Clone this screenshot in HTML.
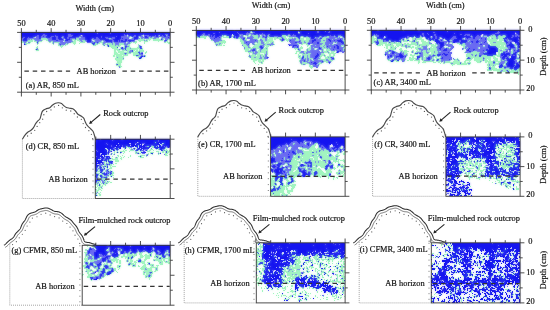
<!DOCTYPE html>
<html><head><meta charset="utf-8"><style>
html,body{margin:0;padding:0;background:#fff;}
svg{display:block;}
text{font-family:"Liberation Serif","Times New Roman",serif;font-size:8.4px;fill:#111;stroke:#111;stroke-width:0.18px;}
</style></head><body>
<svg width="550" height="310" viewBox="0 0 550 310">
<defs><filter id="sb" filterUnits="userSpaceOnUse" x="0" y="0" width="550" height="310"><feGaussianBlur stdDeviation="0.8"/></filter><g id="dye"><path stroke="#1414f0" stroke-width="1" fill="none" d="M196 30.5h38m1 0h53m1 0h56m26 0h6m2 0h24m1 0h14m2 0h100M197 31.5h53m2 0h46m1 0h18m2 0h6m1 0h3m1 0h15m26 0h76m1 0h50m1 0h21M21 32.5h76m1 0h30m2 0h40m26 0h23m1 0h17m1 0h9m1 0h2m5 0h43m2 0h17m2 0h9m2 0h15m26 0h62m2 0h62m3 0h15m1 0h4M21 33.5h76m1 0h12m1 0h59m26 0h7m2 0h8m2 0h23m1 0h7m7 0h9m1 0h35m2 0h8m1 0h36m26 0h51m2 0h3m1 0h26m1 0h40m4 0h16m2 0h3M21 34.5h22m2 0h23m3 0h53m1 0h2m1 0h15m1 0h21m3 0h2m26 0h6m3 0h3m2 0h22m1 0h6m4 0h3m8 0h2m2 0h1m6 0h3m2 0h18m2 0h3m1 0h51m26 0h3m1 0h1m1 0h45m2 0h4m1 0h5m2 0h24m2 0h3m5 0h11m3 0h8m3 0h20m3 0h2M21 35.5h16m2 0h3m5 0h8m1 0h12m5 0h7m3 0h41m5 0h5m2 0h5m8 0h6m1 0h2m2 0h2m1 0h3m2 0h2m27 0h4m9 0h1m1 0h2m1 0h7m5 0h4m3 0h5m27 0h1m2 0h13m9 0h1m4 0h34m1 0h3m1 0h3m3 0h4m26 0h2m6 0h41m1 0h2m1 0h10m2 0h28m2 0h1m3 0h1m1 0h5m2 0h1m7 0h3m6 0h2m3 0h1m4 0h6m2 0h1M21 36.5h14m4 0h2m2 0h1m2 0h5m3 0h1m3 0h4m2 0h4m4 0h7m4 0h18m1 0h14m1 0h4m11 0h1m3 0h2m7 0h2m4 0h1m4 0h2m6 0h2m32 0h2m10 0h1m1 0h1m2 0h4m10 0h2m3 0h1m1 0h3m24 0h1m2 0h1m3 0h4m4 0h3m15 0h4m4 0h2m2 0h11m3 0h2m12 0h2m5 0h2m26 0h1m7 0h5m2 0h21m2 0h5m1 0h5m2 0h1m2 0h5m3 0h2m2 0h16m3 0h14m3 0h3m20 0h1m9 0h6m2 0h1m2 0h1M21 37.5h2m2 0h3m1 0h4m6 0h2m5 0h4m2 0h4m2 0h3m3 0h3m2 0h7m9 0h11m2 0h3m1 0h3m3 0h4m3 0h6m13 0h4m7 0h3m20 0h1m46 0h2m2 0h1m9 0h2m3 0h1m1 0h2m27 0h2m31 0h2m11 0h4m29 0h1m32 0h6m3 0h19m1 0h1m9 0h3m7 0h4m3 0h2m2 0h2m3 0h10m4 0h8m2 0h5m2 0h2m30 0h6m2 0h7M24 38.5h3m12 0h2m11 0h4m2 0h4m3 0h2m2 0h1m5 0h1m9 0h7m2 0h2m3 0h7m9 0h6m1 0h1m11 0h4m76 0h1m28 0h2m37 0h1m16 0h1m11 0h3m6 0h2m55 0h6m2 0h17m24 0h2m1 0h2m1 0h3m2 0h2m4 0h1m1 0h6m6 0h5m5 0h1m5 0h2m6 0h1m3 0h1m17 0h4m1 0h10m1 0h1M23 39.5h4m25 0h4m3 0h4m3 0h4m15 0h6m9 0h9m4 0h7m5 0h2m7 0h1m26 0h1m81 0h1m38 0h2m30 0h2m12 0h2m10 0h1m42 0h18m2 0h1m25 0h5m1 0h3m8 0h4m4 0h8m23 0h1m18 0h1m4 0h9M23 40.5h4m29 0h2m7 0h3m19 0h4m14 0h7m2 0h4m1 0h1m1 0h2m2 0h2m1 0h6m31 0h2m88 0h1m26 0h1m7 0h1m21 0h4m13 0h2m3 0h1m2 0h5m35 0h1m5 0h1m2 0h3m2 0h8m8 0h2m5 0h1m15 0h1m4 0h4m2 0h1m5 0h2m4 0h6m2 0h6m10 0h1m26 0h2m6 0h7M87 41.5h4m15 0h6m2 0h4m1 0h1m1 0h5m3 0h2m168 0h1m12 0h2m16 0h1m7 0h5m34 0h1m5 0h1m7 0h3m2 0h5m13 0h1m20 0h5m8 0h2m3 0h6m2 0h6m4 0h2m3 0h3m6 0h1m19 0h2m7 0h4M37 42.5h1m56 0h1m2 0h1m13 0h1m134 0h1m48 0h2m15 0h1m4 0h2m22 0h3m32 0h3m10 0h1m10 0h1m35 0h8m9 0h2m5 0h6m6 0h1m3 0h2m6 0h1m21 0h2m2 0h1m4 0h4M92 43.5h3m213 0h2m7 0h2m23 0h2m33 0h2m58 0h1m1 0h5m16 0h2m44 0h1m3 0h2m5 0h3M24 44.5h1m35 0h1m32 0h1m154 0h1m128 0h1m62 0h4m36 0h2m27 0h4m4 0h3M108 45.5h1m180 0h1m3 0h4m39 0h2m102 0h4m44 0h2m17 0h7m4 0h1M108 46.5h1m16 0h2m13 0h1m119 0h2m31 0h1m3 0h1m29 0h1m6 0h1m2 0h2m101 0h3m45 0h8m11 0h1m2 0h4m4 0h2M117 47.5h1m4 0h1m2 0h1m14 0h1m119 0h3m34 0h1m21 0h1m14 0h1m2 0h2m101 0h2m46 0h9m13 0h5m3 0h2M121 48.5h2m2 0h1m14 0h2m119 0h2m56 0h2m16 0h2m100 0h2m5 0h1m22 0h1m19 0h9m12 0h1M36 49.5h1m88 0h1m127 0h2m43 0h1m34 0h1m106 0h1m3 0h3m21 0h1m4 0h2m11 0h2m1 0h9m11 0h2m7 0h1M132 50.5h1m119 0h3m85 0h1m48 0h2m52 0h4m20 0h2m4 0h1m9 0h1m2 0h12m16 0h1m2 0h2M132 51.5h1m204 0h2m53 0h2m75 0h2m16 0h11m8 0h1m10 0h2M138 52.5h2m197 0h1m54 0h3m53 0h1m38 0h9m7 0h2m10 0h2M125 53.5h1m13 0h1m1 0h2m174 0h1m74 0h2m6 0h1m14 0h3m1 0h2m22 0h2m38 0h13m5 0h4m1 0h4m3 0h3M317 54.5h2m66 0h1m13 0h3m35 0h4m1 0h1m1 0h4m36 0h12m5 0h9m2 0h4M136 55.5h2m178 0h3m71 0h2m7 0h4m30 0h2m2 0h3m5 0h2m28 0h1m3 0h2m6 0h6m8 0h2m1 0h3m2 0h1m2 0h1m2 0h1M141 56.5h2m1 0h1m158 0h1m11 0h3m70 0h1m1 0h2m4 0h8m1 0h1m11 0h3m59 0h2m22 0h4m4 0h5M140 57.5h2m125 0h1m34 0h2m11 0h2m14 0h1m56 0h1m7 0h1m3 0h3m14 0h3m8 0h2m12 0h1m25 0h1m33 0h3m2 0h1m3 0h5m3 0h1M139 58.5h2m161 0h1m11 0h2m16 0h2m83 0h1m9 0h3m11 0h2m24 0h3m13 0h1m18 0h3m1 0h3m1 0h6M428 59.5h2m7 0h2m10 0h1m53 0h1m3 0h8M304 60.5h1m87 0h2m3 0h2m38 0h1m69 0h7M304 61.5h1m17 0h1m68 0h2m115 0h7m4 0h1M311 62.5h1m2 0h2m13 0h1m163 0h2m12 0h8m4 0h1M313 63.5h4m143 0h1m45 0h9m1 0h2M117 64.5h1m197 0h1m185 0h1m4 0h8m2 0h3M500 65.5h3m4 0h8m1 0h4M499 66.5h4m4 0h7m1 0h5M489 67.5h1m9 0h3m2 0h2m4 0h3m1 0h5M489 68.5h2m19 0h3m1 0h4M514 69.5h3M507 70.5h1M508 71.5h1M508 72.5h1M271 137.5h74m101 0h15m1 0h12m2 0h26m1 0h12m1 0h4M271 138.5h74m101 0h9m1 0h18m2 0h21m1 0h4m2 0h15M95 139.5h5m1 0h12m1 0h7m2 0h47m101 0h20m1 0h53m101 0h9m1 0h13m1 0h5m1 0h29m1 0h13M96 140.5h16m1 0h45m1 0h11m101 0h33m2 0h39m102 0h5m1 0h1m2 0h2m2 0h7m1 0h1m1 0h9m1 0h1m1 0h1m2 0h20m1 0h9m1 0h3M96 141.5h62m1 0h11m101 0h22m4 0h6m9 0h33m101 0h8m1 0h3m1 0h7m1 0h12m2 0h11m3 0h4m1 0h5m5 0h2m1 0h2m1 0h4M95 142.5h42m2 0h16m1 0h14m101 0h20m7 0h2m2 0h1m10 0h3m1 0h19m1 0h8m101 0h6m1 0h4m3 0h5m4 0h3m1 0h1m2 0h5m2 0h2m2 0h6m1 0h5m3 0h4m2 0h1m2 0h4m1 0h4M95 143.5h11m1 0h11m1 0h10m2 0h4m2 0h5m3 0h14m1 0h2m2 0h6m101 0h15m1 0h3m9 0h1m7 0h2m4 0h1m4 0h27m101 0h1m3 0h6m2 0h1m3 0h1m2 0h1m3 0h3m1 0h1m2 0h7m3 0h12m1 0h2m2 0h3m10 0h4M95 144.5h12m1 0h22m1 0h4m1 0h4m1 0h1m2 0h16m3 0h7m101 0h14m3 0h1m18 0h2m11 0h11m2 0h4m1 0h7m102 0h4m1 0h4m2 0h1m4 0h1m5 0h1m1 0h1m1 0h2m2 0h2m1 0h1m1 0h2m2 0h3m1 0h6m1 0h1m2 0h2m4 0h1m6 0h7M95 145.5h16m1 0h4m1 0h2m1 0h2m1 0h7m1 0h7m1 0h3m1 0h8m2 0h4m2 0h2m2 0h7m101 0h8m1 0h2m26 0h1m10 0h2m2 0h6m4 0h8m2 0h2m101 0h4m2 0h6m5 0h1m8 0h1m2 0h5m1 0h4m1 0h2m1 0h7m1 0h1m20 0h2M95 146.5h16m1 0h10m1 0h3m2 0h6m1 0h3m1 0h6m4 0h2m3 0h2m1 0h1m1 0h2m1 0h2m1 0h1m1 0h3m101 0h7m3 0h1m20 0h1m16 0h2m3 0h5m6 0h5m4 0h1m102 0h6m2 0h3m3 0h1m10 0h1m3 0h5m1 0h3m1 0h10m7 0h1m13 0h3M95 147.5h19m2 0h5m4 0h1m11 0h1m1 0h3m1 0h7m4 0h11m3 0h1m102 0h6m45 0h1m2 0h4m5 0h5m5 0h1m102 0h2m1 0h7m4 0h1m9 0h1m1 0h1m1 0h11m1 0h1m2 0h5m3 0h1m11 0h3M95 148.5h10m2 0h6m2 0h3m1 0h2m4 0h1m8 0h1m3 0h2m1 0h8m7 0h2m2 0h5m106 0h5m50 0h3m3 0h3m2 0h1m109 0h1m1 0h8m3 0h1m2 0h3m1 0h3m2 0h1m1 0h4m1 0h5m1 0h1m1 0h9m18 0h1m1 0h4M95 149.5h11m2 0h2m1 0h3m2 0h2m19 0h2m1 0h2m1 0h1m16 0h2m109 0h2m54 0h3m3 0h1m2 0h2m2 0h1m3 0h1m101 0h6m1 0h3m1 0h2m2 0h1m1 0h2m2 0h6m2 0h3m3 0h2m1 0h1m1 0h9m20 0h5M95 150.5h1m1 0h10m2 0h1m3 0h2m21 0h2m2 0h1m5 0h1m14 0h2m120 0h1m35 0h1m9 0h2m3 0h2m4 0h1m105 0h1m1 0h10m3 0h1m1 0h2m2 0h1m2 0h3m1 0h4m3 0h6m2 0h3m1 0h2m16 0h1m2 0h1m3 0h2M95 151.5h2m1 0h9m1 0h1m2 0h1m54 0h1m116 0h1m8 0h2m25 0h1m9 0h2m9 0h1m105 0h1m2 0h4m1 0h3m7 0h1m1 0h2m1 0h10m1 0h12m1 0h3m19 0h1m2 0h2M95 152.5h12m1 0h1m8 0h1m2 0h1m20 0h5m20 0h1m116 0h1m5 0h1m2 0h3m17 0h2m132 0h1m1 0h3m1 0h1m2 0h2m1 0h2m1 0h1m1 0h3m1 0h1m1 0h2m1 0h8m4 0h12m4 0h1m14 0h5M95 153.5h5m2 0h5m1 0h1m29 0h1m12 0h2m7 0h1m132 0h3m6 0h1m143 0h1m2 0h2m1 0h1m1 0h3m1 0h5m6 0h12m1 0h10m2 0h1m1 0h1m9 0h1m7 0h5M95 154.5h5m1 0h6m181 0h1m6 0h1m34 0h1m115 0h1m1 0h4m2 0h10m1 0h3m1 0h1m2 0h2m1 0h2m1 0h12m4 0h1m3 0h2m14 0h5M95 155.5h5m1 0h1m2 0h1m224 0h2m117 0h4m3 0h12m2 0h2m2 0h6m1 0h1m1 0h5m1 0h3m2 0h2m11 0h1m9 0h1M95 156.5h1m1 0h6m1 0h1m1 0h3m31 0h1m147 0h2m8 0h1m21 0h1m127 0h11m2 0h6m6 0h2m1 0h5m1 0h14m10 0h5m5 0h2m1 0h1M95 157.5h5m1 0h3m2 0h2m1 0h1m162 0h1m15 0h2m8 0h1m21 0h2m124 0h12m3 0h1m1 0h5m4 0h9m1 0h15m17 0h1m2 0h3M95 158.5h5m2 0h2m2 0h5m160 0h4m7 0h1m163 0h4m2 0h3m2 0h1m8 0h2m1 0h1m2 0h1m7 0h1m1 0h1m3 0h10m8 0h2m7 0h1m3 0h3M95 159.5h3m3 0h2m2 0h2m1 0h1m162 0h4m172 0h3m1 0h2m1 0h2m10 0h2m18 0h3m1 0h1m4 0h1m18 0h1m2 0h3M95 160.5h8m1 0h3m1 0h1m162 0h4m6 0h2m3 0h1m3 0h1m33 0h1m4 0h1m116 0h4m2 0h5m3 0h2m3 0h1m11 0h1m2 0h1m4 0h7m1 0h3m5 0h2m3 0h1m5 0h1m4 0h1M95 161.5h7m4 0h1m1 0h5m158 0h5m9 0h6m18 0h1m19 0h1m116 0h3m1 0h14m10 0h1m2 0h1m7 0h14m5 0h2m1 0h1m2 0h1m6 0h3M95 162.5h2m1 0h5m6 0h3m159 0h2m32 0h7m17 0h2m117 0h1m2 0h7m28 0h3m1 0h2m3 0h4m1 0h1m4 0h1m4 0h2m7 0h1M95 163.5h5m2 0h1m8 0h1m166 0h4m24 0h1m3 0h2m17 0h1m117 0h3m1 0h9m1 0h2m24 0h1m3 0h2m1 0h5m1 0h1m2 0h1m7 0h8M95 164.5h2m6 0h1m3 0h1m1 0h1m167 0h4m7 0h1m12 0h2m8 0h1m16 0h1m9 0h2m107 0h12m29 0h4m1 0h1m3 0h2m1 0h1m2 0h1m2 0h6m2 0h6M95 165.5h4m174 0h2m2 0h3m10 0h1m9 0h5m3 0h1m1 0h2m14 0h3m2 0h2m115 0h4m1 0h1m1 0h3m12 0h1m19 0h4m4 0h1m9 0h2m3 0h2m3 0h2M95 166.5h3m2 0h1m4 0h1m1 0h1m164 0h4m2 0h2m21 0h1m6 0h1m1 0h2m13 0h3m2 0h3m114 0h4m1 0h2m1 0h3m4 0h1m13 0h1m13 0h3m1 0h3m1 0h1m14 0h2m2 0h3M95 167.5h2m3 0h2m5 0h1m165 0h2m2 0h2m3 0h2m2 0h1m11 0h1m27 0h1m3 0h3m113 0h1m1 0h3m1 0h4m1 0h2m4 0h1m13 0h1m8 0h2m1 0h8m4 0h1m8 0h2m1 0h6M95 168.5h2m3 0h1m3 0h1m172 0h6m15 0h2m25 0h2m120 0h12m18 0h1m9 0h6m1 0h4m1 0h4m6 0h8m1 0h1M95 169.5h2m3 0h3m168 0h2m2 0h8m7 0h1m8 0h2m3 0h1m6 0h1m14 0h1m119 0h3m1 0h9m27 0h1m2 0h10m1 0h3m2 0h1m3 0h11M95 170.5h2m3 0h3m4 0h1m163 0h2m1 0h5m1 0h3m16 0h2m2 0h3m140 0h6m3 0h4m5 0h1m4 0h1m16 0h2m2 0h9m1 0h1m2 0h3m3 0h1m1 0h3m3 0h3M96 171.5h1m4 0h1m6 0h1m2 0h1m160 0h1m1 0h5m1 0h2m1 0h2m14 0h6m10 0h2m129 0h1m1 0h1m2 0h11m5 0h3m15 0h7m3 0h11m3 0h2m4 0h1M95 172.5h1m4 0h2m8 0h1m164 0h7m2 0h1m17 0h4m2 0h2m4 0h3m129 0h3m1 0h2m1 0h3m1 0h1m1 0h3m24 0h6m1 0h7m2 0h1m1 0h5m1 0h3m1 0h4m1 0h1M95 173.5h1m6 0h3m1 0h1m1 0h1m1 0h2m164 0h7m20 0h4m1 0h2m4 0h3m22 0h1m106 0h1m1 0h1m1 0h3m2 0h4m1 0h1m12 0h1m11 0h1m1 0h2m1 0h10m2 0h1m3 0h4m2 0h6M96 174.5h2m6 0h3m3 0h1m165 0h3m6 0h1m2 0h1m14 0h7m4 0h2m13 0h2m115 0h9m1 0h1m1 0h1m13 0h1m12 0h1m1 0h2m2 0h3m1 0h5m1 0h4m4 0h11M96 175.5h2m2 0h2m174 0h2m7 0h2m11 0h1m3 0h3m3 0h2m4 0h1m14 0h1m116 0h14m21 0h2m2 0h4m7 0h2m5 0h7m2 0h4M95 176.5h2m3 0h2m9 0h1m163 0h7m3 0h1m17 0h2m141 0h1m1 0h2m1 0h7m12 0h1m11 0h1m2 0h1m1 0h2m7 0h1m1 0h2m9 0h7M96 177.5h1m4 0h1m2 0h3m168 0h4m1 0h3m1 0h3m4 0h1m154 0h1m4 0h4m3 0h1m31 0h1m5 0h1m1 0h3m7 0h2m1 0h2M275 178.5h3m2 0h3m8 0h2m155 0h2m1 0h3m3 0h1m38 0h1m14 0h2M97 179.5h1m177 0h2m3 0h2m9 0h2m155 0h1m1 0h5m46 0h1m4 0h1m1 0h1m2 0h3M95 180.5h5m4 0h1m170 0h2m3 0h2m10 0h1m153 0h5m3 0h2m5 0h1M95 181.5h2m182 0h3m9 0h2m156 0h4m1 0h3m2 0h1m1 0h3M95 182.5h1m184 0h2m6 0h4m158 0h3m1 0h3m2 0h1m3 0h2m2 0h2m32 0h3m3 0h4M103 183.5h1m171 0h1m5 0h2m5 0h2m158 0h1m2 0h1m3 0h3m11 0h1m31 0h1m6 0h2M99 184.5h1m175 0h1m4 0h3m5 0h1m157 0h3m4 0h2m3 0h3m6 0h3m43 0h1M99 185.5h1m182 0h1m163 0h1m5 0h4m7 0h1m2 0h1m2 0h1m43 0h1M274 186.5h1m4 0h1m174 0h1m7 0h2m42 0h1M274 187.5h1m3 0h2m170 0h2m2 0h2m3 0h6m1 0h3M273 188.5h2m2 0h2m170 0h1m2 0h3m1 0h3m1 0h2m1 0h1m1 0h3m45 0h1M272 189.5h4m1 0h2m167 0h2m4 0h2m1 0h5m1 0h1m1 0h1m2 0h1m2 0h3m41 0h1M271 190.5h5m170 0h4m2 0h1m1 0h3m2 0h1m1 0h1m1 0h5m1 0h1m1 0h1M271 191.5h2m173 0h3m1 0h1m1 0h1m2 0h1m1 0h1m1 0h2m1 0h5M452 192.5h1m1 0h2m1 0h3m4 0h2m1 0h1M273 193.5h1m176 0h1m7 0h3m4 0h5M450 194.5h5m2 0h3m5 0h1m2 0h2M96 195.5h1m353 0h3m1 0h1m1 0h3m1 0h2m2 0h3m4 0h1M259 243.5h1m3 0h26m1 0h43m1 0h11m100 0h2m3 0h1m1 0h40m1 0h27M258 244.5h1m4 0h62m1 0h9m1 0h3m1 0h5m101 0h1m5 0h68M93 245.5h14m2 0h21m1 0h39m93 0h1m1 0h8m1 0h39m1 0h31m87 0h2m1 0h1m8 0h1m6 0h1m1 0h45m1 0h21M94 246.5h36m1 0h39m93 0h16m1 0h65m99 0h1m3 0h1m4 0h67M95 247.5h13m2 0h34m1 0h7m2 0h16m93 0h24m1 0h57m103 0h2m3 0h5m2 0h9m1 0h1m1 0h39m1 0h8M90 248.5h1m5 0h12m2 0h5m1 0h1m4 0h31m3 0h15m93 0h14m1 0h1m1 0h1m1 0h44m1 0h13m1 0h4m104 0h2m2 0h5m2 0h12m1 0h4m1 0h20m2 0h5m1 0h1m1 0h2m2 0h8M89 249.5h3m5 0h9m4 0h4m1 0h3m1 0h1m2 0h8m1 0h6m1 0h14m3 0h15m93 0h12m1 0h62m1 0h6m100 0h1m3 0h1m3 0h7m1 0h2m2 0h3m1 0h1m3 0h4m3 0h4m1 0h7m1 0h4m1 0h7m1 0h8m2 0h4M89 250.5h1m6 0h10m4 0h7m5 0h8m1 0h6m2 0h4m2 0h6m1 0h1m1 0h3m2 0h7m3 0h1m92 0h29m2 0h1m1 0h20m1 0h20m2 0h7m101 0h2m1 0h1m3 0h6m1 0h1m1 0h1m1 0h1m1 0h4m5 0h2m3 0h2m1 0h1m1 0h8m1 0h3m4 0h13m1 0h5M88 251.5h2m6 0h11m3 0h2m1 0h4m4 0h3m2 0h3m3 0h5m2 0h3m5 0h5m3 0h2m3 0h5m4 0h1m94 0h7m1 0h4m1 0h9m1 0h3m6 0h17m1 0h1m1 0h4m1 0h6m1 0h6m4 0h5m1 0h1m103 0h1m6 0h3m2 0h4m2 0h6m9 0h1m4 0h11m2 0h1m1 0h10m3 0h6M88 252.5h2m4 0h14m6 0h3m4 0h3m2 0h2m3 0h5m12 0h3m5 0h2m3 0h4m4 0h1m87 0h1m5 0h2m1 0h5m1 0h1m1 0h1m2 0h5m2 0h4m1 0h2m1 0h3m1 0h12m1 0h3m1 0h5m3 0h3m5 0h3m4 0h2m1 0h1m1 0h4m94 0h2m8 0h2m1 0h1m2 0h4m1 0h4m3 0h1m1 0h4m12 0h3m1 0h5m1 0h1m1 0h1m6 0h4m1 0h1m6 0h2M88 253.5h1m5 0h13m6 0h2m1 0h2m3 0h2m7 0h2m24 0h2m2 0h4m94 0h1m3 0h2m1 0h6m1 0h1m1 0h1m1 0h5m3 0h3m2 0h2m1 0h9m1 0h8m1 0h7m1 0h2m1 0h3m1 0h19m95 0h1m11 0h4m1 0h4m3 0h4m1 0h1m1 0h2m8 0h1m2 0h3m2 0h2m1 0h2m3 0h2m1 0h1m2 0h3m3 0h2m1 0h2m2 0h4M94 254.5h5m3 0h5m5 0h6m32 0h1m8 0h2m1 0h2m5 0h1m92 0h7m1 0h12m1 0h12m1 0h5m2 0h7m2 0h1m1 0h2m2 0h7m4 0h4m1 0h10m96 0h1m6 0h1m2 0h1m1 0h4m3 0h9m1 0h4m4 0h2m5 0h2m2 0h3m1 0h4m1 0h1m1 0h7m1 0h2m1 0h1m2 0h1m1 0h3M94 255.5h5m4 0h1m1 0h1m6 0h6m32 0h1m11 0h2m5 0h1m92 0h9m1 0h2m2 0h13m1 0h2m4 0h4m4 0h3m5 0h3m4 0h3m2 0h6m3 0h5m3 0h2m1 0h1m86 0h3m9 0h1m3 0h2m1 0h2m1 0h5m3 0h1m2 0h2m3 0h4m4 0h2m11 0h5m1 0h5m1 0h3m2 0h2m1 0h1m2 0h4M94 256.5h5m7 0h4m3 0h5m14 0h1m23 0h1m5 0h3m94 0h1m2 0h12m3 0h10m1 0h3m4 0h1m14 0h1m9 0h2m6 0h4m1 0h4m3 0h5m91 0h1m2 0h1m11 0h8m1 0h1m3 0h3m2 0h3m1 0h2m2 0h1m1 0h1m3 0h1m2 0h1m2 0h2m1 0h7m1 0h5m1 0h3m5 0h3m2 0h1M94 257.5h5m6 0h3m6 0h1m13 0h1m2 0h2m24 0h1m5 0h2m97 0h7m1 0h6m1 0h1m2 0h9m3 0h3m14 0h1m9 0h3m3 0h1m9 0h3m3 0h3m94 0h1m12 0h1m1 0h4m1 0h1m1 0h2m2 0h5m1 0h2m5 0h1m1 0h1m9 0h4m1 0h1m1 0h1m6 0h1m1 0h4m5 0h3m2 0h1M94 258.5h3m5 0h4m1 0h1m20 0h1m2 0h1m27 0h2m101 0h1m1 0h11m2 0h1m2 0h11m1 0h1m16 0h1m24 0h1m6 0h1m102 0h3m2 0h3m4 0h1m1 0h2m2 0h4m1 0h1m2 0h1m5 0h1m2 0h1m4 0h1m4 0h6m1 0h1m8 0h4m1 0h1m2 0h1m1 0h3M102 259.5h4m156 0h1m2 0h3m1 0h7m2 0h3m3 0h5m1 0h3m2 0h1m32 0h1m102 0h1m14 0h4m1 0h1m2 0h3m1 0h1m2 0h11m11 0h2m5 0h4m9 0h1m1 0h3m1 0h2m1 0h1m1 0h2M102 260.5h4m2 0h1m30 0h2m125 0h4m1 0h6m1 0h7m1 0h1m1 0h7m10 0h4m126 0h1m6 0h8m4 0h3m1 0h1m1 0h1m1 0h8m4 0h1m4 0h1m5 0h2m1 0h13m2 0h2m1 0h2m1 0h3m3 0h3M103 261.5h1m4 0h3m27 0h3m124 0h4m1 0h13m3 0h2m2 0h1m1 0h3m23 0h1m116 0h1m6 0h11m2 0h2m1 0h1m1 0h1m1 0h1m1 0h7m3 0h2m3 0h3m3 0h5m2 0h3m1 0h5m1 0h2m1 0h6m1 0h2m1 0h3M86 262.5h1m13 0h1m159 0h3m3 0h1m3 0h5m2 0h3m1 0h1m2 0h6m1 0h3m10 0h1m6 0h1m124 0h1m8 0h4m1 0h1m1 0h3m1 0h1m2 0h5m1 0h3m6 0h2m1 0h1m1 0h3m3 0h10m2 0h1m5 0h1m1 0h1m3 0h1m1 0h2m3 0h1m1 0h2M86 263.5h2m2 0h3m6 0h2m48 0h1m109 0h4m5 0h19m1 0h2m2 0h2m9 0h1m16 0h1m1 0h1m15 0h1m95 0h1m1 0h1m7 0h3m9 0h1m4 0h3m2 0h1m2 0h2m2 0h1m6 0h1m3 0h2m1 0h6m3 0h1m1 0h1m2 0h1m3 0h1m2 0h5m5 0h2M90 264.5h3m4 0h4m28 0h1m134 0h3m1 0h21m3 0h1m2 0h1m7 0h1m8 0h1m7 0h1m5 0h1m106 0h2m9 0h3m16 0h8m2 0h1m6 0h1m4 0h9m1 0h1m2 0h1m7 0h4m1 0h4m2 0h3M87 265.5h1m4 0h1m4 0h3m5 0h2m26 0h1m133 0h17m1 0h5m11 0h1m9 0h2m7 0h1m110 0h2m11 0h2m1 0h3m4 0h2m7 0h3m1 0h5m3 0h1m1 0h1m7 0h11m1 0h2m6 0h1m1 0h3m5 0h2m1 0h2M86 266.5h3m6 0h1m2 0h1m5 0h4m11 0h1m144 0h1m2 0h1m1 0h1m1 0h8m1 0h6m2 0h1m12 0h1m28 0h1m4 0h1m4 0h1m90 0h2m3 0h2m4 0h7m1 0h2m2 0h2m5 0h5m1 0h4m10 0h3m2 0h9m2 0h1m7 0h2m1 0h2m6 0h1m2 0h1M86 267.5h3m9 0h1m6 0h3m157 0h11m1 0h2m2 0h1m156 0h1m3 0h5m1 0h5m12 0h3m2 0h1m12 0h1m2 0h9m2 0h1m2 0h2m1 0h1m1 0h3m1 0h2m1 0h5m1 0h2M88 268.5h1m9 0h2m3 0h1m2 0h1m5 0h1m152 0h18m4 0h1m33 0h2m1 0h1m12 0h1m94 0h3m3 0h3m1 0h3m1 0h1m2 0h4m2 0h1m2 0h2m4 0h4m4 0h2m5 0h1m2 0h5m1 0h3m1 0h1m4 0h4m1 0h1m4 0h1m2 0h10M103 269.5h2m7 0h1m152 0h3m2 0h14m19 0h1m26 0h1m101 0h3m4 0h8m1 0h2m1 0h1m6 0h3m1 0h1m3 0h2m4 0h1m11 0h4m1 0h2m6 0h2m3 0h1m4 0h1m2 0h3m2 0h3M97 270.5h1m5 0h2m6 0h2m151 0h1m1 0h2m2 0h2m4 0h6m30 0h1m28 0h1m97 0h3m2 0h5m4 0h3m1 0h1m2 0h1m2 0h8m15 0h6m2 0h1m3 0h1m1 0h1m3 0h4m1 0h4m3 0h4M101 271.5h4m4 0h4m146 0h1m4 0h5m1 0h3m2 0h1m2 0h5m24 0h1m31 0h1m98 0h3m2 0h3m5 0h1m2 0h1m2 0h9m1 0h4m5 0h2m1 0h2m1 0h3m4 0h3m1 0h2m5 0h2m3 0h5m3 0h1m2 0h1m1 0h2M95 272.5h1m6 0h3m2 0h4m39 0h2m112 0h9m1 0h4m1 0h3m42 0h1m113 0h8m3 0h1m2 0h3m1 0h1m1 0h1m2 0h2m1 0h7m5 0h1m1 0h3m1 0h1m1 0h1m3 0h3m2 0h4m3 0h3m4 0h1m4 0h1m5 0h2M102 273.5h2m3 0h4m154 0h2m2 0h1m2 0h1m1 0h4m3 0h2m19 0h1m22 0h1m6 0h2m98 0h1m2 0h1m2 0h8m16 0h1m2 0h2m3 0h1m14 0h1m2 0h5m11 0h1m8 0h1m1 0h1m1 0h3M100 274.5h2m5 0h2m156 0h3m1 0h2m1 0h4m1 0h3m1 0h2m41 0h1m107 0h1m2 0h1m1 0h1m1 0h7m5 0h2m9 0h6m2 0h3m3 0h5m7 0h5m7 0h1m3 0h2m1 0h5m2 0h6M100 275.5h2m47 0h1m113 0h4m2 0h12m20 0h1m4 0h1m4 0h2m1 0h1m4 0h1m20 0h1m92 0h5m1 0h6m1 0h1m16 0h5m2 0h1m1 0h1m4 0h1m2 0h1m1 0h2m5 0h3m2 0h2m1 0h1m1 0h2m4 0h1m1 0h7m1 0h4M100 276.5h1m48 0h1m113 0h16m1 0h1m4 0h1m19 0h2m5 0h1m1 0h2m115 0h1m3 0h4m2 0h7m16 0h3m8 0h2m3 0h1m5 0h1m2 0h2m3 0h6m1 0h2m2 0h11m1 0h3M90 277.5h3m3 0h2m2 0h1m162 0h5m1 0h2m1 0h2m1 0h4m1 0h2m14 0h3m2 0h1m1 0h2m1 0h2m2 0h2m6 0h1m112 0h1m3 0h4m1 0h8m1 0h1m1 0h1m1 0h1m6 0h1m3 0h2m1 0h2m6 0h4m8 0h1m1 0h2m3 0h2m3 0h1m1 0h1m3 0h3m2 0h10M91 278.5h2m3 0h2m166 0h1m1 0h6m1 0h8m14 0h5m1 0h6m2 0h4m1 0h3m25 0h1m88 0h8m1 0h8m1 0h2m2 0h1m4 0h1m5 0h8m3 0h2m1 0h2m2 0h1m1 0h2m2 0h3m1 0h6m1 0h4m1 0h1m2 0h11m1 0h1M91 279.5h1m2 0h3m163 0h1m3 0h13m2 0h4m12 0h11m2 0h2m4 0h2m5 0h1m110 0h16m2 0h1m4 0h2m1 0h1m5 0h8m2 0h3m1 0h1m3 0h4m1 0h4m1 0h14m3 0h1m1 0h1m1 0h7M262 280.5h11m2 0h2m2 0h3m1 0h1m9 0h1m1 0h2m1 0h1m1 0h5m3 0h2m2 0h1m1 0h3m1 0h1m7 0h1m17 0h1m86 0h2m1 0h1m1 0h4m4 0h4m1 0h4m2 0h7m1 0h7m4 0h1m1 0h8m1 0h4m2 0h19m2 0h8M262 281.5h4m1 0h4m2 0h1m1 0h2m2 0h3m7 0h1m2 0h1m3 0h3m2 0h1m1 0h2m2 0h11m5 0h1m5 0h1m101 0h2m3 0h2m1 0h2m1 0h1m1 0h6m1 0h14m2 0h1m2 0h1m2 0h14m1 0h2m2 0h4m1 0h1m2 0h4m1 0h9m1 0h5M264 282.5h10m1 0h2m3 0h3m14 0h3m1 0h1m1 0h3m1 0h13m3 0h4m1 0h1m102 0h6m2 0h6m1 0h7m1 0h4m2 0h8m2 0h7m1 0h2m1 0h6m1 0h3m1 0h6m4 0h1m1 0h3m1 0h2m2 0h2m1 0h5M265 283.5h4m1 0h2m3 0h1m1 0h1m2 0h2m13 0h5m2 0h1m1 0h1m1 0h1m1 0h2m1 0h10m1 0h4m107 0h4m1 0h4m2 0h3m1 0h4m2 0h5m1 0h5m1 0h6m1 0h2m1 0h1m2 0h1m2 0h16m3 0h6m5 0h1m2 0h1m1 0h2M267 284.5h2m1 0h1m2 0h4m1 0h3m14 0h2m1 0h9m1 0h1m2 0h5m2 0h1m1 0h4m1 0h1m1 0h1m9 0h1m93 0h1m1 0h5m2 0h1m5 0h6m1 0h6m2 0h1m4 0h3m2 0h10m1 0h2m3 0h6m1 0h5m1 0h6m1 0h2m6 0h1m1 0h1M267 285.5h4m2 0h3m2 0h3m14 0h2m2 0h5m1 0h2m1 0h2m1 0h5m1 0h2m1 0h8m1 0h2m100 0h4m1 0h3m7 0h6m3 0h5m4 0h3m1 0h6m4 0h2m3 0h1m3 0h4m1 0h5m1 0h1m1 0h5m9 0h1m3 0h1M268 286.5h4m2 0h8m13 0h2m4 0h3m1 0h2m3 0h4m3 0h5m1 0h3m1 0h6m101 0h1m9 0h1m2 0h4m1 0h1m2 0h2m2 0h1m2 0h1m1 0h4m2 0h3m4 0h2m9 0h3m3 0h2m2 0h4m2 0h1m8 0h2m2 0h1M268 287.5h1m2 0h1m6 0h1m16 0h4m14 0h8m5 0h5m4 0h1m7 0h1m90 0h2m1 0h2m2 0h1m2 0h1m3 0h4m1 0h3m3 0h1m3 0h3m4 0h4m4 0h1m4 0h1m1 0h2m1 0h2m1 0h2m3 0h5m3 0h1m9 0h1m2 0h1M267 288.5h1m4 0h1m22 0h3m18 0h3m3 0h3m1 0h5m1 0h4m4 0h1m2 0h1m88 0h1m2 0h1m1 0h2m1 0h2m2 0h2m1 0h2m2 0h3m1 0h1m3 0h2m2 0h2m2 0h1m1 0h3m3 0h2m1 0h1m3 0h2m2 0h1m3 0h1m1 0h3m2 0h3m1 0h2M295 289.5h1m1 0h1m26 0h4m1 0h2m1 0h4m99 0h1m7 0h3m1 0h1m1 0h5m1 0h1m3 0h2m3 0h1m2 0h1m3 0h2m2 0h2m2 0h9m2 0h2m5 0h7m4 0h1m5 0h1m2 0h1M297 290.5h1m25 0h8m1 0h3m1 0h2m97 0h1m3 0h2m1 0h5m4 0h3m4 0h1m1 0h1m6 0h1m2 0h1m2 0h4m2 0h1m2 0h4m2 0h1m1 0h5m2 0h2m1 0h2m1 0h1m3 0h4m5 0h2M295 291.5h1m28 0h2m2 0h3m1 0h2m2 0h2m99 0h6m1 0h5m1 0h1m1 0h2m1 0h1m2 0h1m1 0h1m2 0h1m5 0h2m3 0h6m5 0h1m4 0h1m1 0h7m8 0h1m1 0h1m2 0h1m4 0h2M324 292.5h1m8 0h1m1 0h3m93 0h1m4 0h5m1 0h1m1 0h1m2 0h2m2 0h1m3 0h1m2 0h7m2 0h1m9 0h3m2 0h1m3 0h2m2 0h2m2 0h2m3 0h2m1 0h1m2 0h1m6 0h1M282 293.5h1m17 0h1m30 0h1m2 0h1m1 0h1m102 0h2m5 0h1m3 0h1m4 0h6m4 0h2m5 0h1m5 0h3m3 0h2m1 0h2m1 0h2m3 0h1m4 0h3m3 0h1m4 0h1m7 0h1M305 294.5h1m25 0h1m10 0h1m98 0h1m11 0h1m2 0h5m3 0h1m9 0h1m3 0h3m4 0h1m2 0h5m2 0h1m4 0h3m3 0h1m4 0h2m3 0h4M439 295.5h2m9 0h1m2 0h2m4 0h1m17 0h1m1 0h1m5 0h2m7 0h4m2 0h1m6 0h1m1 0h1m6 0h2m1 0h1M292 296.5h1m6 0h4m145 0h1m1 0h1m3 0h1m1 0h1m12 0h1m4 0h1m1 0h1m2 0h1m4 0h3m2 0h1m4 0h1m1 0h1m1 0h1m1 0h2m5 0h1m1 0h1m1 0h2m3 0h2M431 297.5h1m2 0h1m11 0h1m1 0h1m1 0h3m1 0h1m2 0h1m2 0h1m6 0h2m1 0h2m2 0h1m8 0h1m3 0h1m7 0h4m1 0h3m2 0h1m2 0h2m1 0h1m4 0h3M285 298.5h1m16 0h1m2 0h1m7 0h1m117 0h4m2 0h2m9 0h5m1 0h1m3 0h1m1 0h1m2 0h1m17 0h2m4 0h3m2 0h1m2 0h5m1 0h2m1 0h2m10 0h3M306 299.5h1m126 0h1m4 0h1m5 0h1m9 0h2m1 0h1m1 0h1m13 0h1m6 0h3m1 0h1m2 0h9m1 0h3m4 0h1m1 0h2m5 0h1m1 0h1m3 0h1M284 300.5h1m1 0h2m11 0h1m133 0h1m4 0h1m3 0h1m1 0h1m4 0h1m4 0h3m2 0h1m3 0h1m3 0h4m2 0h2m1 0h2m6 0h3m2 0h1m2 0h2m8 0h1m3 0h1m1 0h2m3 0h3m3 0h1M299 301.5h1m132 0h2m7 0h4m3 0h1m4 0h2m1 0h1m1 0h2m10 0h2m7 0h1m7 0h1m4 0h1m1 0h1m6 0h2m5 0h2m4 0h1m4 0h1M433 302.5h1m12 0h1m1 0h2m2 0h3m1 0h2m4 0h1m4 0h1m4 0h1m6 0h1m20 0h3m1 0h2m7 0h2m1 0h2m1 0h1"/><path stroke="#6a6af2" stroke-width="1" fill="none" d="M234 30.5h1m53 0h1m88 0h2m24 0h1m14 0h2M196 31.5h1m53 0h1m47 0h1m18 0h2m6 0h1m3 0h1m117 0h1m50 0h1M97 32.5h1m30 0h2m89 0h1m17 0h1m9 0h1m5 0h2m62 0h2m9 0h2m103 0h2m62 0h3m15 0h1M97 33.5h1m12 0h1m92 0h2m8 0h2m23 0h1m7 0h7m9 0h1m35 0h2m8 0h1m113 0h2m3 0h1m26 0h1m40 0h4m17 0h1M43 34.5h2m23 0h3m53 0h1m2 0h1m15 0h1m21 0h3m34 0h3m3 0h2m29 0h4m3 0h3m2 0h3m2 0h2m1 0h6m3 0h2m18 0h2m3 0h1m80 0h1m1 0h1m45 0h2m4 0h1m5 0h2m24 0h2m3 0h5m11 0h1m1 0h1m8 0h3m20 0h3M37 35.5h2m3 0h5m8 0h1m12 0h5m7 0h1m1 0h1m41 0h3m1 0h1m5 0h2m5 0h1m2 0h5m6 0h1m2 0h1m3 0h1m4 0h1m28 0h1m4 0h2m1 0h6m1 0h1m2 0h1m8 0h1m2 0h1m4 0h1m7 0h1m1 0h2m4 0h1m3 0h1m6 0h2m2 0h2m1 0h1m1 0h1m18 0h2m2 0h1m1 0h4m34 0h1m3 0h1m3 0h3m32 0h1m1 0h4m41 0h1m2 0h1m10 0h2m28 0h2m1 0h3m1 0h1m5 0h2m1 0h1m2 0h4m3 0h1m1 0h1m2 0h1m2 0h1m1 0h1m1 0h1m2 0h1m6 0h2m1 0h5M35 36.5h4m2 0h2m1 0h2m5 0h3m1 0h3m4 0h2m4 0h4m7 0h4m18 0h1m14 0h1m4 0h6m1 0h2m1 0h1m1 0h3m2 0h1m1 0h3m1 0h1m2 0h4m1 0h4m2 0h6m2 0h4m27 0h1m11 0h1m1 0h1m1 0h2m4 0h3m9 0h1m1 0h1m1 0h1m3 0h4m7 0h3m5 0h2m2 0h1m1 0h2m1 0h1m1 0h1m4 0h4m3 0h1m7 0h7m4 0h1m2 0h1m2 0h2m11 0h1m1 0h1m2 0h3m2 0h5m1 0h1m6 0h1m33 0h3m6 0h1m21 0h2m12 0h1m1 0h2m5 0h1m1 0h1m2 0h2m16 0h3m14 0h1m1 0h1m3 0h5m2 0h1m3 0h2m8 0h1m14 0h2m1 0h2m1 0h2M23 37.5h2m3 0h1m4 0h1m2 0h3m2 0h5m4 0h2m4 0h2m3 0h1m1 0h1m3 0h2m7 0h3m2 0h4m11 0h2m3 0h1m3 0h3m4 0h3m6 0h8m4 0h1m4 0h1m2 0h4m3 0h1m1 0h2m2 0h5m3 0h6m1 0h1m29 0h1m10 0h5m2 0h2m1 0h1m12 0h1m1 0h1m2 0h1m1 0h5m2 0h7m4 0h1m3 0h3m12 0h1m3 0h2m14 0h1m11 0h2m5 0h3m1 0h3m6 0h9m1 0h1m3 0h1m39 0h1m21 0h1m1 0h2m3 0h1m6 0h1m5 0h1m4 0h1m1 0h1m2 0h2m2 0h1m1 0h1m10 0h4m8 0h2m5 0h2m2 0h12m9 0h2m13 0h2M21 38.5h3m3 0h12m8 0h5m4 0h2m4 0h3m2 0h2m1 0h5m4 0h6m7 0h2m2 0h3m7 0h3m2 0h4m6 0h1m1 0h6m3 0h2m4 0h2m1 0h2m1 0h5m4 0h3m5 0h2m2 0h5m40 0h4m1 0h6m15 0h2m3 0h2m4 0h6m12 0h2m16 0h1m8 0h1m1 0h2m2 0h1m11 0h1m3 0h4m1 0h1m6 0h9m2 0h6m1 0h1m38 0h2m17 0h2m2 0h2m7 0h1m12 0h1m2 0h1m3 0h2m2 0h1m2 0h1m1 0h1m6 0h6m5 0h1m2 0h2m1 0h5m2 0h6m1 0h3m1 0h1m5 0h1m3 0h2m9 0h1m10 0h1M21 39.5h2m4 0h3m1 0h1m2 0h7m7 0h4m4 0h3m4 0h1m1 0h1m4 0h2m3 0h1m3 0h6m6 0h1m1 0h7m9 0h4m7 0h5m2 0h7m1 0h3m24 0h1m2 0h3m43 0h10m21 0h1m1 0h1m5 0h7m3 0h2m3 0h2m13 0h2m2 0h1m4 0h7m3 0h1m10 0h4m2 0h5m5 0h2m2 0h2m1 0h7m1 0h2m1 0h1m32 0h1m3 0h2m19 0h1m12 0h1m11 0h2m5 0h1m3 0h1m1 0h3m2 0h1m4 0h4m8 0h2m1 0h14m1 0h5m1 0h1m18 0h4m9 0h2M21 40.5h2m4 0h1m7 0h7m6 0h8m2 0h6m4 0h4m8 0h2m3 0h2m4 0h1m3 0h7m1 0h2m7 0h2m4 0h1m1 0h1m2 0h2m2 0h1m6 0h1m9 0h1m1 0h1m17 0h1m48 0h9m21 0h3m4 0h5m1 0h2m2 0h3m2 0h2m14 0h1m1 0h1m5 0h1m1 0h4m4 0h2m8 0h3m4 0h5m2 0h2m1 0h3m2 0h3m1 0h2m5 0h1m41 0h2m4 0h1m8 0h2m2 0h1m9 0h1m15 0h1m3 0h2m4 0h2m1 0h1m6 0h1m2 0h1m6 0h2m6 0h2m1 0h7m1 0h9m19 0h2m1 0h3m7 0h1M23 41.5h4m10 0h2m10 0h2m2 0h10m2 0h8m8 0h2m3 0h1m4 0h2m2 0h6m3 0h2m6 0h2m4 0h1m1 0h1m5 0h3m2 0h4m29 0h2m48 0h5m25 0h14m3 0h2m26 0h10m1 0h1m3 0h1m4 0h3m2 0h7m5 0h4m1 0h7m5 0h1m30 0h3m1 0h1m5 0h5m5 0h2m16 0h2m26 0h8m2 0h3m6 0h2m6 0h1m1 0h2m2 0h3m3 0h6m1 0h1m17 0h1m2 0h7m4 0h2M24 42.5h2m2 0h2m23 0h1m6 0h11m16 0h7m1 0h2m1 0h1m4 0h8m1 0h1m1 0h12m2 0h2m85 0h1m28 0h2m1 0h8m2 0h1m3 0h3m8 0h1m17 0h5m2 0h5m2 0h2m2 0h4m1 0h4m2 0h1m5 0h8m2 0h1m1 0h4m34 0h1m14 0h1m3 0h1m21 0h2m11 0h1m14 0h3m1 0h2m2 0h1m2 0h5m6 0h6m1 0h3m2 0h3m1 0h2m1 0h2m6 0h3m9 0h1m2 0h2m1 0h1m7 0h1M24 43.5h1m12 0h1m15 0h1m5 0h7m1 0h1m29 0h1m5 0h2m7 0h1m2 0h4m5 0h2m1 0h3m89 0h2m23 0h6m2 0h2m7 0h3m7 0h2m18 0h6m2 0h3m5 0h1m2 0h7m2 0h4m2 0h8m4 0h5m29 0h1m4 0h1m40 0h1m11 0h3m4 0h1m1 0h1m5 0h2m2 0h1m13 0h1m2 0h5m1 0h8m1 0h8m19 0h3m5 0h2M25 44.5h1m33 0h1m1 0h4m29 0h1m8 0h1m3 0h1m4 0h1m2 0h4m5 0h4m88 0h2m1 0h1m26 0h2m5 0h2m8 0h2m2 0h7m14 0h10m10 0h2m3 0h9m3 0h4m1 0h2m2 0h11m31 0h1m13 0h1m11 0h1m14 0h1m19 0h3m4 0h8m9 0h1m3 0h15m2 0h7m17 0h3m4 0h1m2 0h1M60 45.5h1m43 0h1m2 0h1m7 0h1m2 0h1m6 0h2m12 0h1m76 0h1m25 0h1m4 0h2m11 0h4m6 0h1m19 0h3m4 0h2m12 0h4m1 0h4m4 0h1m1 0h10m2 0h3m3 0h1m57 0h1m2 0h2m12 0h1m6 0h1m11 0h2m4 0h1m1 0h7m13 0h17m2 0h3m18 0h1m7 0h1m2 0h1m1 0h1M127 46.5h2m10 0h1m1 0h1m106 0h1m10 0h1m2 0h2m28 0h1m1 0h3m1 0h1m12 0h9m3 0h1m2 0h1m1 0h6m1 0h2m2 0h2m3 0h1m60 0h2m1 0h2m12 0h5m10 0h3m3 0h1m4 0h6m11 0h18m2 0h3m18 0h1m1 0h2m4 0h1m2 0h1M121 47.5h1m4 0h1m12 0h1m1 0h1m102 0h1m3 0h2m9 0h1m3 0h1m28 0h5m1 0h1m12 0h2m1 0h5m1 0h2m2 0h1m1 0h4m1 0h3m1 0h2m2 0h5m47 0h1m14 0h1m16 0h4m9 0h4m2 0h2m7 0h3m11 0h2m1 0h10m2 0h8m19 0h3m5 0h1m1 0h1M37 48.5h1m85 0h2m5 0h1m113 0h1m8 0h3m4 0h1m5 0h1m31 0h1m12 0h3m4 0h1m2 0h1m5 0h1m1 0h8m2 0h4m52 0h1m22 0h3m2 0h4m2 0h1m7 0h2m2 0h5m1 0h2m1 0h3m9 0h2m1 0h1m1 0h2m1 0h8m2 0h9m19 0h2m1 0h5m1 0h2M37 49.5h1m81 0h1m2 0h2m127 0h2m2 0h1m4 0h2m37 0h1m7 0h1m3 0h3m3 0h6m7 0h3m1 0h9m1 0h1m74 0h9m1 0h1m7 0h3m1 0h3m3 0h5m10 0h1m3 0h2m1 0h4m2 0h11m2 0h1m16 0h4m4 0h3m1 0h1m1 0h1M126 50.5h1m3 0h2m118 0h2m3 0h1m4 0h1m38 0h1m7 0h1m2 0h9m3 0h1m8 0h4m1 0h4m1 0h2m1 0h1m46 0h2m28 0h2m3 0h1m10 0h6m4 0h4m15 0h1m2 0h4m1 0h9m1 0h2m14 0h2m4 0h2m1 0h2m2 0h1m1 0h2m2 0h1M129 51.5h3m7 0h1m108 0h3m1 0h2m1 0h2m3 0h1m5 0h1m34 0h3m3 0h13m2 0h1m4 0h1m11 0h6m42 0h5m2 0h1m6 0h1m10 0h1m8 0h1m4 0h1m7 0h1m3 0h1m2 0h9m16 0h3m2 0h2m4 0h8m18 0h3m1 0h1m1 0h2m2 0h4m2 0h1M129 52.5h2m10 0h2m110 0h1m1 0h3m8 0h1m33 0h4m2 0h18m4 0h1m7 0h1m1 0h1m3 0h2m41 0h3m3 0h1m3 0h2m3 0h2m1 0h1m8 0h1m4 0h6m3 0h3m5 0h1m3 0h10m1 0h3m13 0h6m9 0h4m1 0h2m18 0h6m2 0h2m2 0h1M124 53.5h1m1 0h1m13 0h1m112 0h4m9 0h1m36 0h2m1 0h2m3 0h6m1 0h3m64 0h3m2 0h2m2 0h6m1 0h3m17 0h2m4 0h1m10 0h5m2 0h7m27 0h4m22 0h1m4 0h1m5 0h1M125 54.5h1m13 0h4m112 0h1m9 0h2m43 0h7m2 0h2m65 0h9m1 0h3m3 0h2m2 0h1m13 0h3m10 0h1m7 0h1m1 0h1m4 0h3m20 0h2m3 0h1m2 0h5m16 0h1m9 0h2m4 0h1m1 0h1M138 55.5h1m2 0h2m1 0h1m104 0h1m10 0h1m4 0h2m36 0h1m3 0h1m2 0h6m3 0h1m4 0h1m60 0h1m1 0h3m2 0h7m4 0h4m12 0h4m6 0h2m1 0h1m2 0h1m4 0h5m2 0h4m21 0h1m3 0h1m4 0h1m18 0h1m2 0h1m3 0h2m1 0h2m1 0h2m1 0h1m2 0h1M140 56.5h1m2 0h1m105 0h2m9 0h1m2 0h1m1 0h2m32 0h1m2 0h1m4 0h1m2 0h5m3 0h2m67 0h1m1 0h1m2 0h1m1 0h2m8 0h1m15 0h3m5 0h6m4 0h1m2 0h10m24 0h1m24 0h3m4 0h2m7 0h1m2 0h1M117 57.5h1m21 0h1m110 0h1m3 0h2m4 0h2m2 0h3m1 0h1m38 0h1m2 0h5m2 0h2m9 0h1m1 0h1m1 0h2m53 0h1m1 0h3m2 0h2m1 0h3m3 0h3m16 0h1m3 0h2m2 0h2m9 0h1m1 0h9m17 0h1m13 0h1m16 0h2m3 0h2m1 0h1m7 0h1M123 58.5h1m135 0h3m2 0h4m33 0h1m1 0h1m1 0h1m1 0h2m4 0h1m2 0h4m11 0h1m55 0h3m4 0h3m1 0h7m13 0h1m3 0h1m3 0h1m3 0h2m8 0h1m2 0h9m1 0h1m16 0h1m13 0h1m16 0h1m3 0h1m3 0h1m6 0h4M301 59.5h5m1 0h2m1 0h1m2 0h5m8 0h2m3 0h3m54 0h1m3 0h8m1 0h4m11 0h3m3 0h1m3 0h2m2 0h1m2 0h1m7 0h8m1 0h2m2 0h1m2 0h1m25 0h1m17 0h2m1 0h1m1 0h1m8 0h1M300 60.5h4m1 0h1m1 0h2m1 0h2m2 0h9m3 0h3m61 0h2m10 0h3m19 0h6m2 0h2m2 0h1m1 0h1m2 0h9m8 0h1m24 0h1m17 0h1m2 0h3m7 0h3M300 61.5h2m1 0h1m1 0h3m2 0h12m1 0h1m4 0h3m71 0h2m37 0h2m1 0h1m35 0h1m12 0h2m6 0h4m2 0h1m7 0h2M261 62.5h1m38 0h2m5 0h4m1 0h2m2 0h3m2 0h2m5 0h1m1 0h1m113 0h1m15 0h1m39 0h5m10 0h4M301 63.5h1m7 0h4m4 0h1m11 0h1m121 0h2m15 0h2m23 0h2m4 0h5m11 0h1m2 0h2M116 64.5h1m186 0h2m5 0h5m1 0h1m1 0h1m170 0h1m9 0h2m1 0h1m11 0h1m4 0h1M313 65.5h6m170 0h1m3 0h1m5 0h1m6 0h1m8 0h1M119 66.5h1m193 0h5m185 0h4m7 0h1M119 67.5h1m196 0h2m172 0h1m15 0h4m3 0h1m5 0h1M504 68.5h2m3 0h1m3 0h1m4 0h1M489 69.5h2m20 0h1M501 70.5h2m3 0h1m8 0h1M500 71.5h2m5 0h1m9 0h1M461 137.5h1m12 0h2m26 0h1m12 0h1M455 138.5h1m41 0h1m4 0h2M100 139.5h1m12 0h1m7 0h2m168 0h1m227 0h1M95 140.5h1m16 0h1m45 0h1m145 0h2m140 0h1m68 0h1M95 141.5h1m62 0h1m134 0h4m6 0h1m1 0h7m180 0h3m11 0h1m2 0h1M138 142.5h1m152 0h7m2 0h2m1 0h2m2 0h3m1 0h2m3 0h1m19 0h1m135 0h1m1 0h1m32 0h1m1 0h1M106 143.5h1m28 0h2m5 0h3m141 0h1m3 0h3m2 0h4m1 0h4m2 0h1m2 0h1m1 0h2m1 0h1m133 0h2m10 0h1m11 0h1m10 0h1m14 0h1m2 0h1M107 144.5h1m22 0h1m31 0h1m122 0h3m1 0h4m1 0h11m1 0h1m2 0h5m4 0h2m12 0h1m4 0h1m132 0h1m4 0h1m5 0h1m7 0h1M111 145.5h1m7 0h1m2 0h1m28 0h2m4 0h1m4 0h1m116 0h1m2 0h4m2 0h20m1 0h3m9 0h2m6 0h1m11 0h2m145 0h1m17 0h1m9 0h2M111 146.5h1m10 0h1m4 0h1m17 0h2m14 0h1m2 0h1m1 0h1m111 0h3m1 0h5m1 0h2m1 0h11m1 0h8m10 0h3m5 0h1m3 0h2m5 0h1m2 0h1m102 0h1m6 0h2m30 0h1m29 0h1M114 147.5h1m8 0h2m5 0h2m10 0h1m22 0h1m1 0h1m1 0h1m107 0h1m2 0h8m4 0h6m4 0h8m9 0h3m1 0h2m4 0h1m1 0h3m5 0h1m3 0h1m102 0h1m2 0h1m22 0h1M113 148.5h2m18 0h1m3 0h1m13 0h1m3 0h1m3 0h1m116 0h9m1 0h2m3 0h7m9 0h2m12 0h5m3 0h3m3 0h2m1 0h2m3 0h2m101 0h1m1 0h1m35 0h1m27 0h1M114 149.5h1m3 0h1m12 0h2m1 0h1m1 0h1m2 0h1m4 0h4m11 0h1m2 0h2m109 0h12m1 0h2m3 0h8m22 0h3m2 0h1m3 0h3m1 0h2m2 0h2m1 0h3m108 0h1m3 0h1m26 0h1m1 0h1m15 0h1M96 150.5h1m11 0h1m8 0h1m17 0h1m5 0h3m1 0h1m18 0h1m106 0h3m1 0h4m1 0h3m1 0h1m1 0h10m1 0h5m18 0h1m2 0h1m4 0h1m2 0h1m1 0h1m2 0h2m1 0h1m1 0h1m1 0h2M97 151.5h1m11 0h2m32 0h2m126 0h8m2 0h2m1 0h1m1 0h6m2 0h2m1 0h6m13 0h1m15 0h1m1 0h2m5 0h1M107 152.5h1m1 0h1m11 0h1m14 0h1m134 0h3m1 0h3m4 0h1m1 0h5m1 0h2m3 0h1m1 0h6m13 0h1m23 0h1m112 0h1m17 0h1m10 0h1m29 0h1M107 153.5h1m3 0h1m25 0h1m4 0h3m13 0h1m112 0h2m2 0h5m1 0h12m3 0h1m1 0h1m4 0h1m149 0h1m3 0h1m7 0h1m15 0h1M108 154.5h1m2 0h1m2 0h1m32 0h1m16 0h1m107 0h2m2 0h12m1 0h6m7 0h1m16 0h1m9 0h1m122 0h1m17 0h1m6 0h1m15 0h1M100 155.5h1m45 0h2m124 0h2m2 0h17m19 0h2m5 0h1m11 0h1m147 0h1m7 0h1m29 0h1M96 156.5h1m8 0h1m3 0h1m161 0h4m1 0h12m2 0h3m6 0h1m21 0h1m7 0h2m5 0h2m122 0h1m11 0h1m26 0h1m18 0h1M104 157.5h1m3 0h1m7 0h1m154 0h1m1 0h11m1 0h3m2 0h3m6 0h1m158 0h1m12 0h1m25 0h1M100 158.5h2m2 0h2m169 0h7m1 0h1m1 0h7m29 0h1m14 0h1m128 0h1m5 0h1m12 0h1M103 159.5h2m2 0h1m167 0h9m1 0h2m2 0h3m17 0h1m26 0h1m109 0h1m3 0h1m2 0h1m16 0h1m33 0h1m1 0h1M103 160.5h1m171 0h6m2 0h3m1 0h3m11 0h1m7 0h2m12 0h1m1 0h1m2 0h1m139 0h1m40 0h2M276 161.5h4m1 0h4m20 0h1m2 0h1m1 0h1m4 0h1m2 0h1m6 0h1m2 0h1m1 0h1m118 0h1m21 0h1m7 0h2m2 0h1M103 162.5h1m8 0h1m160 0h3m2 0h12m9 0h1m4 0h1m10 0h1m2 0h1m6 0h1m2 0h1m145 0h1m10 0h1m30 0h1M100 163.5h1m2 0h1m2 0h1m2 0h2m1 0h1m158 0h2m9 0h3m2 0h2m16 0h1m1 0h3m18 0h1m1 0h2m132 0h2m22 0h1m1 0h1m2 0h1M99 164.5h4m3 0h1m1 0h1m163 0h5m4 0h3m5 0h1m10 0h1m2 0h1m3 0h2m1 0h1m16 0h1m4 0h1m159 0h1M99 165.5h3m5 0h1m163 0h2m2 0h2m3 0h1m7 0h2m1 0h1m13 0h1m1 0h1m1 0h1m6 0h1m12 0h2m7 0h2m107 0h1m10 0h1m14 0h1m7 0h1m4 0h3m17 0h1M99 166.5h1m3 0h2m166 0h1m4 0h2m4 0h1m2 0h7m7 0h2m1 0h2m3 0h1m1 0h1m6 0h1m11 0h2m11 0h2m103 0h1m7 0h1m8 0h1m25 0h1m3 0h1M97 167.5h1m1 0h1m3 0h1m168 0h1m2 0h2m2 0h1m1 0h1m2 0h2m1 0h1m2 0h2m7 0h1m10 0h2m13 0h1m1 0h1m119 0h1m28 0h1m8 0h1m11 0h1M98 168.5h2m1 0h1m169 0h1m1 0h4m6 0h1m2 0h2m2 0h1m9 0h5m3 0h2m17 0h1m2 0h3m153 0h1m30 0h1M97 169.5h1m5 0h2m2 0h2m164 0h2m10 0h5m8 0h1m2 0h1m1 0h1m4 0h3m14 0h1m18 0h1m118 0h2m22 0h1m15 0h1M97 170.5h1m8 0h1m166 0h1m5 0h1m3 0h8m10 0h2m3 0h1m4 0h1m27 0h1m4 0h1m125 0h1m5 0h1m25 0h1m13 0h1M95 171.5h1m4 0h1m1 0h1m3 0h2m2 0h1m160 0h1m1 0h1m5 0h1m2 0h1m2 0h1m1 0h2m16 0h2m1 0h3m136 0h1m63 0h1m2 0h1m1 0h2M104 172.5h1m1 0h4m1 0h1m160 0h1m1 0h1m7 0h2m1 0h4m12 0h1m4 0h1m3 0h1m6 0h1m21 0h1m112 0h1m5 0h1m3 0h1m18 0h1m10 0h1m10 0h1m14 0h1M96 173.5h1m8 0h1m1 0h1m167 0h1m7 0h4m1 0h1m10 0h1m2 0h1m4 0h1m2 0h2m5 0h1m11 0h2m7 0h1m108 0h1m1 0h1m4 0h1m4 0h1m5 0h1m8 0h1m30 0h1m4 0h1M98 174.5h1m4 0h1m3 0h1m167 0h1m3 0h1m1 0h4m1 0h1m2 0h1m8 0h2m2 0h1m7 0h1m5 0h1m164 0h1m7 0h2m17 0h1M95 175.5h1m8 0h5m166 0h1m4 0h2m2 0h1m6 0h1m1 0h1m3 0h1m1 0h1m1 0h1m3 0h1m9 0h1m14 0h1m141 0h1m10 0h1m8 0h1m17 0h2M97 176.5h1m4 0h1m3 0h1m167 0h1m9 0h1m1 0h1m3 0h2m10 0h1m6 0h1m149 0h1m11 0h1m12 0h1m15 0h1m15 0h1M97 177.5h1m4 0h2m175 0h1m10 0h1m166 0h1m20 0h2M96 178.5h2m3 0h1m4 0h1m178 0h2m159 0h1m43 0h1M95 179.5h2m1 0h1m2 0h1m3 0h2m170 0h1m4 0h1m163 0h2m1 0h1m64 0h1M101 180.5h2m179 0h1m8 0h1m1 0h1m157 0h1M102 181.5h2m3 0h1m167 0h1m17 0h1m154 0h1m11 0h1m43 0h1M96 182.5h1m1 0h1m3 0h3m412 0h1M95 183.5h1m1 0h1m8 0h1m167 0h1m12 0h1m165 0h2m40 0h1m14 0h1M95 184.5h1m180 0h1m178 0h1m6 0h1m38 0h1M447 185.5h2m2 0h1m12 0h2m1 0h1m37 0h1M273 186.5h1m176 0h1m2 0h1m6 0h1m3 0h1m2 0h1M101 187.5h1m347 0h1m3 0h1m2 0h1M275 188.5h2m2 0h2m167 0h1m6 0h1m6 0h1M95 189.5h1m175 0h1m192 0h1M277 190.5h1m172 0h1m2 0h1m8 0h1M449 191.5h1m1 0h1m15 0h1M97 192.5h1m355 0h1m16 0h1M96 193.5h1m350 0h2m8 0h1m12 0h1M446 194.5h1M282 195.5h1m3 0h1m162 0h1m5 0h1M289 243.5h1m43 0h1m113 0h1m44 0h1M325 244.5h1m9 0h1m3 0h1M107 245.5h2m21 0h1m142 0h1m39 0h1m184 0h1M130 246.5h1m148 0h1M90 247.5h1m17 0h2m34 0h1m7 0h2m133 0h1m149 0h1m4 0h1m15 0h1m10 0h1M89 248.5h1m1 0h3m15 0h1m5 0h1m1 0h1m1 0h2m31 0h1m1 0h1m122 0h1m1 0h1m1 0h1m44 0h1m13 0h1M92 249.5h3m1 0h1m9 0h1m2 0h1m4 0h1m3 0h1m1 0h1m9 0h1m6 0h1m14 0h1m1 0h1m103 0h1m16 0h1m163 0h1m24 0h1m3 0h1m23 0h1m4 0h1M87 250.5h2m1 0h6m13 0h1m7 0h4m9 0h1m6 0h2m4 0h2m6 0h1m1 0h1m3 0h2m7 0h1m1 0h1m146 0h1m129 0h1m13 0h1m1 0h1m1 0h1m6 0h1m11 0h1m16 0h1M87 251.5h1m2 0h6m11 0h3m2 0h1m4 0h1m2 0h1m3 0h2m3 0h1m1 0h1m5 0h1m4 0h3m1 0h1m5 0h1m1 0h1m2 0h1m1 0h1m5 0h2m1 0h1m94 0h1m7 0h1m41 0h1m6 0h1m13 0h1m2 0h1m5 0h1m101 0h1m8 0h1m3 0h1m14 0h1m38 0h1M87 252.5h1m2 0h4m14 0h1m1 0h2m1 0h1m3 0h1m2 0h1m3 0h2m2 0h1m1 0h1m5 0h1m3 0h1m14 0h1m2 0h3m7 0h1m106 0h1m12 0h1m6 0h1m22 0h2m7 0h2m5 0h2m2 0h1m1 0h1m123 0h1m8 0h1m24 0h1m1 0h1m2 0h1M87 253.5h1m1 0h5m13 0h1m2 0h3m2 0h1m4 0h1m2 0h2m2 0h1m6 0h2m22 0h2m4 0h1m4 0h1m101 0h1m1 0h1m7 0h1m5 0h1m37 0h1m135 0h1m37 0h1m1 0h2m3 0h1m1 0h1M86 254.5h3m2 0h3m6 0h2m9 0h1m6 0h1m37 0h3m2 0h1m4 0h3m133 0h1m8 0h1m1 0h1m19 0h1m98 0h1m53 0h1m4 0h1m4 0h1m1 0h1m7 0h1M86 255.5h1m1 0h2m2 0h2m5 0h4m1 0h1m1 0h6m6 0h1m45 0h2m2 0h1m105 0h1m14 0h1m27 0h1m12 0h1m12 0h1m119 0h1m2 0h1m34 0h1m9 0h1m5 0h1M89 256.5h3m7 0h7m4 0h1m1 0h1m44 0h1m7 0h1m3 0h1m105 0h1m15 0h1m17 0h1m17 0h1m109 0h1m24 0h1m12 0h1M88 257.5h4m7 0h1m2 0h3m3 0h2m5 0h1m44 0h1m115 0h1m12 0h1m1 0h1m143 0h1m14 0h1m1 0h1m16 0h1m10 0h1m12 0h1m10 0h1m4 0h1M88 258.5h5m4 0h1m3 0h1m4 0h1m1 0h2m153 0h1m27 0h1m51 0h1m125 0h1m44 0h1M88 259.5h1m2 0h1m2 0h3m3 0h2m4 0h3m30 0h2m127 0h1m8 0h1m18 0h1m20 0h1m171 0h1m18 0h1m4 0h1M97 260.5h5m5 0h1m1 0h2m16 0h1m10 0h1m15 0h1m109 0h1m5 0h1m14 0h1m24 0h1m194 0h1m2 0h1m4 0h1M94 261.5h9m1 0h2m1 0h1m19 0h1m38 0h1m97 0h1m26 0h1m144 0h1m2 0h1m23 0h1m7 0h1m42 0h1M85 262.5h1m1 0h1m2 0h10m1 0h1m5 0h5m48 0h1m108 0h1m5 0h1m4 0h1m2 0h1m167 0h1m18 0h2m41 0h1M85 263.5h1m9 0h4m12 0h1m17 0h2m17 0h1m117 0h1m20 0h1m150 0h1m8 0h1m17 0h1m1 0h2m7 0h1m40 0h1M86 264.5h2m1 0h1m6 0h1m4 0h1m26 0h1m20 0h1m108 0h2m29 0h1m169 0h1m17 0h1m37 0h2M88 265.5h4m1 0h1m6 0h1m3 0h1m2 0h1m2 0h1m23 0h1m17 0h1m112 0h2m205 0h1m7 0h1m2 0h1m29 0h1M89 266.5h1m3 0h2m1 0h2m1 0h1m8 0h1m148 0h1m7 0h1m4 0h1m8 0h1m40 0h1m22 0h1m140 0h1m13 0h1m1 0h1m10 0h1M85 267.5h1m3 0h1m4 0h2m3 0h1m8 0h1m179 0h1m48 0h1m116 0h1m14 0h1m1 0h1m32 0h1M89 268.5h1m14 0h2m1 0h5m33 0h1m10 0h1m131 0h1m14 0h1m3 0h1m139 0h1m22 0h1m35 0h1M97 269.5h2m3 0h1m8 0h1m1 0h1m31 0h2m9 0h1m112 0h1m19 0h3m5 0h3m205 0h2m2 0h1m9 0h1M90 270.5h2m6 0h1m3 0h1m10 0h1m151 0h1m6 0h2m15 0h1m39 0h1m12 0h1m100 0h1m55 0h1m1 0h1M86 271.5h1m8 0h4m1 0h1m7 0h1m4 0h1m162 0h1m11 0h1m3 0h1m28 0h1m20 0h1m98 0h1m24 0h1m43 0h1m3 0h1M93 272.5h2m6 0h1m3 0h1m5 0h1m32 0h1m4 0h1m106 0h1m26 0h1m17 0h3m147 0h1m21 0h1m37 0h1M91 273.5h4m5 0h2m4 0h1m43 0h1m105 0h1m4 0h1m5 0h2m1 0h1m8 0h1m21 0h1m16 0h1m134 0h1m9 0h1m41 0h1m1 0h2m7 0h1M99 274.5h1m2 0h2m2 0h1m2 0h1m39 0h1m121 0h1m8 0h1m11 0h1m2 0h2m22 0h1m13 0h1m1 0h1m102 0h1m30 0h1M99 275.5h1m2 0h2m44 0h1m1 0h1m117 0h1m16 0h1m14 0h1m27 0h1m140 0h1m22 0h1m26 0h1M95 276.5h5m1 0h3m42 0h1m1 0h1m149 0h1m5 0h1m6 0h1m5 0h1m116 0h1m17 0h1m35 0h1m2 0h1M93 277.5h3m2 0h2m214 0h1m119 0h1m17 0h1m13 0h1m21 0h1m7 0h1m3 0h1m8 0h1M90 278.5h1m2 0h3m2 0h3m164 0h1m47 0h1m22 0h1m4 0h1m97 0h1m43 0h1m21 0h1M93 279.5h1m168 0h2m14 0h1m32 0h3m2 0h1m195 0h1M261 280.5h1m12 0h1m22 0h1m36 0h1m105 0h2m1 0h1m9 0h1m30 0h1m4 0h2M274 281.5h1m3 0h1m23 0h1m15 0h1m114 0h1m7 0h1m8 0h1m20 0h1m19 0h1m6 0h2m4 0h1M274 282.5h1m11 0h1m9 0h1m5 0h1m134 0h1m7 0h1m13 0h1m9 0h1m10 0h1m6 0h1m13 0h1M261 283.5h1m2 0h1m7 0h2m29 0h1m6 0h1m32 0h2m87 0h1m4 0h1m9 0h1m4 0h1m6 0h1m5 0h1m6 0h1m2 0h1m1 0h1m20 0h2m11 0h1M269 284.5h1m7 0h1m165 0h1m1 0h1m13 0h1m9 0h1m42 0h1M271 285.5h1m4 0h1m20 0h1m9 0h1m159 0h1m7 0h1m4 0h1m10 0h1m5 0h1M300 286.5h1m13 0h1m120 0h2m5 0h2m25 0h1m3 0h1m12 0h1m9 0h1m10 0h1M302 287.5h2m21 0h1m5 0h1m4 0h1m115 0h1m42 0h1M443 288.5h1m6 0h1m5 0h1m11 0h1m3 0h1m11 0h1m2 0h1m3 0h1m8 0h1m18 0h1M323 289.5h1m4 0h1m2 0h1m11 0h1m97 0h2m3 0h1m16 0h1m1 0h1m11 0h1m18 0h1M268 290.5h1m47 0h1m26 0h1m111 0h1m1 0h1m1 0h1m4 0h1m6 0h1m5 0h2m10 0h1m5 0h1M331 291.5h1m2 0h1m7 0h1m100 0h1m15 0h1m1 0h1m22 0h1m14 0h1m8 0h1m7 0h1M325 292.5h1m4 0h2m109 0h1m15 0h1m7 0h1m44 0h2M333 293.5h1m104 0h1m8 0h1m3 0h1m60 0h1M452 294.5h1m1 0h1m14 0h1m5 0h1m39 0h1M292 295.5h1m29 0h2m127 0h1m24 0h1m22 0h1m11 0h1M298 296.5h1m158 0h1m19 0h1M338 297.5h1m124 0h1m48 0h1M468 298.5h1M288 299.5h1m11 0h1m151 0h1m14 0h1m18 0h1M431 301.5h1m37 0h1m8 0h1M459 302.5h1m8 0h1m49 0h1"/><path stroke="#a2f5c0" stroke-width="1" fill="none" d="M251 31.5h1M250 32.5h1m1 0h1m46 0h1M249 34.5h2M142 35.5h1m16 0h1m6 0h1m36 0h1m18 0h1m1 0h2m7 0h1m6 0h1m2 0h1m1 0h2m1 0h1m1 0h1m1 0h6m3 0h1m2 0h1m3 0h1m13 0h4m2 0h2m84 0h1m116 0h1m1 0h2m4 0h1m3 0h2M127 36.5h1m2 0h1m8 0h1m56 0h1m3 0h7m1 0h1m13 0h2m2 0h3m3 0h1m10 0h1m3 0h3m3 0h5m2 0h2m6 0h1m13 0h4m1 0h2m12 0h2m17 0h1m6 0h2m5 0h1m3 0h4m30 0h2m1 0h1m38 0h1m5 0h1m50 0h1m10 0h1m1 0h3m2 0h7m2 0h8M34 37.5h1m27 0h1m16 0h2m48 0h1m2 0h1m7 0h1m8 0h1m2 0h2m7 0h1m34 0h3m1 0h6m3 0h1m11 0h1m1 0h6m2 0h1m7 0h1m5 0h1m8 0h4m1 0h3m5 0h10m1 0h3m2 0h3m3 0h4m1 0h3m3 0h1m2 0h6m6 0h1m3 0h1m3 0h6m9 0h1m3 0h1m28 0h3m2 0h1m8 0h1m23 0h1m1 0h1m1 0h1m1 0h1m4 0h3m8 0h1m8 0h1m47 0h2m1 0h5m2 0h7M41 38.5h6m29 0h3m30 0h2m20 0h1m8 0h1m2 0h1m5 0h4m3 0h3m4 0h2m39 0h2m15 0h1m7 0h1m4 0h2m2 0h3m4 0h2m6 0h6m1 0h5m2 0h1m1 0h4m1 0h8m2 0h3m1 0h4m1 0h1m2 0h2m2 0h4m2 0h4m8 0h1m3 0h4m9 0h2m6 0h1m27 0h6m27 0h1m3 0h1m3 0h3m1 0h6m3 0h1m37 0h1m23 0h3m1 0h1m1 0h3m2 0h5M30 39.5h1m1 0h2m7 0h7m24 0h3m1 0h3m13 0h1m45 0h7m1 0h5m2 0h8m2 0h1m4 0h2m51 0h1m18 0h2m3 0h2m10 0h1m4 0h3m2 0h6m1 0h2m3 0h1m5 0h4m7 0h3m1 0h4m2 0h4m11 0h5m6 0h1m10 0h1m27 0h4m1 0h1m1 0h3m20 0h1m2 0h1m1 0h3m3 0h3m1 0h8m2 0h1m12 0h1m3 0h1m20 0h1m14 0h1m7 0h11m1 0h5M28 40.5h5m1 0h1m7 0h1m3 0h2m16 0h1m7 0h1m1 0h2m1 0h3m2 0h3m9 0h1m7 0h1m35 0h6m1 0h1m1 0h1m1 0h1m3 0h10m4 0h1m43 0h2m9 0h3m15 0h3m3 0h1m2 0h1m8 0h2m3 0h2m2 0h6m7 0h1m3 0h1m1 0h3m6 0h4m2 0h8m12 0h2m2 0h1m17 0h2m26 0h6m1 0h5m6 0h1m11 0h2m1 0h3m2 0h1m2 0h1m2 0h2m4 0h3m4 0h1m2 0h2m10 0h1m2 0h1m3 0h2m17 0h1m18 0h9m2 0h5m4 0h1M21 41.5h2m4 0h6m1 0h3m2 0h3m6 0h1m2 0h2m11 0h1m8 0h3m3 0h2m2 0h3m7 0h2m6 0h1m1 0h1m31 0h2m2 0h2m3 0h4m10 0h1m7 0h2m51 0h7m14 0h4m14 0h3m2 0h11m7 0h2m4 0h1m13 0h3m1 0h4m12 0h5m18 0h1m26 0h3m5 0h4m6 0h2m10 0h1m1 0h5m1 0h3m3 0h4m2 0h5m2 0h2m4 0h1m33 0h1m20 0h13M21 42.5h3m2 0h1m3 0h1m5 0h1m1 0h1m10 0h2m1 0h1m1 0h6m11 0h5m4 0h5m14 0h4m10 0h1m13 0h1m2 0h2m1 0h4m7 0h1m19 0h2m1 0h3m44 0h1m1 0h10m15 0h3m11 0h2m1 0h3m3 0h1m1 0h3m1 0h2m1 0h1m28 0h2m2 0h2m12 0h5m8 0h2m1 0h1m7 0h1m26 0h4m4 0h8m1 0h1m2 0h3m1 0h2m1 0h2m1 0h1m9 0h5m2 0h1m3 0h7m1 0h1m19 0h2m29 0h1m5 0h1m2 0h3m3 0h9M25 43.5h5m8 0h1m13 0h1m5 0h1m7 0h1m1 0h1m4 0h3m3 0h1m11 0h1m3 0h2m1 0h2m2 0h1m2 0h1m1 0h5m1 0h2m4 0h5m2 0h1m3 0h1m4 0h1m8 0h1m23 0h2m45 0h4m2 0h2m1 0h1m16 0h3m10 0h1m2 0h4m3 0h7m2 0h1m23 0h2m3 0h5m16 0h2m11 0h1m7 0h1m27 0h1m2 0h1m3 0h8m1 0h14m2 0h2m1 0h2m2 0h6m1 0h1m3 0h7m6 0h1m10 0h1m2 0h1m2 0h1m4 0h3m3 0h2m5 0h1m8 0h1m10 0h16m6 0h1M26 44.5h1m10 0h1m15 0h1m4 0h1m6 0h3m6 0h1m17 0h1m2 0h3m4 0h1m1 0h3m1 0h4m1 0h2m4 0h5m4 0h2m8 0h1m76 0h1m2 0h1m1 0h2m20 0h4m3 0h1m2 0h1m2 0h8m2 0h2m7 0h1m23 0h1m2 0h2m3 0h2m4 0h1m9 0h3m4 0h1m2 0h2m44 0h5m2 0h5m1 0h2m3 0h6m1 0h14m1 0h16m1 0h2m15 0h1m6 0h2m1 0h3m24 0h1m1 0h15m8 0h2M58 45.5h2m1 0h3m1 0h1m27 0h3m7 0h1m5 0h6m1 0h2m1 0h2m3 0h1m2 0h3m8 0h1m1 0h1m76 0h5m1 0h2m18 0h4m2 0h1m4 0h6m4 0h6m1 0h2m34 0h2m1 0h1m4 0h1m4 0h4m1 0h1m15 0h3m33 0h4m1 0h1m2 0h9m2 0h6m1 0h2m2 0h4m4 0h4m1 0h6m1 0h2m2 0h5m1 0h1m7 0h1m15 0h5m24 0h10m1 0h3m1 0h1m9 0h2M37 46.5h1m22 0h3m44 0h1m1 0h11m4 0h1m4 0h1m8 0h1m104 0h5m1 0h1m3 0h6m5 0h1m1 0h3m32 0h1m5 0h1m2 0h1m9 0h3m1 0h2m15 0h1m1 0h1m42 0h2m2 0h4m1 0h1m1 0h2m2 0h4m2 0h1m2 0h1m1 0h2m3 0h3m1 0h1m5 0h1m3 0h6m26 0h2m18 0h2m11 0h8m1 0h1m9 0h1M36 47.5h2m23 0h1m49 0h6m3 0h1m2 0h2m2 0h4m6 0h2m106 0h3m2 0h1m1 0h7m6 0h3m32 0h3m6 0h2m2 0h1m8 0h2m1 0h1m4 0h1m13 0h1m39 0h1m1 0h2m2 0h1m1 0h5m8 0h1m1 0h7m1 0h8m7 0h2m1 0h3m8 0h1m1 0h3m1 0h1m12 0h2m2 0h1m10 0h1m18 0h10m9 0h1M36 48.5h1m75 0h6m2 0h1m5 0h4m1 0h9m2 0h1m102 0h8m3 0h4m3 0h3m1 0h1m26 0h4m1 0h4m4 0h4m3 0h1m2 0h1m4 0h5m1 0h1m14 0h2m41 0h2m2 0h5m5 0h2m4 0h1m4 0h1m3 0h3m3 0h2m4 0h2m1 0h7m12 0h1m14 0h1m1 0h1m11 0h1m19 0h1m1 0h8m8 0h1m2 0h1M35 49.5h1m2 0h1m75 0h5m1 0h2m2 0h1m1 0h12m1 0h4m101 0h5m1 0h1m5 0h1m2 0h1m2 0h6m27 0h1m1 0h1m2 0h1m5 0h1m1 0h3m3 0h1m1 0h1m6 0h1m2 0h4m13 0h1m44 0h8m3 0h3m14 0h3m9 0h1m1 0h7m26 0h1m34 0h4m1 0h2m6 0h2m3 0h1M36 50.5h3m75 0h2m1 0h3m2 0h4m1 0h3m3 0h2m1 0h2m1 0h5m101 0h5m6 0h1m1 0h2m1 0h7m30 0h1m1 0h1m5 0h1m1 0h2m11 0h1m1 0h1m2 0h5m4 0h1m7 0h1m42 0h3m4 0h1m6 0h3m1 0h3m5 0h2m3 0h1m1 0h2m2 0h3m1 0h10m61 0h2m2 0h4m6 0h1M114 51.5h2m2 0h6m3 0h2m4 0h1m1 0h4m1 0h4m2 0h1m98 0h3m3 0h1m2 0h1m2 0h3m1 0h5m1 0h1m28 0h5m3 0h3m14 0h1m1 0h4m1 0h1m2 0h4m1 0h1m48 0h2m8 0h1m4 0h1m1 0h7m2 0h1m1 0h1m2 0h5m1 0h4m1 0h7m1 0h3m1 0h2m24 0h1m7 0h4m8 0h2m11 0h5m8 0h2M114 52.5h3m1 0h11m2 0h7m2 0h1m4 0h2m101 0h5m1 0h1m3 0h8m1 0h1m28 0h1m2 0h1m4 0h2m18 0h4m1 0h1m1 0h3m54 0h1m1 0h1m6 0h1m4 0h1m1 0h3m4 0h1m1 0h1m1 0h2m6 0h3m3 0h1m1 0h3m1 0h3m26 0h1m6 0h9m4 0h1m13 0h2m1 0h2m8 0h2m5 0h1M114 53.5h4m2 0h4m3 0h4m2 0h6m6 0h1m103 0h1m2 0h1m4 0h3m4 0h2m1 0h1m27 0h2m2 0h4m2 0h1m2 0h3m10 0h3m4 0h8m52 0h1m15 0h4m6 0h1m3 0h1m4 0h4m1 0h1m2 0h7m29 0h12m19 0h3m10 0h2m4 0h1M114 54.5h11m1 0h2m5 0h6m110 0h1m2 0h3m1 0h7m1 0h1m2 0h1m30 0h1m3 0h8m11 0h4m4 0h2m2 0h2m49 0h1m10 0h1m8 0h2m1 0h1m2 0h2m2 0h4m1 0h1m3 0h10m1 0h3m29 0h5m2 0h3m1 0h2m17 0h1m1 0h2m17 0h1m1 0h1M113 55.5h2m1 0h6m1 0h5m5 0h3m3 0h2m2 0h1m1 0h1m104 0h6m1 0h3m1 0h4m33 0h3m1 0h1m1 0h3m1 0h2m10 0h4m1 0h1m3 0h2m2 0h2m72 0h1m2 0h5m2 0h2m4 0h6m2 0h1m4 0h1m29 0h6m1 0h2m2 0h2m3 0h5m6 0h7m18 0h1M113 56.5h2m1 0h8m12 0h4m5 0h1m102 0h1m2 0h9m1 0h2m1 0h1m2 0h1m30 0h1m1 0h1m3 0h3m1 0h2m10 0h2m2 0h2m1 0h7m59 0h1m12 0h1m5 0h2m2 0h1m6 0h1m1 0h3m6 0h4m1 0h2m25 0h9m1 0h3m2 0h14m2 0h3m9 0h1M116 57.5h1m1 0h6m14 0h1m110 0h1m1 0h3m2 0h4m2 0h2m34 0h4m2 0h3m1 0h2m9 0h2m4 0h3m1 0h1m62 0h1m16 0h2m1 0h2m6 0h2m1 0h3m6 0h2m1 0h2m3 0h1m26 0h1m2 0h13m1 0h7m2 0h3m13 0h1m7 0h2M115 58.5h8m18 0h1m109 0h8m3 0h2m35 0h2m3 0h1m1 0h1m2 0h4m7 0h1m4 0h6m3 0h1m55 0h1m2 0h1m3 0h1m7 0h1m3 0h8m2 0h1m1 0h1m1 0h3m6 0h2m2 0h4m17 0h1m8 0h1m4 0h2m1 0h9m2 0h6m2 0h5m2 0h1M115 59.5h9m127 0h15m34 0h1m5 0h1m2 0h1m1 0h1m6 0h8m2 0h3m3 0h1m52 0h1m1 0h1m1 0h1m8 0h1m4 0h1m3 0h5m1 0h1m3 0h1m1 0h1m1 0h3m5 0h2m1 0h1m1 0h1m2 0h2m12 0h1m1 0h2m1 0h1m7 0h6m2 0h9m1 0h3m1 0h3m3 0h4m2 0h1m4 0h1m10 0h4M116 60.5h6m131 0h4m1 0h3m1 0h2m35 0h1m6 0h1m2 0h1m2 0h2m9 0h3m3 0h4m55 0h2m4 0h3m4 0h1m5 0h2m1 0h3m1 0h6m2 0h2m6 0h2m2 0h1m4 0h2m9 0h1m3 0h4m1 0h1m5 0h6m3 0h9m1 0h4m1 0h2m2 0h5m2 0h1m1 0h2m15 0h1M117 61.5h5m131 0h2m3 0h6m35 0h1m2 0h1m5 0h2m14 0h4m3 0h1m58 0h1m2 0h1m2 0h3m5 0h1m13 0h2m3 0h11m2 0h5m2 0h1m1 0h5m3 0h7m4 0h2m3 0h1m6 0h4m1 0h1m3 0h8m2 0h6m4 0h2m11 0h1M117 62.5h5m132 0h1m4 0h2m1 0h1m39 0h5m12 0h2m2 0h1m2 0h2m90 0h2m2 0h4m7 0h3m2 0h2m1 0h1m1 0h1m1 0h15m1 0h1m2 0h2m1 0h4m6 0h4m4 0h2m1 0h5m2 0h1m2 0h2m5 0h2M116 63.5h5m134 0h1m5 0h2m37 0h1m1 0h7m9 0h4m96 0h1m21 0h1m2 0h2m5 0h1m2 0h7m1 0h7m2 0h1m17 0h5m2 0h4m5 0h2M118 64.5h3m137 0h1m42 0h2m2 0h1m3 0h1m7 0h1m1 0h1m131 0h4m2 0h10m1 0h2m17 0h2m1 0h9m4 0h1m1 0h1m9 0h1M116 65.5h5m188 0h2m1 0h1m139 0h1m34 0h2m1 0h3m1 0h2m7 0h3M118 66.5h1m1 0h2m187 0h4m5 0h1m169 0h3m1 0h3m3 0h1M120 67.5h1m189 0h3m174 0h2m2 0h4m7 0h2M311 68.5h1m176 0h1m2 0h6m2 0h5m2 0h3m10 0h1M487 69.5h2m2 0h20m1 0h2m3 0h3M487 70.5h5m1 0h8m2 0h3m2 0h2m1 0h4m1 0h4M497 71.5h3m2 0h5m2 0h8m1 0h1M500 72.5h2m5 0h1m1 0h7m1 0h2M518 73.5h1M518 74.5h1M519 138.5h1M467 140.5h1m1 0h1m11 0h1m1 0h1M304 141.5h1m161 0h1m38 0h1M155 142.5h1m150 0h1m151 0h2m5 0h2m1 0h1m12 0h2M163 143.5h1m129 0h2m9 0h2m9 0h3m141 0h1m1 0h1m1 0h2m1 0h1m39 0h2m4 0h2m1 0h1M161 144.5h1m131 0h1m11 0h1m8 0h2m141 0h1m1 0h2m3 0h3m9 0h1m2 0h1m16 0h1m2 0h1m3 0h3m1 0h1m2 0h3M138 145.5h1m147 0h1m25 0h4m2 0h1m131 0h1m7 0h2m10 0h2m8 0h1m15 0h1m1 0h1m2 0h5m1 0h9M126 146.5h1m20 0h2m2 0h3m2 0h1m133 0h1m20 0h4m3 0h1m139 0h3m1 0h2m5 0h2m4 0h1m5 0h1m14 0h3m3 0h1m3 0h6m1 0h2m1 0h1M126 147.5h1m1 0h2m6 0h1m15 0h2m12 0h1m111 0h2m8 0h1m2 0h1m8 0h2m8 0h5m3 0h1m11 0h1m9 0h1m118 0h2m1 0h3m2 0h3m16 0h1m8 0h1m7 0h2m1 0h4m3 0h1M118 148.5h1m5 0h1m4 0h1m1 0h1m3 0h1m22 0h1m6 0h1m119 0h1m16 0h5m2 0h7m1 0h4m19 0h1m1 0h1m114 0h1m3 0h2m3 0h1m3 0h1m7 0h1m17 0h1m1 0h6m2 0h1m2 0h3m1 0h1M106 149.5h1m8 0h1m8 0h1m5 0h1m2 0h1m16 0h3m3 0h1m1 0h1m5 0h1m1 0h1m121 0h1m1 0h1m8 0h4m2 0h16m3 0h2m133 0h2m1 0h1m3 0h1m13 0h1m17 0h1m5 0h3m3 0h3m1 0h1M110 150.5h2m4 0h1m6 0h1m1 0h2m3 0h4m4 0h1m8 0h1m1 0h2m2 0h1m9 0h1m1 0h3m1 0h1m104 0h1m10 0h1m10 0h1m5 0h2m5 0h3m1 0h6m2 0h2m1 0h4m4 0h1m5 0h1m123 0h1m3 0h1m1 0h1m9 0h1m18 0h1m1 0h3m4 0h1m1 0h3m1 0h2m1 0h1M114 151.5h1m2 0h1m2 0h5m4 0h1m5 0h2m3 0h2m5 0h3m6 0h3m3 0h2m1 0h1m1 0h3m126 0h1m6 0h13m1 0h2m1 0h9m2 0h1m1 0h1m2 0h2m1 0h1m2 0h1m1 0h1m102 0h1m10 0h2m1 0h3m1 0h1m2 0h1m29 0h4m1 0h1m3 0h5m2 0h1m1 0h1M114 152.5h1m1 0h1m1 0h1m5 0h1m10 0h1m1 0h2m11 0h4m4 0h1m1 0h1m1 0h2m1 0h1m1 0h2m105 0h1m3 0h1m2 0h1m14 0h1m6 0h9m2 0h2m1 0h13m7 0h3m1 0h1m2 0h1m106 0h1m8 0h1m20 0h1m14 0h1m2 0h1m3 0h1m2 0h3m1 0h2m1 0h2M112 153.5h1m1 0h1m5 0h1m2 0h1m11 0h2m2 0h2m7 0h1m1 0h1m8 0h1m5 0h3m105 0h1m6 0h1m16 0h1m1 0h3m2 0h27m6 0h2m4 0h2m121 0h1m28 0h1m1 0h1m1 0h2m1 0h2m8 0h2M107 154.5h1m2 0h1m2 0h1m32 0h1m1 0h1m3 0h1m5 0h1m6 0h2m2 0h1m101 0h1m2 0h2m20 0h6m1 0h16m1 0h7m1 0h1m2 0h1m4 0h2m5 0h2m119 0h1m9 0h1m21 0h2m2 0h2m3 0h2m1 0h3m1 0h2M117 155.5h2m3 0h1m7 0h1m9 0h5m20 0h3m103 0h1m2 0h1m18 0h7m1 0h11m2 0h3m1 0h1m1 0h9m3 0h1m2 0h5m106 0h1m48 0h1m2 0h8m1 0h9M112 156.5h1m5 0h1m1 0h1m3 0h1m5 0h1m7 0h2m1 0h1m4 0h1m128 0h1m17 0h1m1 0h3m2 0h20m2 0h7m2 0h3m1 0h1m2 0h1m120 0h1m36 0h1m1 0h1m1 0h2m1 0h3m5 0h1M105 157.5h1m9 0h1m1 0h1m3 0h1m1 0h1m4 0h1m11 0h4m140 0h1m8 0h5m2 0h2m1 0h7m3 0h5m1 0h1m2 0h16m124 0h1m7 0h1m10 0h1m17 0h5m1 0h6m2 0h1m2 0h1M111 158.5h2m2 0h3m2 0h2m162 0h1m7 0h21m1 0h4m2 0h1m1 0h14m1 0h1m125 0h1m6 0h1m4 0h1m2 0h2m1 0h1m1 0h1m1 0h1m10 0h2m4 0h1m3 0h1m3 0h2m2 0h1M99 159.5h1m9 0h1m2 0h6m3 0h1m162 0h1m2 0h2m3 0h3m1 0h3m1 0h9m1 0h3m1 0h4m3 0h15m1 0h3m3 0h1m116 0h1m1 0h1m2 0h1m3 0h1m1 0h1m3 0h2m3 0h2m11 0h1m7 0h2m2 0h1m2 0h6M107 160.5h1m1 0h3m3 0h4m172 0h6m3 0h1m1 0h7m2 0h10m1 0h1m3 0h2m2 0h1m2 0h4m1 0h1m1 0h5m114 0h1m2 0h1m1 0h1m4 0h1m1 0h1m2 0h1m3 0h1m2 0h1m15 0h2m5 0h2m1 0h2m2 0h1m1 0h2m3 0h1M104 161.5h2m9 0h4m161 0h1m10 0h14m1 0h2m3 0h4m1 0h2m1 0h6m1 0h2m5 0h6m4 0h2m119 0h3m1 0h3m2 0h1m2 0h1m1 0h1m3 0h1m1 0h1m17 0h1m3 0h1m1 0h2m1 0h6M104 162.5h1m1 0h1m1 0h1m167 0h2m12 0h9m1 0h1m1 0h2m8 0h3m1 0h2m1 0h6m1 0h1m4 0h2m2 0h1m2 0h1m5 0h1m113 0h6m1 0h1m2 0h4m3 0h3m5 0h2m9 0h1m4 0h1m1 0h2m1 0h1m3 0h2m2 0h2m3 0h2M104 163.5h1m2 0h2m6 0h2m156 0h1m1 0h1m1 0h1m7 0h2m2 0h9m1 0h2m3 0h1m7 0h16m4 0h1m5 0h2m120 0h1m2 0h1m2 0h2m1 0h4m2 0h3m1 0h3m1 0h3m15 0h2m1 0h7M104 164.5h2m4 0h2m1 0h1m157 0h1m12 0h1m2 0h1m2 0h8m1 0h1m4 0h3m2 0h1m2 0h15m2 0h3m1 0h1m6 0h1m1 0h1m116 0h1m1 0h2m1 0h4m1 0h2m1 0h2m1 0h3m1 0h3m14 0h1m5 0h1m1 0h2m6 0h2M102 165.5h1m1 0h3m2 0h3m169 0h2m3 0h2m4 0h5m2 0h1m6 0h1m5 0h4m1 0h9m7 0h1m3 0h1m2 0h5m109 0h1m5 0h1m1 0h2m2 0h2m1 0h1m1 0h2m1 0h2m2 0h3m4 0h1m10 0h1m2 0h7m1 0h1m2 0h3m4 0h1M98 166.5h1m2 0h2m3 0h1m3 0h1m1 0h4m164 0h2m10 0h7m5 0h3m5 0h1m2 0h1m1 0h1m2 0h5m12 0h2m1 0h1m2 0h2m113 0h1m1 0h1m4 0h1m6 0h4m2 0h4m2 0h2m11 0h1m1 0h1m2 0h9m4 0h2M104 167.5h1m1 0h1m3 0h2m168 0h1m7 0h2m2 0h6m2 0h6m1 0h3m2 0h5m4 0h4m4 0h1m3 0h2m2 0h1m3 0h4m106 0h1m10 0h1m3 0h2m7 0h1m2 0h2m3 0h2m3 0h1m13 0h4m1 0h3m2 0h1M97 168.5h1m4 0h2m3 0h1m1 0h3m160 0h1m11 0h2m5 0h5m1 0h1m7 0h1m1 0h1m2 0h7m1 0h2m4 0h1m4 0h1m3 0h3m7 0h2m101 0h1m13 0h5m1 0h8m2 0h1m1 0h2m13 0h1m4 0h1m4 0h2m1 0h1M98 169.5h2m6 0h1m176 0h2m6 0h5m1 0h1m4 0h1m2 0h3m4 0h9m6 0h5m2 0h1m4 0h1m3 0h1m116 0h3m2 0h1m2 0h2m7 0h3m3 0h3m2 0h1m10 0h1m8 0h1M99 170.5h1m3 0h1m1 0h1m2 0h1m1 0h1m180 0h3m2 0h3m8 0h4m1 0h10m3 0h6m7 0h1m1 0h1m2 0h1m110 0h1m4 0h1m1 0h3m4 0h1m3 0h1m2 0h1m2 0h1m1 0h4m1 0h1m3 0h1m11 0h1M97 171.5h3m5 0h1m3 0h1m2 0h1m173 0h1m2 0h4m2 0h4m8 0h1m3 0h2m1 0h1m2 0h6m3 0h6m6 0h7m105 0h1m12 0h1m6 0h3m3 0h1m3 0h3m10 0h1m12 0h1m5 0h1m5 0h1M96 172.5h1m5 0h2m8 0h2m159 0h1m15 0h12m6 0h1m3 0h3m4 0h6m2 0h6m4 0h3m1 0h4m121 0h2m1 0h3m2 0h4m8 0h1m23 0h1M97 173.5h3m1 0h1m7 0h1m2 0h2m160 0h1m12 0h1m1 0h10m1 0h1m11 0h2m4 0h11m7 0h2m2 0h3m1 0h1m116 0h1m2 0h1m1 0h1m1 0h2m9 0h4m1 0h1m15 0h2m2 0h1m6 0h1m7 0h1M95 174.5h1m4 0h3m5 0h2m1 0h2m167 0h1m6 0h1m2 0h8m2 0h1m10 0h3m3 0h12m8 0h4m2 0h1m122 0h1m1 0h1m2 0h1m1 0h2m1 0h1m2 0h2m1 0h2m10 0h1m11 0h1M98 175.5h2m2 0h1m7 0h4m157 0h4m3 0h2m2 0h2m3 0h4m1 0h1m1 0h3m3 0h1m6 0h1m2 0h1m2 0h1m2 0h4m1 0h8m13 0h2m116 0h2m4 0h3m1 0h2m8 0h1m3 0h1m4 0h1m8 0h2m16 0h1m1 0h1M103 176.5h3m1 0h2m1 0h1m160 0h3m8 0h2m5 0h1m2 0h10m6 0h1m1 0h1m3 0h2m2 0h3m1 0h2m4 0h3m12 0h1m122 0h2m1 0h1m6 0h1m6 0h1m2 0h1m2 0h1m1 0h2m2 0h1m9 0h1m1 0h1m9 0h1M95 177.5h1m2 0h1m1 0h1m6 0h1m5 0h1m158 0h3m8 0h1m3 0h3m2 0h3m25 0h1m7 0h1m4 0h2m1 0h2m111 0h1m5 0h1m12 0h5m1 0h1m1 0h1m3 0h1m1 0h1m2 0h1m3 0h1m1 0h1m1 0h1m8 0h1m4 0h1m2 0h1m2 0h1m1 0h2M95 178.5h1m4 0h1m1 0h4m165 0h4m3 0h1m4 0h2m2 0h1m2 0h1m2 0h1m34 0h1m4 0h1m3 0h1m112 0h1m18 0h1m6 0h4m5 0h1m3 0h1m1 0h1m1 0h3m1 0h6m3 0h5m2 0h1M99 179.5h2m1 0h3m11 0h1m154 0h2m1 0h1m4 0h1m4 0h4m2 0h1m2 0h1m39 0h1m135 0h1m9 0h1m16 0h2m9 0h1m1 0h2m4 0h1M100 180.5h1m2 0h1m1 0h2m164 0h4m2 0h3m6 0h3m5 0h1m194 0h1m7 0h3m1 0h1m2 0h2m5 0h3m1 0h1m1 0h1M97 181.5h4m3 0h2m2 0h2m161 0h4m1 0h3m3 0h1m4 0h4m3 0h2m199 0h1m3 0h1m3 0h1m1 0h1m3 0h1m2 0h8M97 182.5h1m2 0h1m4 0h4m1 0h2m159 0h5m6 0h1m3 0h2m4 0h2m155 0h1m42 0h1m5 0h3m3 0h1m11 0h1m1 0h2M96 183.5h1m1 0h2m1 0h2m1 0h2m1 0h1m163 0h3m2 0h1m3 0h1m2 0h1m2 0h1m3 0h2m160 0h1m9 0h2m32 0h1m3 0h1m2 0h5m6 0h1M96 184.5h2m2 0h1m2 0h3m165 0h4m8 0h1m2 0h2m1 0h1m2 0h4m167 0h1m36 0h1m2 0h1m1 0h2m2 0h2m3 0h1m4 0h1M97 185.5h2m1 0h1m1 0h1m2 0h1m165 0h6m2 0h3m1 0h2m1 0h10m205 0h1m4 0h3m10 0h1M95 186.5h1m1 0h1m1 0h4m168 0h1m3 0h1m2 0h1m1 0h9m2 0h4m152 0h1m22 0h1m34 0h1m1 0h1m1 0h2m2 0h1m2 0h1M95 187.5h2m1 0h3m172 0h1m1 0h3m2 0h5m1 0h1m5 0h3m211 0h2m2 0h1m5 0h1M98 188.5h2m1 0h2m168 0h2m8 0h4m1 0h2m3 0h3m214 0h1m3 0h1m3 0h3M96 189.5h1m1 0h3m175 0h1m2 0h6m1 0h2m3 0h2m167 0h1m1 0h1m4 0h2m45 0h1m1 0h3M96 190.5h3m2 0h1m174 0h1m1 0h6m3 0h6m164 0h1M96 191.5h2m175 0h11m3 0h6M95 192.5h2m3 0h1m170 0h13m3 0h3m161 0h1M95 193.5h1m2 0h2m171 0h2m1 0h6m2 0h3m3 0h2M96 194.5h1m2 0h2m170 0h9m1 0h7m2 0h1m170 0h1M95 195.5h1m1 0h1m1 0h2m170 0h1m2 0h6m1 0h1m1 0h3m1 0h1m171 0h1m8 0h1M257 243.5h2m181 0h1m1 0h1m5 0h1M260 244.5h1m171 0h1m8 0h1m8 0h1M87 245.5h2m3 0h1m167 0h1m1 0h1m178 0h1m4 0h4M87 246.5h1m4 0h2m165 0h4m187 0h2M89 247.5h1m3 0h2m161 0h1m3 0h3m173 0h1M95 248.5h1m12 0h1m9 0h1m138 0h2m1 0h1m175 0h1m8 0h1m6 0h1m5 0h1M85 249.5h2m1 0h1m19 0h1m12 0h1m31 0h1m103 0h1m2 0h1m185 0h1m3 0h1m12 0h1m7 0h1m7 0h1m25 0h1M85 250.5h2m19 0h3m12 0h1m45 0h1m88 0h6m75 0h1m112 0h1m1 0h1M119 251.5h1m10 0h1m7 0h1m6 0h1m7 0h1m4 0h1m8 0h1m88 0h7m30 0h1m1 0h1m31 0h1m7 0h2m112 0h1m24 0h1m3 0h1m18 0h2M84 252.5h3m22 0h1m2 0h1m16 0h1m7 0h1m1 0h1m1 0h2m4 0h1m3 0h2m12 0h2m89 0h1m1 0h1m3 0h1m45 0h1m129 0h1m6 0h1m56 0h1m11 0h1M85 253.5h2m38 0h2m1 0h2m2 0h2m2 0h1m2 0h3m6 0h4m3 0h1m10 0h3m87 0h2m2 0h2m29 0h1m140 0h2m13 0h1m8 0h1M85 254.5h1m3 0h1m9 0h1m7 0h1m2 0h1m8 0h2m2 0h2m2 0h6m1 0h3m2 0h3m3 0h2m2 0h1m1 0h1m3 0h1m8 0h2m90 0h4m1 0h1m20 0h1m33 0h2m8 0h1m104 0h1m5 0h1m6 0h3m40 0h1m21 0h1m2 0h1M85 255.5h1m1 0h1m3 0h1m27 0h1m3 0h2m2 0h10m3 0h3m1 0h6m1 0h1m3 0h7m4 0h2m88 0h4m1 0h1m30 0h2m1 0h1m4 0h1m1 0h1m4 0h1m7 0h2m5 0h2m7 0h2m5 0h1m1 0h1m94 0h1m6 0h1m9 0h1m7 0h1m13 0h1m5 0h1m7 0h1m6 0h1M85 256.5h4m3 0h2m24 0h1m2 0h11m1 0h2m5 0h4m1 0h7m2 0h2m2 0h1m2 0h1m6 0h1m88 0h1m3 0h1m12 0h1m17 0h3m1 0h2m1 0h1m4 0h1m9 0h4m1 0h1m2 0h1m2 0h2m5 0h1m4 0h2m92 0h1m11 0h2m5 0h1m31 0h1m1 0h1m2 0h2m24 0h1M85 257.5h1m1 0h1m4 0h2m7 0h1m8 0h1m2 0h1m2 0h3m2 0h2m2 0h3m1 0h2m2 0h1m6 0h3m2 0h5m4 0h3m1 0h2m1 0h2m2 0h1m2 0h2m87 0h1m32 0h1m4 0h3m1 0h2m2 0h6m4 0h4m1 0h1m3 0h1m3 0h1m1 0h2m1 0h2m1 0h1m3 0h1m5 0h1m86 0h1m1 0h1m3 0h1m8 0h1m29 0h1m1 0h1m3 0h1m14 0h1M84 258.5h4m5 0h1m4 0h3m9 0h1m2 0h4m8 0h1m1 0h1m1 0h2m1 0h1m5 0h3m4 0h5m6 0h3m2 0h9m88 0h2m33 0h1m1 0h2m1 0h2m3 0h3m1 0h2m1 0h1m3 0h5m2 0h1m3 0h1m2 0h3m1 0h2m1 0h2m1 0h1m3 0h1m1 0h1m110 0h1m24 0h1m28 0h1m1 0h1M84 259.5h4m1 0h2m1 0h2m3 0h1m1 0h1m9 0h10m8 0h2m1 0h2m6 0h1m5 0h3m6 0h9m1 0h2m3 0h2m86 0h6m1 0h1m25 0h1m7 0h3m2 0h2m1 0h6m1 0h1m2 0h2m1 0h2m1 0h7m1 0h5m6 0h1m1 0h3m112 0h1m2 0h1m21 0h1M85 260.5h3m2 0h7m9 0h1m4 0h7m1 0h2m5 0h1m1 0h1m1 0h3m3 0h2m3 0h1m2 0h2m7 0h1m1 0h7m1 0h2m3 0h2m86 0h2m2 0h4m31 0h5m9 0h1m1 0h2m3 0h1m1 0h2m2 0h2m3 0h3m2 0h1m8 0h1m119 0h1m8 0h1m12 0h1M84 261.5h4m2 0h4m12 0h1m4 0h1m1 0h2m1 0h2m1 0h2m5 0h1m1 0h1m1 0h3m1 0h2m5 0h4m13 0h5m1 0h2m1 0h2m87 0h8m5 0h1m14 0h1m10 0h6m7 0h3m1 0h1m3 0h2m8 0h1m1 0h2m2 0h1m5 0h1m1 0h2m1 0h2m112 0h1m1 0h1m17 0h1m4 0h1m36 0h1M84 262.5h1m3 0h1m14 0h1m2 0h1m5 0h1m3 0h2m1 0h2m8 0h3m2 0h3m1 0h7m2 0h3m9 0h1m1 0h2m2 0h5m86 0h2m1 0h1m3 0h2m25 0h1m3 0h3m1 0h3m2 0h1m1 0h2m1 0h1m3 0h1m5 0h1m1 0h2m6 0h1m9 0h1m4 0h1m90 0h1m20 0h1m26 0h1M88 263.5h2m3 0h2m6 0h1m2 0h1m1 0h2m2 0h1m1 0h1m6 0h2m7 0h1m2 0h3m1 0h1m6 0h3m14 0h4m5 0h2m87 0h2m4 0h2m30 0h5m6 0h1m5 0h1m1 0h2m1 0h1m3 0h1m1 0h1m4 0h2m2 0h1m3 0h1m6 0h2m87 0h1m7 0h1m17 0h2m12 0h1m2 0h1m1 0h1m3 0h1m12 0h2M85 264.5h1m2 0h1m4 0h1m1 0h1m7 0h5m2 0h2m18 0h6m8 0h2m1 0h2m1 0h4m6 0h3m93 0h2m2 0h1m1 0h2m3 0h1m25 0h2m1 0h3m5 0h1m2 0h1m9 0h1m1 0h1m1 0h2m1 0h2m12 0h1m2 0h1m1 0h2m87 0h1m5 0h1m15 0h1M83 265.5h4m7 0h3m4 0h1m1 0h1m4 0h2m1 0h1m5 0h4m7 0h2m2 0h1m2 0h1m2 0h1m4 0h3m4 0h2m1 0h1m2 0h3m97 0h2m5 0h2m25 0h3m2 0h6m1 0h1m7 0h1m8 0h1m3 0h2m1 0h2m8 0h2m3 0h2m93 0h2m18 0h1m54 0h1M83 266.5h3m4 0h1m1 0h1m7 0h1m2 0h1m5 0h2m6 0h2m1 0h1m11 0h4m2 0h2m2 0h4m5 0h3m3 0h1m98 0h1m6 0h1m2 0h1m20 0h1m1 0h4m2 0h6m5 0h1m2 0h4m6 0h1m6 0h1m2 0h1m3 0h2m4 0h1m1 0h2m1 0h1m104 0h1m27 0h1m17 0h1M84 267.5h1m8 0h1m2 0h2m5 0h2m4 0h4m4 0h3m21 0h6m3 0h8m106 0h1m15 0h1m2 0h3m1 0h1m1 0h2m1 0h8m4 0h1m1 0h2m1 0h1m1 0h3m5 0h2m3 0h2m2 0h2m6 0h1m1 0h1m1 0h5m96 0h1m11 0h1m24 0h3M84 268.5h4m6 0h4m2 0h3m10 0h3m3 0h1m20 0h5m1 0h6m3 0h1m1 0h1m98 0h2m2 0h1m1 0h3m19 0h1m1 0h1m2 0h12m1 0h1m1 0h1m1 0h1m4 0h1m3 0h2m8 0h1m10 0h1m4 0h2m92 0h1m5 0h1m6 0h1m8 0h1m29 0h1m15 0h1M86 269.5h6m4 0h1m2 0h3m3 0h6m3 0h2m2 0h1m22 0h4m2 0h5m3 0h1m1 0h1m98 0h3m3 0h3m19 0h2m1 0h2m3 0h2m2 0h1m10 0h2m6 0h1m1 0h1m3 0h5m8 0h1m2 0h1m1 0h4m107 0h1m12 0h1m49 0h1M86 270.5h4m2 0h1m3 0h1m2 0h3m3 0h1m2 0h3m3 0h2m28 0h8m3 0h3m98 0h1m2 0h1m2 0h2m4 0h1m13 0h1m1 0h2m2 0h1m1 0h5m1 0h4m6 0h2m7 0h1m2 0h2m1 0h1m8 0h1m6 0h1m1 0h2m2 0h2M82 271.5h1m2 0h1m1 0h4m1 0h3m4 0h1m5 0h1m1 0h1m8 0h1m26 0h10m1 0h2m104 0h1m2 0h1m19 0h5m1 0h3m1 0h1m2 0h4m3 0h1m2 0h1m1 0h2m5 0h1m1 0h1m4 0h2m4 0h2m2 0h2m1 0h3m2 0h2m1 0h2m110 0h1m22 0h1m13 0h1m6 0h1M87 272.5h2m3 0h1m5 0h3m5 0h1m5 0h1m4 0h1m25 0h1m1 0h4m3 0h1m106 0h3m16 0h1m5 0h1m1 0h15m3 0h1m2 0h2m8 0h1m3 0h3m1 0h1m2 0h1m3 0h2m5 0h2m1 0h3m86 0h1m5 0h1m8 0h1m8 0h1m3 0h1m11 0h1m26 0h2m13 0h1M87 273.5h2m1 0h1m7 0h2m4 0h2m5 0h1m31 0h2m1 0h4m1 0h2m107 0h1m3 0h1m8 0h1m9 0h2m2 0h14m2 0h1m13 0h1m3 0h1m2 0h1m1 0h1m13 0h2m1 0h1m93 0h1m10 0h2m17 0h1m3 0h1m12 0h1m11 0h1m4 0h1m12 0h1M82 274.5h2m4 0h7m2 0h2m5 0h2m37 0h2m1 0h3m1 0h2m104 0h1m3 0h2m1 0h2m18 0h2m2 0h5m1 0h2m2 0h4m10 0h1m5 0h2m1 0h2m5 0h1m8 0h2m5 0h1m92 0h1m38 0h1m7 0h1m9 0h1m18 0h1M82 275.5h1m5 0h4m2 0h5m5 0h2m1 0h1m37 0h3m3 0h1m104 0h2m23 0h4m2 0h6m1 0h3m1 0h2m5 0h1m7 0h1m1 0h1m2 0h1m3 0h1m4 0h1m8 0h2m1 0h1m1 0h3m127 0h1m9 0h1m16 0h1m4 0h1M87 276.5h8m9 0h1m40 0h1m1 0h1m2 0h2m108 0h1m20 0h1m1 0h2m5 0h8m1 0h3m7 0h2m2 0h1m2 0h1m1 0h1m3 0h1m5 0h1m2 0h1m5 0h1m1 0h1m1 0h4m118 0h1m3 0h1m4 0h1m1 0h1m2 0h1m6 0h1m2 0h1m12 0h1m2 0h1M87 277.5h3m11 0h3m41 0h2m1 0h3m107 0h1m3 0h1m5 0h1m15 0h3m1 0h3m1 0h4m3 0h1m5 0h1m2 0h2m3 0h1m3 0h1m1 0h1m2 0h2m6 0h2m5 0h1m4 0h3m87 0h1m25 0h1m32 0h1M101 278.5h1m47 0h1m107 0h2m1 0h1m1 0h1m18 0h2m4 0h8m22 0h3m17 0h1m5 0h2m107 0h1m2 0h1m47 0h1m2 0h1M90 279.5h1m1 0h1m6 0h1m49 0h1m106 0h2m1 0h1m1 0h1m21 0h2m2 0h1m1 0h1m1 0h2m13 0h1m10 0h1m4 0h1m1 0h1m2 0h1m2 0h1m3 0h1m1 0h2m2 0h4m105 0h1m9 0h1M91 280.5h1m164 0h2m1 0h2m21 0h1m1 0h2m1 0h3m2 0h1m1 0h1m12 0h1m9 0h1m2 0h1m6 0h1m2 0h1m1 0h2m2 0h2m4 0h2m131 0h1M259 281.5h1m1 0h1m15 0h1m4 0h5m3 0h1m2 0h1m32 0h1m1 0h1m1 0h11m1 0h3m127 0h1M257 282.5h2m4 0h1m21 0h1m1 0h1m1 0h1m2 0h2m1 0h1m24 0h1m8 0h1m2 0h1m5 0h3m1 0h2m114 0h1m32 0h1m8 0h1m2 0h1M256 283.5h2m1 0h2m18 0h1m2 0h1m4 0h2m3 0h2m7 0h1m24 0h1m14 0h2m137 0h1m38 0h1M258 284.5h1m2 0h1m4 0h1m14 0h1m27 0h1m26 0h1m3 0h1m3 0h1M258 285.5h1m23 0h1m8 0h2m26 0h1m12 0h1m10 0h1m116 0h1m13 0h1m6 0h1m2 0h1M265 286.5h1m7 0h1m11 0h1m1 0h1m3 0h2m6 0h1m9 0h1m25 0h1m4 0h1m1 0h2m109 0h1m29 0h1m19 0h1m14 0h1M261 287.5h1m4 0h1m5 0h1m2 0h1m3 0h1m2 0h1m1 0h2m15 0h1m7 0h1m27 0h2m1 0h1m1 0h1m113 0h1m27 0h1m2 0h1m25 0h1M261 288.5h1m2 0h1m1 0h1m1 0h1m8 0h1m4 0h4m5 0h1m6 0h1m3 0h2m3 0h1m1 0h1m2 0h2m1 0h1m3 0h1m16 0h1m1 0h2m2 0h1m1 0h1m112 0h2m57 0h1M271 289.5h2m4 0h2m6 0h1m4 0h1m25 0h1m24 0h1m2 0h1m113 0h1m46 0h3m1 0h1m6 0h1M262 290.5h1m20 0h2m6 0h2m2 0h1m2 0h1m5 0h1m26 0h1m6 0h1m3 0h1m1 0h1m105 0h1m10 0h1m10 0h1m7 0h1m37 0h1M262 291.5h1m27 0h5m7 0h1m2 0h1m11 0h1m3 0h1m16 0h1m4 0h1m110 0h1m16 0h1m38 0h1M279 292.5h1m7 0h2m3 0h1m2 0h1m4 0h1m1 0h1m2 0h2m10 0h1m11 0h1m9 0h1m2 0h2m106 0h1m15 0h1m4 0h1m31 0h1M273 293.5h1m3 0h1m17 0h1m3 0h1m1 0h1m4 0h1m1 0h1m1 0h1m32 0h1m91 0h1m18 0h1m34 0h1m25 0h1M282 294.5h1m10 0h3m8 0h1m22 0h1m4 0h2m2 0h1m2 0h1m94 0h1m5 0h1m9 0h2m47 0h1m13 0h1M276 295.5h1m1 0h1m2 0h1m1 0h3m4 0h2m3 0h1m2 0h2m5 0h4m6 0h1m4 0h1m11 0h1m2 0h2m3 0h2m130 0h1m5 0h1m33 0h1m5 0h1M281 296.5h1m4 0h1m2 0h3m16 0h1m6 0h1m7 0h1m8 0h3m1 0h1m1 0h1m5 0h1m86 0h2m3 0h1m18 0h1m4 0h1m12 0h1m1 0h1m7 0h1m15 0h1m18 0h1M278 297.5h1m9 0h1m5 0h2m9 0h2m10 0h1m8 0h2m8 0h1m3 0h2m97 0h1m18 0h1m7 0h1m9 0h1m9 0h1M289 298.5h1m9 0h1m6 0h1m3 0h1m12 0h1m10 0h2m4 0h1m116 0h1m3 0h1m2 0h1m6 0h1m22 0h1m5 0h1m7 0h1M284 299.5h4m10 0h2m4 0h2m14 0h1m5 0h2m9 0h2m110 0h1m11 0h1m6 0h1m45 0h1M298 300.5h1m1 0h2m4 0h1m27 0h1m97 0h1m28 0h1m25 0h1m2 0h1m16 0h1M461 301.5h1m31 0h1m6 0h1m2 0h1m2 0h1M431 302.5h1m9 0h1m2 0h1m28 0h1m4 0h1m2 0h1m1 0h1m7 0h2m1 0h1m13 0h1m1 0h1m1 0h1"/></g></defs>
<use href="#dye"/>
<use href="#dye" filter="url(#sb)" opacity="0.45"/>
<rect x="21.4" y="32.4" width="148.8" height="59.8" fill="none" stroke="#3a3a3a" stroke-width="0.9"/>
<line x1="170.2" y1="32.4" x2="170.2" y2="28.1" stroke="#3a3a3a" stroke-width="0.9"/>
<line x1="170.2" y1="92.2" x2="170.2" y2="96.5" stroke="#3a3a3a" stroke-width="0.9"/>
<line x1="155.32" y1="32.4" x2="155.32" y2="29.8" stroke="#3a3a3a" stroke-width="0.9"/>
<line x1="155.32" y1="92.2" x2="155.32" y2="94.8" stroke="#3a3a3a" stroke-width="0.9"/>
<line x1="140.44" y1="32.4" x2="140.44" y2="28.1" stroke="#3a3a3a" stroke-width="0.9"/>
<line x1="140.44" y1="92.2" x2="140.44" y2="96.5" stroke="#3a3a3a" stroke-width="0.9"/>
<line x1="125.56" y1="32.4" x2="125.56" y2="29.8" stroke="#3a3a3a" stroke-width="0.9"/>
<line x1="125.56" y1="92.2" x2="125.56" y2="94.8" stroke="#3a3a3a" stroke-width="0.9"/>
<line x1="110.68" y1="32.4" x2="110.68" y2="28.1" stroke="#3a3a3a" stroke-width="0.9"/>
<line x1="110.68" y1="92.2" x2="110.68" y2="96.5" stroke="#3a3a3a" stroke-width="0.9"/>
<line x1="95.8" y1="32.4" x2="95.8" y2="29.8" stroke="#3a3a3a" stroke-width="0.9"/>
<line x1="95.8" y1="92.2" x2="95.8" y2="94.8" stroke="#3a3a3a" stroke-width="0.9"/>
<line x1="80.92" y1="32.4" x2="80.92" y2="28.1" stroke="#3a3a3a" stroke-width="0.9"/>
<line x1="80.92" y1="92.2" x2="80.92" y2="96.5" stroke="#3a3a3a" stroke-width="0.9"/>
<line x1="66.04" y1="32.4" x2="66.04" y2="29.8" stroke="#3a3a3a" stroke-width="0.9"/>
<line x1="66.04" y1="92.2" x2="66.04" y2="94.8" stroke="#3a3a3a" stroke-width="0.9"/>
<line x1="51.16" y1="32.4" x2="51.16" y2="28.1" stroke="#3a3a3a" stroke-width="0.9"/>
<line x1="51.16" y1="92.2" x2="51.16" y2="96.5" stroke="#3a3a3a" stroke-width="0.9"/>
<line x1="36.28" y1="32.4" x2="36.28" y2="29.8" stroke="#3a3a3a" stroke-width="0.9"/>
<line x1="36.28" y1="92.2" x2="36.28" y2="94.8" stroke="#3a3a3a" stroke-width="0.9"/>
<line x1="21.4" y1="32.4" x2="21.4" y2="28.1" stroke="#3a3a3a" stroke-width="0.9"/>
<line x1="21.4" y1="92.2" x2="21.4" y2="96.5" stroke="#3a3a3a" stroke-width="0.9"/>
<line x1="21.4" y1="32.4" x2="17.1" y2="32.4" stroke="#3a3a3a" stroke-width="0.9"/>
<line x1="170.2" y1="32.4" x2="174.5" y2="32.4" stroke="#3a3a3a" stroke-width="0.9"/>
<line x1="21.4" y1="47.35" x2="18.8" y2="47.35" stroke="#3a3a3a" stroke-width="0.9"/>
<line x1="170.2" y1="47.35" x2="172.8" y2="47.35" stroke="#3a3a3a" stroke-width="0.9"/>
<line x1="21.4" y1="62.3" x2="17.1" y2="62.3" stroke="#3a3a3a" stroke-width="0.9"/>
<line x1="170.2" y1="62.3" x2="174.5" y2="62.3" stroke="#3a3a3a" stroke-width="0.9"/>
<line x1="21.4" y1="77.25" x2="18.8" y2="77.25" stroke="#3a3a3a" stroke-width="0.9"/>
<line x1="170.2" y1="77.25" x2="172.8" y2="77.25" stroke="#3a3a3a" stroke-width="0.9"/>
<line x1="21.4" y1="92.2" x2="17.1" y2="92.2" stroke="#3a3a3a" stroke-width="0.9"/>
<line x1="170.2" y1="92.2" x2="174.5" y2="92.2" stroke="#3a3a3a" stroke-width="0.9"/>
<text x="170.2" y="25.8" text-anchor="middle">0</text>
<text x="140.44" y="25.8" text-anchor="middle">10</text>
<text x="110.68" y="25.8" text-anchor="middle">20</text>
<text x="80.92" y="25.8" text-anchor="middle">30</text>
<text x="51.16" y="25.8" text-anchor="middle">40</text>
<text x="21.4" y="25.8" text-anchor="middle">50</text>
<text x="94.7" y="10.8" text-anchor="middle">Width (cm)</text>
<line x1="24.4" y1="71" x2="70.1" y2="71" stroke="#333" stroke-width="1.25" stroke-dasharray="4.5 3.8"/>
<line x1="122.4" y1="71" x2="169.7" y2="71" stroke="#333" stroke-width="1.25" stroke-dasharray="4.5 3.8"/>
<text x="76.6" y="73.8">AB horizon</text>
<text x="25.8" y="88">(a) AR, 850 mL</text>
<rect x="196.3" y="30.4" width="148.8" height="59.6" fill="none" stroke="#3a3a3a" stroke-width="0.9"/>
<line x1="345.1" y1="30.4" x2="345.1" y2="26.1" stroke="#3a3a3a" stroke-width="0.9"/>
<line x1="345.1" y1="90" x2="345.1" y2="94.3" stroke="#3a3a3a" stroke-width="0.9"/>
<line x1="330.22" y1="30.4" x2="330.22" y2="27.8" stroke="#3a3a3a" stroke-width="0.9"/>
<line x1="330.22" y1="90" x2="330.22" y2="92.6" stroke="#3a3a3a" stroke-width="0.9"/>
<line x1="315.34" y1="30.4" x2="315.34" y2="26.1" stroke="#3a3a3a" stroke-width="0.9"/>
<line x1="315.34" y1="90" x2="315.34" y2="94.3" stroke="#3a3a3a" stroke-width="0.9"/>
<line x1="300.46" y1="30.4" x2="300.46" y2="27.8" stroke="#3a3a3a" stroke-width="0.9"/>
<line x1="300.46" y1="90" x2="300.46" y2="92.6" stroke="#3a3a3a" stroke-width="0.9"/>
<line x1="285.58" y1="30.4" x2="285.58" y2="26.1" stroke="#3a3a3a" stroke-width="0.9"/>
<line x1="285.58" y1="90" x2="285.58" y2="94.3" stroke="#3a3a3a" stroke-width="0.9"/>
<line x1="270.7" y1="30.4" x2="270.7" y2="27.8" stroke="#3a3a3a" stroke-width="0.9"/>
<line x1="270.7" y1="90" x2="270.7" y2="92.6" stroke="#3a3a3a" stroke-width="0.9"/>
<line x1="255.82" y1="30.4" x2="255.82" y2="26.1" stroke="#3a3a3a" stroke-width="0.9"/>
<line x1="255.82" y1="90" x2="255.82" y2="94.3" stroke="#3a3a3a" stroke-width="0.9"/>
<line x1="240.94" y1="30.4" x2="240.94" y2="27.8" stroke="#3a3a3a" stroke-width="0.9"/>
<line x1="240.94" y1="90" x2="240.94" y2="92.6" stroke="#3a3a3a" stroke-width="0.9"/>
<line x1="226.06" y1="30.4" x2="226.06" y2="26.1" stroke="#3a3a3a" stroke-width="0.9"/>
<line x1="226.06" y1="90" x2="226.06" y2="94.3" stroke="#3a3a3a" stroke-width="0.9"/>
<line x1="211.18" y1="30.4" x2="211.18" y2="27.8" stroke="#3a3a3a" stroke-width="0.9"/>
<line x1="211.18" y1="90" x2="211.18" y2="92.6" stroke="#3a3a3a" stroke-width="0.9"/>
<line x1="196.3" y1="30.4" x2="196.3" y2="26.1" stroke="#3a3a3a" stroke-width="0.9"/>
<line x1="196.3" y1="90" x2="196.3" y2="94.3" stroke="#3a3a3a" stroke-width="0.9"/>
<line x1="196.3" y1="30.4" x2="192" y2="30.4" stroke="#3a3a3a" stroke-width="0.9"/>
<line x1="345.1" y1="30.4" x2="349.4" y2="30.4" stroke="#3a3a3a" stroke-width="0.9"/>
<line x1="196.3" y1="45.3" x2="193.7" y2="45.3" stroke="#3a3a3a" stroke-width="0.9"/>
<line x1="345.1" y1="45.3" x2="347.7" y2="45.3" stroke="#3a3a3a" stroke-width="0.9"/>
<line x1="196.3" y1="60.2" x2="192" y2="60.2" stroke="#3a3a3a" stroke-width="0.9"/>
<line x1="345.1" y1="60.2" x2="349.4" y2="60.2" stroke="#3a3a3a" stroke-width="0.9"/>
<line x1="196.3" y1="75.1" x2="193.7" y2="75.1" stroke="#3a3a3a" stroke-width="0.9"/>
<line x1="345.1" y1="75.1" x2="347.7" y2="75.1" stroke="#3a3a3a" stroke-width="0.9"/>
<line x1="196.3" y1="90" x2="192" y2="90" stroke="#3a3a3a" stroke-width="0.9"/>
<line x1="345.1" y1="90" x2="349.4" y2="90" stroke="#3a3a3a" stroke-width="0.9"/>
<text x="345.1" y="23.8" text-anchor="middle">0</text>
<text x="315.34" y="23.8" text-anchor="middle">10</text>
<text x="285.58" y="23.8" text-anchor="middle">20</text>
<text x="255.82" y="23.8" text-anchor="middle">30</text>
<text x="226.06" y="23.8" text-anchor="middle">40</text>
<text x="196.3" y="23.8" text-anchor="middle">50</text>
<text x="271" y="8.3" text-anchor="middle">Width (cm)</text>
<line x1="199.3" y1="70.3" x2="245" y2="70.3" stroke="#333" stroke-width="1.25" stroke-dasharray="4.5 3.8"/>
<line x1="297.3" y1="70.3" x2="344.6" y2="70.3" stroke="#333" stroke-width="1.25" stroke-dasharray="4.5 3.8"/>
<text x="251.5" y="73.1">AB horizon</text>
<text x="198.1" y="86">(b) AR, 1700 mL</text>
<rect x="371.2" y="30.3" width="148.9" height="59.7" fill="none" stroke="#3a3a3a" stroke-width="0.9"/>
<line x1="520.1" y1="30.3" x2="520.1" y2="26" stroke="#3a3a3a" stroke-width="0.9"/>
<line x1="520.1" y1="90" x2="520.1" y2="94.3" stroke="#3a3a3a" stroke-width="0.9"/>
<line x1="505.22" y1="30.3" x2="505.22" y2="27.7" stroke="#3a3a3a" stroke-width="0.9"/>
<line x1="505.22" y1="90" x2="505.22" y2="92.6" stroke="#3a3a3a" stroke-width="0.9"/>
<line x1="490.34" y1="30.3" x2="490.34" y2="26" stroke="#3a3a3a" stroke-width="0.9"/>
<line x1="490.34" y1="90" x2="490.34" y2="94.3" stroke="#3a3a3a" stroke-width="0.9"/>
<line x1="475.46" y1="30.3" x2="475.46" y2="27.7" stroke="#3a3a3a" stroke-width="0.9"/>
<line x1="475.46" y1="90" x2="475.46" y2="92.6" stroke="#3a3a3a" stroke-width="0.9"/>
<line x1="460.58" y1="30.3" x2="460.58" y2="26" stroke="#3a3a3a" stroke-width="0.9"/>
<line x1="460.58" y1="90" x2="460.58" y2="94.3" stroke="#3a3a3a" stroke-width="0.9"/>
<line x1="445.7" y1="30.3" x2="445.7" y2="27.7" stroke="#3a3a3a" stroke-width="0.9"/>
<line x1="445.7" y1="90" x2="445.7" y2="92.6" stroke="#3a3a3a" stroke-width="0.9"/>
<line x1="430.82" y1="30.3" x2="430.82" y2="26" stroke="#3a3a3a" stroke-width="0.9"/>
<line x1="430.82" y1="90" x2="430.82" y2="94.3" stroke="#3a3a3a" stroke-width="0.9"/>
<line x1="415.94" y1="30.3" x2="415.94" y2="27.7" stroke="#3a3a3a" stroke-width="0.9"/>
<line x1="415.94" y1="90" x2="415.94" y2="92.6" stroke="#3a3a3a" stroke-width="0.9"/>
<line x1="401.06" y1="30.3" x2="401.06" y2="26" stroke="#3a3a3a" stroke-width="0.9"/>
<line x1="401.06" y1="90" x2="401.06" y2="94.3" stroke="#3a3a3a" stroke-width="0.9"/>
<line x1="386.18" y1="30.3" x2="386.18" y2="27.7" stroke="#3a3a3a" stroke-width="0.9"/>
<line x1="386.18" y1="90" x2="386.18" y2="92.6" stroke="#3a3a3a" stroke-width="0.9"/>
<line x1="371.3" y1="30.3" x2="371.3" y2="26" stroke="#3a3a3a" stroke-width="0.9"/>
<line x1="371.3" y1="90" x2="371.3" y2="94.3" stroke="#3a3a3a" stroke-width="0.9"/>
<line x1="371.2" y1="30.3" x2="366.9" y2="30.3" stroke="#3a3a3a" stroke-width="0.9"/>
<line x1="520.1" y1="30.3" x2="524.4" y2="30.3" stroke="#3a3a3a" stroke-width="0.9"/>
<line x1="371.2" y1="45.23" x2="368.6" y2="45.23" stroke="#3a3a3a" stroke-width="0.9"/>
<line x1="520.1" y1="45.23" x2="522.7" y2="45.23" stroke="#3a3a3a" stroke-width="0.9"/>
<line x1="371.2" y1="60.15" x2="366.9" y2="60.15" stroke="#3a3a3a" stroke-width="0.9"/>
<line x1="520.1" y1="60.15" x2="524.4" y2="60.15" stroke="#3a3a3a" stroke-width="0.9"/>
<line x1="371.2" y1="75.08" x2="368.6" y2="75.08" stroke="#3a3a3a" stroke-width="0.9"/>
<line x1="520.1" y1="75.08" x2="522.7" y2="75.08" stroke="#3a3a3a" stroke-width="0.9"/>
<line x1="371.2" y1="90" x2="366.9" y2="90" stroke="#3a3a3a" stroke-width="0.9"/>
<line x1="520.1" y1="90" x2="524.4" y2="90" stroke="#3a3a3a" stroke-width="0.9"/>
<text x="520.1" y="23.7" text-anchor="middle">0</text>
<text x="490.34" y="23.7" text-anchor="middle">10</text>
<text x="460.58" y="23.7" text-anchor="middle">20</text>
<text x="430.82" y="23.7" text-anchor="middle">30</text>
<text x="401.06" y="23.7" text-anchor="middle">40</text>
<text x="371.3" y="23.7" text-anchor="middle">50</text>
<text x="445.3" y="8.3" text-anchor="middle">Width (cm)</text>
<line x1="374.2" y1="72.9" x2="419.9" y2="72.9" stroke="#333" stroke-width="1.25" stroke-dasharray="4.5 3.8"/>
<line x1="472.2" y1="72.9" x2="519.6" y2="72.9" stroke="#333" stroke-width="1.25" stroke-dasharray="4.5 3.8"/>
<text x="426.4" y="75.7">AB horizon</text>
<text x="373.6" y="84.9">(c) AR, 3400 mL</text>
<text x="530.4" y="31.5" text-anchor="middle">0</text>
<text x="530.4" y="62.75" text-anchor="middle">10</text>
<text x="530.4" y="90.7" text-anchor="middle">20</text>
<text transform="translate(546.3,56.55) rotate(-90)" text-anchor="middle">Depth (cm)</text>
<rect x="95.3" y="139.2" width="74.9" height="59.3" fill="none" stroke="#3a3a3a" stroke-width="0.9"/>
<line x1="170.2" y1="139.2" x2="170.2" y2="134.9" stroke="#3a3a3a" stroke-width="0.9"/>
<line x1="155.32" y1="139.2" x2="155.32" y2="136.6" stroke="#3a3a3a" stroke-width="0.9"/>
<line x1="140.44" y1="139.2" x2="140.44" y2="134.9" stroke="#3a3a3a" stroke-width="0.9"/>
<line x1="125.56" y1="139.2" x2="125.56" y2="136.6" stroke="#3a3a3a" stroke-width="0.9"/>
<line x1="110.68" y1="139.2" x2="110.68" y2="134.9" stroke="#3a3a3a" stroke-width="0.9"/>
<line x1="95.8" y1="139.2" x2="95.8" y2="136.6" stroke="#3a3a3a" stroke-width="0.9"/>
<line x1="170.2" y1="139.2" x2="174.5" y2="139.2" stroke="#3a3a3a" stroke-width="0.9"/>
<line x1="170.2" y1="154.02" x2="172.8" y2="154.02" stroke="#3a3a3a" stroke-width="0.9"/>
<line x1="170.2" y1="168.85" x2="174.5" y2="168.85" stroke="#3a3a3a" stroke-width="0.9"/>
<line x1="170.2" y1="183.68" x2="172.8" y2="183.68" stroke="#3a3a3a" stroke-width="0.9"/>
<line x1="170.2" y1="198.5" x2="174.5" y2="198.5" stroke="#3a3a3a" stroke-width="0.9"/>
<path d="M22.3 139.3C22.78 138.55 24.3 135.97 25.2 134.8C26.1 133.63 26.73 133.05 27.7 132.3C28.67 131.55 30.03 131.07 31 130.3C31.97 129.53 32.75 128.77 33.5 127.7C34.25 126.63 34.85 124.97 35.5 123.9C36.15 122.83 36.65 122.17 37.4 121.3C38.15 120.43 39.35 119.88 40 118.7C40.65 117.52 40.87 115.48 41.3 114.2C41.73 112.92 41.85 111.87 42.6 111C43.35 110.13 44.62 109.55 45.8 109C46.98 108.45 48.62 108.33 49.7 107.7C50.78 107.07 51.33 105.95 52.3 105.2C53.27 104.45 54.43 103.6 55.5 103.2C56.57 102.8 57.7 102.73 58.7 102.8C59.7 102.87 60.68 103.15 61.5 103.6C62.32 104.05 62.8 104.87 63.6 105.5C64.4 106.13 65.32 106.95 66.3 107.4C67.28 107.85 68.42 107.97 69.5 108.2C70.58 108.43 71.82 108.33 72.8 108.8C73.78 109.27 74.55 110.1 75.4 111C76.25 111.9 76.93 113.35 77.9 114.2C78.87 115.05 80.23 115.45 81.2 116.1C82.17 116.75 83.07 117.23 83.7 118.1C84.33 118.97 84.45 120.12 85 121.3C85.55 122.48 86.25 124.13 87 125.2C87.75 126.27 88.53 126.73 89.5 127.7C90.47 128.67 92.03 129.92 92.8 131C93.57 132.08 93.7 133.02 94.1 134.2C94.5 135.38 95 137.27 95.2 138.1C95.4 138.93 95.28 139.02 95.3 139.2" fill="none" stroke="#4a4a4a" stroke-width="1.15"/>
<g fill="#5a5a5a"><circle cx="27.57" cy="136" r="0.65"/><circle cx="31.21" cy="133.25" r="0.65"/><circle cx="34.74" cy="130.33" r="0.65"/><circle cx="37.12" cy="126.42" r="0.65"/><circle cx="39.73" cy="122.67" r="0.65"/><circle cx="42.64" cy="119.18" r="0.65"/><circle cx="43.85" cy="114.75" r="0.65"/><circle cx="46.64" cy="111.48" r="0.65"/><circle cx="50.97" cy="109.97" r="0.65"/><circle cx="54.36" cy="106.9" r="0.65"/><circle cx="58.57" cy="105.4" r="0.65"/><circle cx="62.33" cy="107.81" r="0.65"/><circle cx="66.25" cy="110.15" r="0.65"/><circle cx="70.77" cy="110.98" r="0.65"/><circle cx="74.23" cy="113.75" r="0.65"/><circle cx="77.39" cy="117.02" r="0.65"/><circle cx="81.34" cy="119.36" r="0.65"/><circle cx="83.17" cy="123.55" r="0.65"/><circle cx="85.5" cy="127.49" r="0.65"/><circle cx="88.84" cy="130.65" r="0.65"/><circle cx="91.42" cy="134.34" r="0.65"/><circle cx="92.68" cy="138.76" r="0.65"/></g>
<path d="M22.4 139.5V198.5H95.3" fill="none" stroke="#808080" stroke-width="0.8" stroke-dasharray="0.9 1.1"/>
<rect x="92.5" y="139.2" width="1" height="1" fill="#777"/>
<rect x="92.5" y="145.1" width="1" height="1" fill="#777"/>
<rect x="92.5" y="151" width="1" height="1" fill="#777"/>
<rect x="92.5" y="156.9" width="1" height="1" fill="#777"/>
<rect x="92.5" y="162.8" width="1" height="1" fill="#777"/>
<rect x="92.5" y="168.7" width="1" height="1" fill="#777"/>
<rect x="92.5" y="174.6" width="1" height="1" fill="#777"/>
<rect x="92.5" y="180.5" width="1" height="1" fill="#777"/>
<rect x="92.5" y="186.4" width="1" height="1" fill="#777"/>
<rect x="92.5" y="192.3" width="1" height="1" fill="#777"/>
<text x="25.7" y="148.9">(d) CR, 850 mL</text>
<text x="87.8" y="181.7" text-anchor="end">AB horizon</text>
<line x1="96.8" y1="179" x2="169.7" y2="179" stroke="#333" stroke-width="1.25" stroke-dasharray="4.5 3.8"/>
<line x1="100.3" y1="114.5" x2="90.7" y2="122.6" stroke="#222" stroke-width="1.1"/>
<path d="M89.1 124l1.2 -3.4l2.2 2.6z" fill="#222"/>
<text x="103.2" y="115.7">Rock outcrop</text>
<rect x="270.6" y="136.9" width="74.5" height="59.4" fill="none" stroke="#3a3a3a" stroke-width="0.9"/>
<line x1="345.1" y1="136.9" x2="345.1" y2="132.6" stroke="#3a3a3a" stroke-width="0.9"/>
<line x1="330.22" y1="136.9" x2="330.22" y2="134.3" stroke="#3a3a3a" stroke-width="0.9"/>
<line x1="315.34" y1="136.9" x2="315.34" y2="132.6" stroke="#3a3a3a" stroke-width="0.9"/>
<line x1="300.46" y1="136.9" x2="300.46" y2="134.3" stroke="#3a3a3a" stroke-width="0.9"/>
<line x1="285.58" y1="136.9" x2="285.58" y2="132.6" stroke="#3a3a3a" stroke-width="0.9"/>
<line x1="270.7" y1="136.9" x2="270.7" y2="134.3" stroke="#3a3a3a" stroke-width="0.9"/>
<line x1="345.1" y1="136.9" x2="349.4" y2="136.9" stroke="#3a3a3a" stroke-width="0.9"/>
<line x1="345.1" y1="151.75" x2="347.7" y2="151.75" stroke="#3a3a3a" stroke-width="0.9"/>
<line x1="345.1" y1="166.6" x2="349.4" y2="166.6" stroke="#3a3a3a" stroke-width="0.9"/>
<line x1="345.1" y1="181.45" x2="347.7" y2="181.45" stroke="#3a3a3a" stroke-width="0.9"/>
<line x1="345.1" y1="196.3" x2="349.4" y2="196.3" stroke="#3a3a3a" stroke-width="0.9"/>
<path d="M197.7 137C198.18 136.25 199.7 133.67 200.6 132.5C201.5 131.33 202.13 130.75 203.1 130C204.07 129.25 205.43 128.77 206.4 128C207.37 127.23 208.15 126.47 208.9 125.4C209.65 124.33 210.25 122.67 210.9 121.6C211.55 120.53 212.05 119.87 212.8 119C213.55 118.13 214.75 117.58 215.4 116.4C216.05 115.22 216.27 113.18 216.7 111.9C217.13 110.62 217.25 109.57 218 108.7C218.75 107.83 220.02 107.25 221.2 106.7C222.38 106.15 224.02 106.03 225.1 105.4C226.18 104.77 226.73 103.65 227.7 102.9C228.67 102.15 229.83 101.3 230.9 100.9C231.97 100.5 233.1 100.43 234.1 100.5C235.1 100.57 236.08 100.85 236.9 101.3C237.72 101.75 238.2 102.57 239 103.2C239.8 103.83 240.72 104.65 241.7 105.1C242.68 105.55 243.82 105.67 244.9 105.9C245.98 106.13 247.22 106.03 248.2 106.5C249.18 106.97 249.95 107.8 250.8 108.7C251.65 109.6 252.33 111.05 253.3 111.9C254.27 112.75 255.63 113.15 256.6 113.8C257.57 114.45 258.47 114.93 259.1 115.8C259.73 116.67 259.85 117.82 260.4 119C260.95 120.18 261.65 121.83 262.4 122.9C263.15 123.97 263.93 124.43 264.9 125.4C265.87 126.37 267.43 127.62 268.2 128.7C268.97 129.78 269.1 130.72 269.5 131.9C269.9 133.08 270.4 134.97 270.6 135.8C270.8 136.63 270.68 136.72 270.7 136.9" fill="none" stroke="#4a4a4a" stroke-width="1.15"/>
<g fill="#5a5a5a"><circle cx="202.97" cy="133.7" r="0.65"/><circle cx="206.61" cy="130.95" r="0.65"/><circle cx="210.14" cy="128.03" r="0.65"/><circle cx="212.52" cy="124.12" r="0.65"/><circle cx="215.13" cy="120.37" r="0.65"/><circle cx="218.04" cy="116.88" r="0.65"/><circle cx="219.25" cy="112.45" r="0.65"/><circle cx="222.04" cy="109.18" r="0.65"/><circle cx="226.37" cy="107.67" r="0.65"/><circle cx="229.76" cy="104.6" r="0.65"/><circle cx="233.97" cy="103.1" r="0.65"/><circle cx="237.73" cy="105.51" r="0.65"/><circle cx="241.65" cy="107.85" r="0.65"/><circle cx="246.17" cy="108.68" r="0.65"/><circle cx="249.63" cy="111.45" r="0.65"/><circle cx="252.79" cy="114.72" r="0.65"/><circle cx="256.74" cy="117.06" r="0.65"/><circle cx="258.57" cy="121.25" r="0.65"/><circle cx="260.9" cy="125.19" r="0.65"/><circle cx="264.24" cy="128.35" r="0.65"/><circle cx="266.82" cy="132.04" r="0.65"/><circle cx="268.08" cy="136.46" r="0.65"/></g>
<path d="M197.8 137.2V196.3H270.6" fill="none" stroke="#808080" stroke-width="0.8" stroke-dasharray="0.9 1.1"/>
<rect x="267.8" y="136.9" width="1" height="1" fill="#777"/>
<rect x="267.8" y="142.8" width="1" height="1" fill="#777"/>
<rect x="267.8" y="148.7" width="1" height="1" fill="#777"/>
<rect x="267.8" y="154.6" width="1" height="1" fill="#777"/>
<rect x="267.8" y="160.5" width="1" height="1" fill="#777"/>
<rect x="267.8" y="166.4" width="1" height="1" fill="#777"/>
<rect x="267.8" y="172.3" width="1" height="1" fill="#777"/>
<rect x="267.8" y="178.2" width="1" height="1" fill="#777"/>
<rect x="267.8" y="184.1" width="1" height="1" fill="#777"/>
<rect x="267.8" y="190" width="1" height="1" fill="#777"/>
<text x="198.3" y="146.9">(e) CR, 1700 mL</text>
<text x="262.4" y="179.4" text-anchor="end">AB horizon</text>
<line x1="272.1" y1="176.3" x2="344.6" y2="176.3" stroke="#333" stroke-width="1.25" stroke-dasharray="4.5 3.8"/>
<line x1="275.7" y1="112.2" x2="266.1" y2="120.3" stroke="#222" stroke-width="1.1"/>
<path d="M264.5 121.7l1.2 -3.4l2.2 2.6z" fill="#222"/>
<text x="278.6" y="113.4">Rock outcrop</text>
<rect x="445.9" y="136.9" width="74.2" height="59.4" fill="none" stroke="#3a3a3a" stroke-width="0.9"/>
<line x1="520.1" y1="136.9" x2="520.1" y2="132.6" stroke="#3a3a3a" stroke-width="0.9"/>
<line x1="505.22" y1="136.9" x2="505.22" y2="134.3" stroke="#3a3a3a" stroke-width="0.9"/>
<line x1="490.34" y1="136.9" x2="490.34" y2="132.6" stroke="#3a3a3a" stroke-width="0.9"/>
<line x1="475.46" y1="136.9" x2="475.46" y2="134.3" stroke="#3a3a3a" stroke-width="0.9"/>
<line x1="460.58" y1="136.9" x2="460.58" y2="132.6" stroke="#3a3a3a" stroke-width="0.9"/>
<line x1="445.7" y1="136.9" x2="445.7" y2="134.3" stroke="#3a3a3a" stroke-width="0.9"/>
<line x1="520.1" y1="136.9" x2="524.4" y2="136.9" stroke="#3a3a3a" stroke-width="0.9"/>
<line x1="520.1" y1="151.75" x2="522.7" y2="151.75" stroke="#3a3a3a" stroke-width="0.9"/>
<line x1="520.1" y1="166.6" x2="524.4" y2="166.6" stroke="#3a3a3a" stroke-width="0.9"/>
<line x1="520.1" y1="181.45" x2="522.7" y2="181.45" stroke="#3a3a3a" stroke-width="0.9"/>
<line x1="520.1" y1="196.3" x2="524.4" y2="196.3" stroke="#3a3a3a" stroke-width="0.9"/>
<path d="M372.5 137C372.98 136.25 374.5 133.67 375.4 132.5C376.3 131.33 376.93 130.75 377.9 130C378.87 129.25 380.23 128.77 381.2 128C382.17 127.23 382.95 126.47 383.7 125.4C384.45 124.33 385.05 122.67 385.7 121.6C386.35 120.53 386.85 119.87 387.6 119C388.35 118.13 389.55 117.58 390.2 116.4C390.85 115.22 391.07 113.18 391.5 111.9C391.93 110.62 392.05 109.57 392.8 108.7C393.55 107.83 394.82 107.25 396 106.7C397.18 106.15 398.82 106.03 399.9 105.4C400.98 104.77 401.53 103.65 402.5 102.9C403.47 102.15 404.63 101.3 405.7 100.9C406.77 100.5 407.9 100.43 408.9 100.5C409.9 100.57 410.88 100.85 411.7 101.3C412.52 101.75 413 102.57 413.8 103.2C414.6 103.83 415.52 104.65 416.5 105.1C417.48 105.55 418.62 105.67 419.7 105.9C420.78 106.13 422.02 106.03 423 106.5C423.98 106.97 424.75 107.8 425.6 108.7C426.45 109.6 427.13 111.05 428.1 111.9C429.07 112.75 430.43 113.15 431.4 113.8C432.37 114.45 433.27 114.93 433.9 115.8C434.53 116.67 434.65 117.82 435.2 119C435.75 120.18 436.45 121.83 437.2 122.9C437.95 123.97 438.73 124.43 439.7 125.4C440.67 126.37 442.23 127.62 443 128.7C443.77 129.78 443.9 130.72 444.3 131.9C444.7 133.08 445.2 134.97 445.4 135.8C445.6 136.63 445.48 136.72 445.5 136.9" fill="none" stroke="#4a4a4a" stroke-width="1.15"/>
<g fill="#5a5a5a"><circle cx="377.77" cy="133.7" r="0.65"/><circle cx="381.41" cy="130.95" r="0.65"/><circle cx="384.94" cy="128.03" r="0.65"/><circle cx="387.32" cy="124.12" r="0.65"/><circle cx="389.93" cy="120.37" r="0.65"/><circle cx="392.84" cy="116.88" r="0.65"/><circle cx="394.05" cy="112.45" r="0.65"/><circle cx="396.84" cy="109.18" r="0.65"/><circle cx="401.17" cy="107.67" r="0.65"/><circle cx="404.56" cy="104.6" r="0.65"/><circle cx="408.77" cy="103.1" r="0.65"/><circle cx="412.53" cy="105.51" r="0.65"/><circle cx="416.45" cy="107.85" r="0.65"/><circle cx="420.97" cy="108.68" r="0.65"/><circle cx="424.43" cy="111.45" r="0.65"/><circle cx="427.59" cy="114.72" r="0.65"/><circle cx="431.54" cy="117.06" r="0.65"/><circle cx="433.37" cy="121.25" r="0.65"/><circle cx="435.7" cy="125.19" r="0.65"/><circle cx="439.04" cy="128.35" r="0.65"/><circle cx="441.62" cy="132.04" r="0.65"/><circle cx="442.88" cy="136.46" r="0.65"/></g>
<path d="M372.6 137.2V196.3H445.9" fill="none" stroke="#808080" stroke-width="0.8" stroke-dasharray="0.9 1.1"/>
<rect x="443.1" y="136.9" width="1" height="1" fill="#777"/>
<rect x="443.1" y="142.8" width="1" height="1" fill="#777"/>
<rect x="443.1" y="148.7" width="1" height="1" fill="#777"/>
<rect x="443.1" y="154.6" width="1" height="1" fill="#777"/>
<rect x="443.1" y="160.5" width="1" height="1" fill="#777"/>
<rect x="443.1" y="166.4" width="1" height="1" fill="#777"/>
<rect x="443.1" y="172.3" width="1" height="1" fill="#777"/>
<rect x="443.1" y="178.2" width="1" height="1" fill="#777"/>
<rect x="443.1" y="184.1" width="1" height="1" fill="#777"/>
<rect x="443.1" y="190" width="1" height="1" fill="#777"/>
<text x="374.2" y="146.5">(f) CR, 3400 mL</text>
<text x="437.8" y="179.4" text-anchor="end">AB horizon</text>
<line x1="447.4" y1="176" x2="519.6" y2="176" stroke="#333" stroke-width="1.25" stroke-dasharray="4.5 3.8"/>
<line x1="450.5" y1="112.2" x2="440.9" y2="120.3" stroke="#222" stroke-width="1.1"/>
<path d="M439.3 121.7l1.2 -3.4l2.2 2.6z" fill="#222"/>
<text x="453.4" y="113.4">Rock outcrop</text>
<text x="530.4" y="138.1" text-anchor="middle">0</text>
<text x="530.4" y="169.2" text-anchor="middle">10</text>
<text x="530.4" y="197" text-anchor="middle">20</text>
<text transform="translate(546.3,164.6) rotate(-90)" text-anchor="middle">Depth (cm)</text>
<rect x="82.2" y="245.3" width="88" height="59.9" fill="none" stroke="#3a3a3a" stroke-width="0.9"/>
<line x1="170.2" y1="245.3" x2="170.2" y2="241" stroke="#3a3a3a" stroke-width="0.9"/>
<line x1="155.32" y1="245.3" x2="155.32" y2="242.7" stroke="#3a3a3a" stroke-width="0.9"/>
<line x1="140.44" y1="245.3" x2="140.44" y2="241" stroke="#3a3a3a" stroke-width="0.9"/>
<line x1="125.56" y1="245.3" x2="125.56" y2="242.7" stroke="#3a3a3a" stroke-width="0.9"/>
<line x1="110.68" y1="245.3" x2="110.68" y2="241" stroke="#3a3a3a" stroke-width="0.9"/>
<line x1="95.8" y1="245.3" x2="95.8" y2="242.7" stroke="#3a3a3a" stroke-width="0.9"/>
<line x1="170.2" y1="245.3" x2="174.5" y2="245.3" stroke="#3a3a3a" stroke-width="0.9"/>
<line x1="170.2" y1="260.27" x2="172.8" y2="260.27" stroke="#3a3a3a" stroke-width="0.9"/>
<line x1="170.2" y1="275.25" x2="174.5" y2="275.25" stroke="#3a3a3a" stroke-width="0.9"/>
<line x1="170.2" y1="290.23" x2="172.8" y2="290.23" stroke="#3a3a3a" stroke-width="0.9"/>
<line x1="170.2" y1="305.2" x2="174.5" y2="305.2" stroke="#3a3a3a" stroke-width="0.9"/>
<path d="M3.92 245.23L4.16 245.08L4.46 244.89L4.79 244.67L5.15 244.4L5.53 244.08L5.92 243.73L6.33 243.33L6.74 242.91L7.15 242.48L7.57 242.06L7.98 241.66L8.38 241.28L8.78 240.93L9.21 240.58L9.65 240.24L10.1 239.92L10.55 239.61L11 239.31L11.44 239.01L11.85 238.71L12.23 238.41L12.59 238.1L12.92 237.79L13.22 237.47L13.49 237.15L13.74 236.82L13.97 236.49L14.18 236.14L14.39 235.8L14.59 235.45L14.79 235.09L15 234.74L15.21 234.38L15.44 234.02L15.68 233.67L15.94 233.32L16.21 232.99L16.49 232.66L16.78 232.36L17.08 232.06L17.38 231.78L17.67 231.51L17.97 231.24L18.25 230.98L18.53 230.72L18.8 230.46L19.05 230.19L19.3 229.92L19.53 229.65L19.74 229.36L19.94 229.07L20.13 228.76L20.31 228.44L20.47 228.12L20.63 227.78L20.77 227.44L20.92 227.09L21.06 226.73L21.2 226.38L21.34 226.03L21.47 225.69L21.61 225.36L21.75 225.05L21.89 224.74L22.03 224.43L22.19 224.12L22.36 223.81L22.55 223.5L22.76 223.17L22.99 222.85L23.24 222.51L23.51 222.17L23.8 221.81L24.1 221.44L24.4 221.04L24.7 220.63L24.99 220.2L25.26 219.75L25.5 219.3L25.73 218.84L25.94 218.37L26.15 217.9L26.35 217.45L26.56 217.02L26.77 216.61L26.99 216.23L27.23 215.86L27.48 215.51L27.74 215.19L28.02 214.89L28.31 214.61L28.6 214.36L28.9 214.13L29.21 213.92L29.52 213.73L29.84 213.55L30.16 213.4L30.49 213.26L30.81 213.15L31.12 213.05L31.42 212.97L31.71 212.9L31.99 212.84L32.26 212.78L32.52 212.72L32.77 212.66L33.02 212.59L33.26 212.51L33.5 212.43L33.73 212.36L33.96 212.29L34.18 212.22L34.39 212.16L34.6 212.09L34.81 212.01L35.03 211.93L35.24 211.83L35.47 211.72L35.71 211.58L35.96 211.42L36.24 211.24L36.54 211.02L36.87 210.78L37.22 210.53L37.6 210.27L38 210.02L38.43 209.78L38.87 209.56L39.33 209.37L39.79 209.2L40.25 209.06L40.69 208.96L41.11 208.87L41.51 208.78L41.9 208.7L42.29 208.61L42.68 208.52L43.06 208.43L43.44 208.34L43.82 208.25L44.2 208.17L44.59 208.09L45 208.03L45.44 207.98L45.89 207.96L46.38 207.98L46.88 208.03L47.39 208.1L47.9 208.21L48.41 208.35L48.91 208.52L49.39 208.71L49.85 208.91L50.27 209.12L50.67 209.32L51.04 209.52L51.4 209.71L51.74 209.9L52.06 210.08L52.38 210.26L52.67 210.43L52.96 210.6L53.24 210.75L53.52 210.88L53.8 211.01L54.07 211.12L54.35 211.23L54.63 211.32L54.92 211.39L55.19 211.44L55.47 211.49L55.75 211.51L56.04 211.54L56.34 211.56L56.65 211.58L56.98 211.6L57.33 211.63L57.7 211.68L58.08 211.75L58.47 211.84L58.87 211.95L59.28 212.08L59.69 212.24L60.1 212.42L60.52 212.63L60.92 212.86L61.32 213.12L61.71 213.4L62.09 213.69L62.46 214L62.81 214.31L63.16 214.63L63.5 214.95L63.85 215.27L64.19 215.59L64.55 215.9L64.92 216.2L65.31 216.49L65.71 216.77L66.13 217.05L66.55 217.31L66.98 217.56L67.4 217.8L67.82 218.04L68.22 218.26L68.61 218.48L69.01 218.71L69.4 218.94L69.8 219.2L70.19 219.47L70.57 219.76L70.94 220.08L71.3 220.42L71.65 220.78L71.98 221.15L72.29 221.54L72.59 221.94L72.89 222.34L73.19 222.73L73.51 223.13L73.84 223.52L74.19 223.92L74.57 224.33L74.95 224.75L75.35 225.18L75.74 225.63L76.12 226.09L76.49 226.58L76.84 227.09L77.17 227.64L77.47 228.21L77.74 228.8L77.99 229.39L78.23 229.97L78.46 230.53L78.71 231.07L78.96 231.58L79.24 232.06L79.53 232.51L79.85 232.94L80.17 233.36L80.51 233.79L80.86 234.21L81.21 234.65L81.55 235.09L81.87 235.54L82.17 235.99L82.44 236.45L82.68 236.91L82.9 237.36L83.1 237.8L83.28 238.23L83.44 238.65L83.58 239.05L83.71 239.44L83.82 239.8L83.94 240.13L84.05 240.44L84.18 240.72L84.31 240.98L84.46 241.21L84.62 241.42L84.8 241.61L85 241.78L85.22 241.92L85.43 242.04L85.65 242.13L85.88 242.21L86.12 242.26L86.38 242.31L86.67 242.35L86.99 242.37L87.35 242.4L87.75 242.44L88.2 242.48L88.68 242.55L89.24 242.64L89.87 242.77L90.55 242.95L91.27 243.17L92 243.41L92.72 243.66L93.41 243.88L94.06 244.05L94.66 244.18L95.2 244.25L95.67 244.3L96.03 244.32" fill="none" stroke="#2e2e2e" stroke-width="1.05"/>
<path d="M5.24 247.35L5.52 247.18L5.86 246.97L6.26 246.69L6.71 246.35L7.17 245.97L7.63 245.55L8.08 245.11L8.52 244.67L8.93 244.24L9.33 243.83L9.7 243.46L10.05 243.14L10.39 242.84L10.75 242.54L11.14 242.25L11.54 241.96L11.98 241.67L12.43 241.36L12.89 241.04L13.36 240.7L13.83 240.33L14.27 239.95L14.69 239.55L15.08 239.14L15.44 238.72L15.76 238.29L16.05 237.87L16.3 237.46L16.54 237.07L16.75 236.7L16.95 236.35L17.15 236.01L17.33 235.7L17.52 235.41L17.71 235.12L17.91 234.86L18.12 234.59L18.34 234.34L18.58 234.09L18.83 233.85L19.09 233.6L19.37 233.34L19.66 233.08L19.96 232.81L20.26 232.52L20.58 232.22L20.89 231.89L21.19 231.55L21.49 231.19L21.77 230.82L22.04 230.43L22.29 230.03L22.51 229.62L22.72 229.21L22.9 228.81L23.08 228.41L23.23 228.03L23.38 227.66L23.52 227.3L23.65 226.96L23.78 226.64L23.91 226.34L24.03 226.06L24.15 225.8L24.27 225.55L24.39 225.3L24.53 225.06L24.67 224.82L24.83 224.57L25.02 224.31L25.23 224.03L25.47 223.71L25.76 223.36L26.08 222.96L26.41 222.52L26.76 222.04L27.1 221.53L27.42 221L27.72 220.46L27.98 219.92L28.22 219.41L28.42 218.94L28.61 218.51L28.79 218.14L28.96 217.82L29.13 217.53L29.29 217.27L29.46 217.03L29.64 216.82L29.81 216.63L29.99 216.46L30.18 216.3L30.37 216.15L30.57 216.02L30.78 215.89L30.98 215.78L31.19 215.68L31.39 215.59L31.6 215.52L31.82 215.46L32.05 215.39L32.29 215.34L32.55 215.28L32.83 215.22L33.11 215.15L33.42 215.07L33.72 214.99L34 214.9L34.26 214.82L34.48 214.75L34.7 214.68L34.93 214.61L35.17 214.53L35.44 214.44L35.72 214.34L36.01 214.22L36.33 214.08L36.65 213.92L36.98 213.73L37.32 213.52L37.66 213.3L37.99 213.06L38.32 212.82L38.63 212.59L38.95 212.38L39.27 212.18L39.59 211.99L39.92 211.83L40.25 211.69L40.58 211.57L40.92 211.47L41.27 211.39L41.64 211.31L42.04 211.23L42.45 211.13L42.85 211.04L43.25 210.95L43.63 210.86L44 210.77L44.35 210.69L44.69 210.62L45.01 210.56L45.31 210.51L45.6 210.48L45.89 210.46L46.22 210.47L46.56 210.51L46.93 210.56L47.31 210.64L47.7 210.75L48.07 210.87L48.44 211.02L48.81 211.18L49.17 211.36L49.52 211.54L49.87 211.72L50.2 211.9L50.52 212.08L50.82 212.25L51.14 212.43L51.45 212.62L51.77 212.8L52.11 212.97L52.45 213.14L52.8 213.3L53.17 213.45L53.55 213.59L53.95 213.72L54.35 213.82L54.75 213.91L55.14 213.96L55.51 214L55.85 214.03L56.17 214.05L56.48 214.07L56.76 214.09L57.04 214.11L57.3 214.15L57.57 214.19L57.85 214.26L58.14 214.34L58.44 214.44L58.74 214.55L59.04 214.68L59.33 214.83L59.63 215L59.92 215.19L60.22 215.4L60.53 215.64L60.84 215.9L61.15 216.18L61.47 216.47L61.8 216.78L62.16 217.11L62.54 217.46L62.94 217.82L63.38 218.17L63.84 218.52L64.31 218.85L64.78 219.15L65.25 219.44L65.71 219.71L66.16 219.97L66.59 220.21L66.99 220.44L67.38 220.65L67.74 220.86L68.08 221.06L68.4 221.27L68.7 221.48L69 221.71L69.28 221.94L69.55 222.2L69.81 222.47L70.06 222.76L70.33 223.09L70.61 223.46L70.91 223.86L71.23 224.28L71.58 224.72L71.94 225.15L72.33 225.59L72.71 226.01L73.1 226.43L73.47 226.84L73.83 227.24L74.16 227.64L74.46 228.03L74.74 228.43L74.99 228.86L75.23 229.32L75.46 229.83L75.69 230.37L75.93 230.95L76.18 231.55L76.46 232.16L76.77 232.77L77.1 233.36L77.46 233.91L77.83 234.43L78.2 234.9L78.56 235.35L78.91 235.77L79.24 236.18L79.54 236.57L79.81 236.94L80.05 237.31L80.26 237.68L80.46 238.05L80.64 238.42L80.8 238.79L80.96 239.15L81.09 239.51L81.22 239.87L81.33 240.23L81.46 240.61L81.59 241L81.75 241.4L81.93 241.82L82.15 242.24L82.41 242.65L82.73 243.06L83.09 243.44L83.49 243.77L83.91 244.05L84.33 244.28L84.76 244.47L85.18 244.61L85.59 244.71L85.99 244.78L86.38 244.83L86.76 244.86L87.13 244.89L87.5 244.92L87.89 244.96L88.29 245.02L88.75 245.09L89.28 245.2L89.88 245.35L90.52 245.55L91.22 245.79L91.96 246.04L92.72 246.28L93.48 246.49L94.21 246.64L94.87 246.73L95.41 246.78L95.83 246.81" fill="none" stroke="#555" stroke-width="0.85"/>
<g fill="#5a5a5a"><circle cx="12.56" cy="244.56" r="0.6"/><circle cx="16.38" cy="241.67" r="0.6"/><circle cx="19.22" cy="237.83" r="0.6"/><circle cx="22.36" cy="234.24" r="0.6"/><circle cx="25.16" cy="230.37" r="0.6"/><circle cx="27.13" cy="226" r="0.6"/><circle cx="29.9" cy="222.1" r="0.6"/><circle cx="32.38" cy="218.11" r="0.6"/><circle cx="36.98" cy="216.74" r="0.6"/><circle cx="41.08" cy="214.27" r="0.6"/><circle cx="45.74" cy="213.17" r="0.6"/><circle cx="50.13" cy="214.97" r="0.6"/><circle cx="54.6" cy="216.61" r="0.6"/><circle cx="59.08" cy="217.95" r="0.6"/><circle cx="62.74" cy="221.04" r="0.6"/><circle cx="66.87" cy="223.49" r="0.6"/><circle cx="70.04" cy="227.07" r="0.6"/><circle cx="72.96" cy="230.85" r="0.6"/><circle cx="75.05" cy="235.16" r="0.6"/><circle cx="77.91" cy="239" r="0.6"/><circle cx="79.73" cy="243.44" r="0.6"/></g>
<path d="M9.8 244.5V305.2H82.2" fill="none" stroke="#808080" stroke-width="0.8" stroke-dasharray="0.9 1.1"/>
<rect x="79.4" y="245.3" width="1" height="1" fill="#777"/>
<rect x="79.4" y="250.9" width="1" height="1" fill="#777"/>
<rect x="79.4" y="256.5" width="1" height="1" fill="#777"/>
<rect x="79.4" y="262.1" width="1" height="1" fill="#777"/>
<rect x="79.4" y="267.7" width="1" height="1" fill="#777"/>
<rect x="79.4" y="273.3" width="1" height="1" fill="#777"/>
<rect x="79.4" y="278.9" width="1" height="1" fill="#777"/>
<rect x="79.4" y="284.5" width="1" height="1" fill="#777"/>
<rect x="79.4" y="290.1" width="1" height="1" fill="#777"/>
<rect x="79.4" y="295.7" width="1" height="1" fill="#777"/>
<rect x="79.4" y="301.3" width="1" height="1" fill="#777"/>
<text x="11.5" y="253.3">(g) CFMR, 850 mL</text>
<text x="74.6" y="288.8" text-anchor="end">AB horizon</text>
<line x1="83.7" y1="286.3" x2="169.7" y2="286.3" stroke="#333" stroke-width="1.25" stroke-dasharray="4.5 3.8"/>
<line x1="95" y1="226.6" x2="85.5" y2="234.5" stroke="#222" stroke-width="1.1"/>
<path d="M83.9 235.8l1.1 -3.4l2.3 2.5z" fill="#222"/>
<text x="78.4" y="223">Film-mulched rock outcrop</text>
<rect x="256.3" y="242.8" width="88.8" height="60.1" fill="none" stroke="#3a3a3a" stroke-width="0.9"/>
<line x1="345.1" y1="242.8" x2="345.1" y2="238.5" stroke="#3a3a3a" stroke-width="0.9"/>
<line x1="330.22" y1="242.8" x2="330.22" y2="240.2" stroke="#3a3a3a" stroke-width="0.9"/>
<line x1="315.34" y1="242.8" x2="315.34" y2="238.5" stroke="#3a3a3a" stroke-width="0.9"/>
<line x1="300.46" y1="242.8" x2="300.46" y2="240.2" stroke="#3a3a3a" stroke-width="0.9"/>
<line x1="285.58" y1="242.8" x2="285.58" y2="238.5" stroke="#3a3a3a" stroke-width="0.9"/>
<line x1="270.7" y1="242.8" x2="270.7" y2="240.2" stroke="#3a3a3a" stroke-width="0.9"/>
<line x1="255.82" y1="242.8" x2="255.82" y2="238.5" stroke="#3a3a3a" stroke-width="0.9"/>
<line x1="345.1" y1="242.8" x2="349.4" y2="242.8" stroke="#3a3a3a" stroke-width="0.9"/>
<line x1="345.1" y1="257.82" x2="347.7" y2="257.82" stroke="#3a3a3a" stroke-width="0.9"/>
<line x1="345.1" y1="272.85" x2="349.4" y2="272.85" stroke="#3a3a3a" stroke-width="0.9"/>
<line x1="345.1" y1="287.88" x2="347.7" y2="287.88" stroke="#3a3a3a" stroke-width="0.9"/>
<line x1="345.1" y1="302.9" x2="349.4" y2="302.9" stroke="#3a3a3a" stroke-width="0.9"/>
<path d="M178.32 242.93L178.56 242.78L178.86 242.59L179.19 242.37L179.55 242.1L179.93 241.78L180.32 241.43L180.73 241.03L181.14 240.61L181.55 240.18L181.97 239.76L182.38 239.36L182.78 238.98L183.18 238.63L183.61 238.28L184.05 237.94L184.5 237.62L184.95 237.31L185.4 237.01L185.84 236.71L186.25 236.41L186.63 236.11L186.99 235.8L187.32 235.49L187.62 235.17L187.89 234.85L188.14 234.52L188.37 234.19L188.58 233.84L188.79 233.5L188.99 233.15L189.19 232.79L189.4 232.44L189.61 232.08L189.84 231.72L190.08 231.37L190.34 231.02L190.61 230.69L190.89 230.36L191.18 230.06L191.48 229.76L191.78 229.48L192.07 229.21L192.37 228.94L192.65 228.68L192.93 228.42L193.2 228.16L193.45 227.89L193.7 227.62L193.93 227.35L194.14 227.06L194.34 226.77L194.53 226.46L194.71 226.14L194.87 225.82L195.03 225.48L195.17 225.14L195.32 224.79L195.46 224.43L195.6 224.08L195.74 223.73L195.87 223.39L196.01 223.06L196.15 222.75L196.29 222.44L196.43 222.13L196.59 221.82L196.76 221.51L196.95 221.2L197.16 220.87L197.39 220.55L197.64 220.21L197.91 219.87L198.2 219.51L198.5 219.14L198.8 218.74L199.1 218.33L199.39 217.9L199.66 217.45L199.9 217L200.13 216.54L200.34 216.07L200.55 215.6L200.75 215.15L200.96 214.72L201.17 214.31L201.39 213.93L201.63 213.56L201.88 213.21L202.14 212.89L202.42 212.59L202.71 212.31L203 212.06L203.3 211.83L203.61 211.62L203.92 211.43L204.24 211.25L204.56 211.1L204.89 210.96L205.21 210.85L205.52 210.75L205.82 210.67L206.11 210.6L206.39 210.54L206.66 210.48L206.92 210.42L207.17 210.36L207.42 210.29L207.66 210.21L207.9 210.13L208.13 210.06L208.36 209.99L208.58 209.92L208.79 209.86L209 209.79L209.21 209.71L209.43 209.63L209.64 209.53L209.87 209.42L210.11 209.28L210.36 209.12L210.64 208.94L210.94 208.72L211.27 208.48L211.62 208.23L212 207.97L212.4 207.72L212.83 207.48L213.27 207.26L213.73 207.07L214.19 206.9L214.65 206.76L215.09 206.66L215.51 206.57L215.91 206.48L216.3 206.4L216.69 206.31L217.08 206.22L217.46 206.13L217.84 206.04L218.22 205.95L218.6 205.87L218.99 205.79L219.4 205.73L219.84 205.68L220.29 205.66L220.78 205.68L221.28 205.73L221.79 205.8L222.3 205.91L222.81 206.05L223.31 206.22L223.79 206.41L224.25 206.61L224.67 206.82L225.07 207.02L225.44 207.22L225.8 207.41L226.14 207.6L226.46 207.78L226.78 207.96L227.07 208.13L227.36 208.3L227.64 208.45L227.92 208.58L228.2 208.71L228.47 208.82L228.75 208.93L229.03 209.02L229.32 209.09L229.59 209.14L229.87 209.19L230.15 209.21L230.44 209.24L230.74 209.26L231.05 209.28L231.38 209.3L231.73 209.33L232.1 209.38L232.48 209.45L232.87 209.54L233.27 209.65L233.68 209.78L234.09 209.94L234.5 210.12L234.92 210.33L235.32 210.56L235.72 210.82L236.11 211.1L236.49 211.39L236.86 211.7L237.21 212.01L237.56 212.33L237.9 212.65L238.25 212.97L238.59 213.29L238.95 213.6L239.32 213.9L239.71 214.19L240.11 214.47L240.53 214.75L240.95 215.01L241.38 215.26L241.8 215.5L242.22 215.74L242.62 215.96L243.01 216.18L243.41 216.41L243.8 216.64L244.2 216.9L244.59 217.17L244.97 217.46L245.34 217.78L245.7 218.12L246.05 218.48L246.38 218.85L246.69 219.24L246.99 219.64L247.29 220.04L247.59 220.43L247.91 220.83L248.24 221.22L248.59 221.62L248.97 222.03L249.35 222.45L249.75 222.88L250.14 223.33L250.52 223.79L250.89 224.28L251.24 224.79L251.57 225.34L251.87 225.91L252.14 226.5L252.39 227.09L252.63 227.67L252.86 228.23L253.11 228.77L253.36 229.28L253.64 229.76L253.93 230.21L254.25 230.64L254.57 231.06L254.91 231.49L255.26 231.91L255.61 232.35L255.95 232.79L256.27 233.24L256.57 233.69L256.84 234.15L257.08 234.61L257.3 235.06L257.5 235.5L257.68 235.93L257.84 236.35L257.98 236.75L258.11 237.14L258.22 237.5L258.34 237.83L258.45 238.14L258.58 238.42L258.71 238.68L258.86 238.91L259.02 239.12L259.2 239.31L259.4 239.48L259.62 239.62L259.83 239.74L260.05 239.83L260.28 239.91L260.52 239.96L260.78 240.01L261.07 240.05L261.39 240.07L261.75 240.1L262.15 240.14L262.6 240.18L263.08 240.25L263.64 240.34L264.27 240.47L264.95 240.65L265.67 240.87L266.4 241.11L267.12 241.36L267.81 241.58L268.46 241.75L269.06 241.88L269.6 241.95L270.07 242L270.43 242.02" fill="none" stroke="#2e2e2e" stroke-width="1.05"/>
<path d="M179.64 245.05L179.92 244.88L180.26 244.67L180.66 244.39L181.11 244.05L181.57 243.67L182.03 243.25L182.48 242.81L182.92 242.37L183.33 241.94L183.73 241.53L184.1 241.16L184.45 240.84L184.79 240.54L185.15 240.24L185.54 239.95L185.94 239.66L186.38 239.37L186.83 239.06L187.29 238.74L187.76 238.4L188.23 238.03L188.67 237.65L189.09 237.25L189.48 236.84L189.84 236.42L190.16 235.99L190.45 235.57L190.7 235.16L190.94 234.77L191.15 234.4L191.35 234.05L191.55 233.71L191.73 233.4L191.92 233.11L192.11 232.82L192.31 232.56L192.52 232.29L192.74 232.04L192.98 231.79L193.23 231.55L193.49 231.3L193.77 231.04L194.06 230.78L194.36 230.51L194.66 230.22L194.98 229.92L195.29 229.59L195.59 229.25L195.89 228.89L196.17 228.52L196.44 228.13L196.69 227.73L196.91 227.32L197.12 226.91L197.3 226.51L197.48 226.11L197.63 225.73L197.78 225.36L197.92 225L198.05 224.66L198.18 224.34L198.31 224.04L198.43 223.76L198.55 223.5L198.67 223.25L198.79 223L198.93 222.76L199.07 222.52L199.23 222.27L199.42 222.01L199.63 221.73L199.87 221.41L200.16 221.06L200.48 220.66L200.81 220.22L201.16 219.74L201.5 219.23L201.82 218.7L202.12 218.16L202.38 217.62L202.62 217.11L202.82 216.64L203.01 216.21L203.19 215.84L203.36 215.52L203.53 215.23L203.69 214.97L203.86 214.73L204.04 214.52L204.21 214.33L204.39 214.16L204.58 214L204.77 213.85L204.97 213.72L205.18 213.59L205.38 213.48L205.59 213.38L205.79 213.29L206 213.22L206.22 213.16L206.45 213.09L206.69 213.04L206.95 212.98L207.23 212.92L207.51 212.85L207.82 212.77L208.12 212.69L208.4 212.6L208.66 212.52L208.88 212.45L209.1 212.38L209.33 212.31L209.57 212.23L209.84 212.14L210.12 212.04L210.41 211.92L210.73 211.78L211.05 211.62L211.38 211.43L211.72 211.22L212.06 211L212.39 210.76L212.72 210.52L213.03 210.29L213.35 210.08L213.67 209.88L213.99 209.69L214.32 209.53L214.65 209.39L214.98 209.27L215.32 209.17L215.67 209.09L216.04 209.01L216.44 208.93L216.85 208.83L217.25 208.74L217.65 208.65L218.03 208.56L218.4 208.47L218.75 208.39L219.09 208.32L219.41 208.26L219.71 208.21L220 208.18L220.29 208.16L220.62 208.17L220.96 208.21L221.33 208.26L221.71 208.34L222.1 208.45L222.47 208.57L222.84 208.72L223.21 208.88L223.57 209.06L223.92 209.24L224.27 209.42L224.6 209.6L224.92 209.78L225.22 209.95L225.54 210.13L225.85 210.32L226.17 210.5L226.51 210.67L226.85 210.84L227.2 211L227.57 211.15L227.95 211.29L228.35 211.42L228.75 211.52L229.15 211.61L229.54 211.66L229.91 211.7L230.25 211.73L230.57 211.75L230.88 211.77L231.16 211.79L231.44 211.81L231.7 211.85L231.97 211.89L232.25 211.96L232.54 212.04L232.84 212.14L233.14 212.25L233.44 212.38L233.73 212.53L234.03 212.7L234.32 212.89L234.62 213.1L234.93 213.34L235.24 213.6L235.55 213.88L235.87 214.17L236.2 214.48L236.56 214.81L236.94 215.16L237.34 215.52L237.78 215.87L238.24 216.22L238.71 216.55L239.18 216.85L239.65 217.14L240.11 217.41L240.56 217.67L240.99 217.91L241.39 218.14L241.78 218.35L242.14 218.56L242.48 218.76L242.8 218.97L243.1 219.18L243.4 219.41L243.68 219.64L243.95 219.9L244.21 220.17L244.46 220.46L244.73 220.79L245.01 221.16L245.31 221.56L245.63 221.98L245.98 222.42L246.34 222.85L246.73 223.29L247.11 223.71L247.5 224.13L247.87 224.54L248.23 224.94L248.56 225.34L248.86 225.73L249.14 226.13L249.39 226.56L249.63 227.02L249.86 227.53L250.09 228.07L250.33 228.65L250.58 229.25L250.86 229.86L251.17 230.47L251.5 231.06L251.86 231.61L252.23 232.13L252.6 232.6L252.96 233.05L253.31 233.47L253.64 233.88L253.94 234.27L254.21 234.64L254.45 235.01L254.66 235.38L254.86 235.75L255.04 236.12L255.2 236.49L255.36 236.85L255.49 237.21L255.62 237.57L255.73 237.93L255.86 238.31L255.99 238.7L256.15 239.1L256.33 239.52L256.55 239.94L256.81 240.35L257.13 240.76L257.49 241.14L257.89 241.47L258.31 241.75L258.73 241.98L259.16 242.17L259.58 242.31L259.99 242.41L260.39 242.48L260.78 242.53L261.16 242.56L261.53 242.59L261.9 242.62L262.29 242.66L262.69 242.72L263.15 242.79L263.68 242.9L264.28 243.05L264.92 243.25L265.62 243.49L266.36 243.74L267.12 243.98L267.88 244.19L268.61 244.34L269.27 244.43L269.81 244.48L270.23 244.51" fill="none" stroke="#555" stroke-width="0.85"/>
<g fill="#5a5a5a"><circle cx="186.96" cy="242.26" r="0.6"/><circle cx="190.78" cy="239.37" r="0.6"/><circle cx="193.62" cy="235.53" r="0.6"/><circle cx="196.76" cy="231.94" r="0.6"/><circle cx="199.56" cy="228.07" r="0.6"/><circle cx="201.53" cy="223.7" r="0.6"/><circle cx="204.3" cy="219.8" r="0.6"/><circle cx="206.78" cy="215.81" r="0.6"/><circle cx="211.38" cy="214.44" r="0.6"/><circle cx="215.48" cy="211.97" r="0.6"/><circle cx="220.14" cy="210.87" r="0.6"/><circle cx="224.53" cy="212.67" r="0.6"/><circle cx="229" cy="214.31" r="0.6"/><circle cx="233.48" cy="215.65" r="0.6"/><circle cx="237.14" cy="218.74" r="0.6"/><circle cx="241.27" cy="221.19" r="0.6"/><circle cx="244.44" cy="224.77" r="0.6"/><circle cx="247.36" cy="228.55" r="0.6"/><circle cx="249.45" cy="232.86" r="0.6"/><circle cx="252.31" cy="236.7" r="0.6"/><circle cx="254.13" cy="241.14" r="0.6"/></g>
<path d="M184.2 242.2V302.9H256.3" fill="none" stroke="#808080" stroke-width="0.8" stroke-dasharray="0.9 1.1"/>
<rect x="253.5" y="242.8" width="1" height="1" fill="#777"/>
<rect x="253.5" y="248.4" width="1" height="1" fill="#777"/>
<rect x="253.5" y="254" width="1" height="1" fill="#777"/>
<rect x="253.5" y="259.6" width="1" height="1" fill="#777"/>
<rect x="253.5" y="265.2" width="1" height="1" fill="#777"/>
<rect x="253.5" y="270.8" width="1" height="1" fill="#777"/>
<rect x="253.5" y="276.4" width="1" height="1" fill="#777"/>
<rect x="253.5" y="282" width="1" height="1" fill="#777"/>
<rect x="253.5" y="287.6" width="1" height="1" fill="#777"/>
<rect x="253.5" y="293.2" width="1" height="1" fill="#777"/>
<rect x="253.5" y="298.8" width="1" height="1" fill="#777"/>
<text x="184.8" y="252.6">(h) CFMR, 1700 mL</text>
<text x="249.6" y="286.3" text-anchor="end">AB horizon</text>
<line x1="257.8" y1="283.3" x2="344.6" y2="283.3" stroke="#333" stroke-width="1.25" stroke-dasharray="4.5 3.8"/>
<line x1="269.4" y1="224.3" x2="259.9" y2="232.2" stroke="#222" stroke-width="1.1"/>
<path d="M258.3 233.5l1.1 -3.4l2.3 2.5z" fill="#222"/>
<text x="252.8" y="220.7">Film-mulched rock outcrop</text>
<rect x="431.3" y="242.8" width="88.8" height="60.1" fill="none" stroke="#3a3a3a" stroke-width="0.9"/>
<line x1="520.1" y1="242.8" x2="520.1" y2="238.5" stroke="#3a3a3a" stroke-width="0.9"/>
<line x1="505.22" y1="242.8" x2="505.22" y2="240.2" stroke="#3a3a3a" stroke-width="0.9"/>
<line x1="490.34" y1="242.8" x2="490.34" y2="238.5" stroke="#3a3a3a" stroke-width="0.9"/>
<line x1="475.46" y1="242.8" x2="475.46" y2="240.2" stroke="#3a3a3a" stroke-width="0.9"/>
<line x1="460.58" y1="242.8" x2="460.58" y2="238.5" stroke="#3a3a3a" stroke-width="0.9"/>
<line x1="445.7" y1="242.8" x2="445.7" y2="240.2" stroke="#3a3a3a" stroke-width="0.9"/>
<line x1="430.82" y1="242.8" x2="430.82" y2="238.5" stroke="#3a3a3a" stroke-width="0.9"/>
<line x1="520.1" y1="242.8" x2="524.4" y2="242.8" stroke="#3a3a3a" stroke-width="0.9"/>
<line x1="520.1" y1="257.82" x2="522.7" y2="257.82" stroke="#3a3a3a" stroke-width="0.9"/>
<line x1="520.1" y1="272.85" x2="524.4" y2="272.85" stroke="#3a3a3a" stroke-width="0.9"/>
<line x1="520.1" y1="287.88" x2="522.7" y2="287.88" stroke="#3a3a3a" stroke-width="0.9"/>
<line x1="520.1" y1="302.9" x2="524.4" y2="302.9" stroke="#3a3a3a" stroke-width="0.9"/>
<path d="M353.32 242.93L353.56 242.78L353.86 242.59L354.19 242.37L354.55 242.1L354.93 241.78L355.32 241.43L355.73 241.03L356.14 240.61L356.55 240.18L356.97 239.76L357.38 239.36L357.78 238.98L358.18 238.63L358.61 238.28L359.05 237.94L359.5 237.62L359.95 237.31L360.4 237.01L360.84 236.71L361.25 236.41L361.63 236.11L361.99 235.8L362.32 235.49L362.62 235.17L362.89 234.85L363.14 234.52L363.37 234.19L363.58 233.84L363.79 233.5L363.99 233.15L364.19 232.79L364.4 232.44L364.61 232.08L364.84 231.72L365.08 231.37L365.34 231.02L365.61 230.69L365.89 230.36L366.18 230.06L366.48 229.76L366.78 229.48L367.07 229.21L367.37 228.94L367.65 228.68L367.93 228.42L368.2 228.16L368.45 227.89L368.7 227.62L368.93 227.35L369.14 227.06L369.34 226.77L369.53 226.46L369.71 226.14L369.87 225.82L370.03 225.48L370.17 225.14L370.32 224.79L370.46 224.43L370.6 224.08L370.74 223.73L370.87 223.39L371.01 223.06L371.15 222.75L371.29 222.44L371.43 222.13L371.59 221.82L371.76 221.51L371.95 221.2L372.16 220.87L372.39 220.55L372.64 220.21L372.91 219.87L373.2 219.51L373.5 219.14L373.8 218.74L374.1 218.33L374.39 217.9L374.66 217.45L374.9 217L375.13 216.54L375.34 216.07L375.55 215.6L375.75 215.15L375.96 214.72L376.17 214.31L376.39 213.93L376.63 213.56L376.88 213.21L377.14 212.89L377.42 212.59L377.71 212.31L378 212.06L378.3 211.83L378.61 211.62L378.92 211.43L379.24 211.25L379.56 211.1L379.89 210.96L380.21 210.85L380.52 210.75L380.82 210.67L381.11 210.6L381.39 210.54L381.66 210.48L381.92 210.42L382.17 210.36L382.42 210.29L382.66 210.21L382.9 210.13L383.13 210.06L383.36 209.99L383.58 209.92L383.79 209.86L384 209.79L384.21 209.71L384.43 209.63L384.64 209.53L384.87 209.42L385.11 209.28L385.36 209.12L385.64 208.94L385.94 208.72L386.27 208.48L386.62 208.23L387 207.97L387.4 207.72L387.83 207.48L388.27 207.26L388.73 207.07L389.19 206.9L389.65 206.76L390.09 206.66L390.51 206.57L390.91 206.48L391.3 206.4L391.69 206.31L392.08 206.22L392.46 206.13L392.84 206.04L393.22 205.95L393.6 205.87L393.99 205.79L394.4 205.73L394.84 205.68L395.29 205.66L395.78 205.68L396.28 205.73L396.79 205.8L397.3 205.91L397.81 206.05L398.31 206.22L398.79 206.41L399.25 206.61L399.67 206.82L400.07 207.02L400.44 207.22L400.8 207.41L401.14 207.6L401.46 207.78L401.78 207.96L402.07 208.13L402.36 208.3L402.64 208.45L402.92 208.58L403.2 208.71L403.47 208.82L403.75 208.93L404.03 209.02L404.32 209.09L404.59 209.14L404.87 209.19L405.15 209.21L405.44 209.24L405.74 209.26L406.05 209.28L406.38 209.3L406.73 209.33L407.1 209.38L407.48 209.45L407.87 209.54L408.27 209.65L408.68 209.78L409.09 209.94L409.5 210.12L409.92 210.33L410.32 210.56L410.72 210.82L411.11 211.1L411.49 211.39L411.86 211.7L412.21 212.01L412.56 212.33L412.9 212.65L413.25 212.97L413.59 213.29L413.95 213.6L414.32 213.9L414.71 214.19L415.11 214.47L415.53 214.75L415.95 215.01L416.38 215.26L416.8 215.5L417.22 215.74L417.62 215.96L418.01 216.18L418.41 216.41L418.8 216.64L419.2 216.9L419.59 217.17L419.97 217.46L420.34 217.78L420.7 218.12L421.05 218.48L421.38 218.85L421.69 219.24L421.99 219.64L422.29 220.04L422.59 220.43L422.91 220.83L423.24 221.22L423.59 221.62L423.97 222.03L424.35 222.45L424.75 222.88L425.14 223.33L425.52 223.79L425.89 224.28L426.24 224.79L426.57 225.34L426.87 225.91L427.14 226.5L427.39 227.09L427.63 227.67L427.86 228.23L428.11 228.77L428.36 229.28L428.64 229.76L428.93 230.21L429.25 230.64L429.57 231.06L429.91 231.49L430.26 231.91L430.61 232.35L430.95 232.79L431.27 233.24L431.57 233.69L431.84 234.15L432.08 234.61L432.3 235.06L432.5 235.5L432.68 235.93L432.84 236.35L432.98 236.75L433.11 237.14L433.22 237.5L433.34 237.83L433.45 238.14L433.58 238.42L433.71 238.68L433.86 238.91L434.02 239.12L434.2 239.31L434.4 239.48L434.62 239.62L434.83 239.74L435.05 239.83L435.28 239.91L435.52 239.96L435.78 240.01L436.07 240.05L436.39 240.07L436.75 240.1L437.15 240.14L437.6 240.18L438.08 240.25L438.64 240.34L439.27 240.47L439.95 240.65L440.67 240.87L441.4 241.11L442.12 241.36L442.81 241.58L443.46 241.75L444.06 241.88L444.6 241.95L445.07 242L445.43 242.02" fill="none" stroke="#2e2e2e" stroke-width="1.05"/>
<path d="M354.64 245.05L354.92 244.88L355.26 244.67L355.66 244.39L356.11 244.05L356.57 243.67L357.03 243.25L357.48 242.81L357.92 242.37L358.33 241.94L358.73 241.53L359.1 241.16L359.45 240.84L359.79 240.54L360.15 240.24L360.54 239.95L360.94 239.66L361.38 239.37L361.83 239.06L362.29 238.74L362.76 238.4L363.23 238.03L363.67 237.65L364.09 237.25L364.48 236.84L364.84 236.42L365.16 235.99L365.45 235.57L365.7 235.16L365.94 234.77L366.15 234.4L366.35 234.05L366.55 233.71L366.73 233.4L366.92 233.11L367.11 232.82L367.31 232.56L367.52 232.29L367.74 232.04L367.98 231.79L368.23 231.55L368.49 231.3L368.77 231.04L369.06 230.78L369.36 230.51L369.66 230.22L369.98 229.92L370.29 229.59L370.59 229.25L370.89 228.89L371.17 228.52L371.44 228.13L371.69 227.73L371.91 227.32L372.12 226.91L372.3 226.51L372.48 226.11L372.63 225.73L372.78 225.36L372.92 225L373.05 224.66L373.18 224.34L373.31 224.04L373.43 223.76L373.55 223.5L373.67 223.25L373.79 223L373.93 222.76L374.07 222.52L374.23 222.27L374.42 222.01L374.63 221.73L374.87 221.41L375.16 221.06L375.48 220.66L375.81 220.22L376.16 219.74L376.5 219.23L376.82 218.7L377.12 218.16L377.38 217.62L377.62 217.11L377.82 216.64L378.01 216.21L378.19 215.84L378.36 215.52L378.53 215.23L378.69 214.97L378.86 214.73L379.04 214.52L379.21 214.33L379.39 214.16L379.58 214L379.77 213.85L379.97 213.72L380.18 213.59L380.38 213.48L380.59 213.38L380.79 213.29L381 213.22L381.22 213.16L381.45 213.09L381.69 213.04L381.95 212.98L382.23 212.92L382.51 212.85L382.82 212.77L383.12 212.69L383.4 212.6L383.66 212.52L383.88 212.45L384.1 212.38L384.33 212.31L384.57 212.23L384.84 212.14L385.12 212.04L385.41 211.92L385.73 211.78L386.05 211.62L386.38 211.43L386.72 211.22L387.06 211L387.39 210.76L387.72 210.52L388.03 210.29L388.35 210.08L388.67 209.88L388.99 209.69L389.32 209.53L389.65 209.39L389.98 209.27L390.32 209.17L390.67 209.09L391.04 209.01L391.44 208.93L391.85 208.83L392.25 208.74L392.65 208.65L393.03 208.56L393.4 208.47L393.75 208.39L394.09 208.32L394.41 208.26L394.71 208.21L395 208.18L395.29 208.16L395.62 208.17L395.96 208.21L396.33 208.26L396.71 208.34L397.1 208.45L397.47 208.57L397.84 208.72L398.21 208.88L398.57 209.06L398.92 209.24L399.27 209.42L399.6 209.6L399.92 209.78L400.22 209.95L400.54 210.13L400.85 210.32L401.17 210.5L401.51 210.67L401.85 210.84L402.2 211L402.57 211.15L402.95 211.29L403.35 211.42L403.75 211.52L404.15 211.61L404.54 211.66L404.91 211.7L405.25 211.73L405.57 211.75L405.88 211.77L406.16 211.79L406.44 211.81L406.7 211.85L406.97 211.89L407.25 211.96L407.54 212.04L407.84 212.14L408.14 212.25L408.44 212.38L408.73 212.53L409.03 212.7L409.32 212.89L409.62 213.1L409.93 213.34L410.24 213.6L410.55 213.88L410.87 214.17L411.2 214.48L411.56 214.81L411.94 215.16L412.34 215.52L412.78 215.87L413.24 216.22L413.71 216.55L414.18 216.85L414.65 217.14L415.11 217.41L415.56 217.67L415.99 217.91L416.39 218.14L416.78 218.35L417.14 218.56L417.48 218.76L417.8 218.97L418.1 219.18L418.4 219.41L418.68 219.64L418.95 219.9L419.21 220.17L419.46 220.46L419.73 220.79L420.01 221.16L420.31 221.56L420.63 221.98L420.98 222.42L421.34 222.85L421.73 223.29L422.11 223.71L422.5 224.13L422.87 224.54L423.23 224.94L423.56 225.34L423.86 225.73L424.14 226.13L424.39 226.56L424.63 227.02L424.86 227.53L425.09 228.07L425.33 228.65L425.58 229.25L425.86 229.86L426.17 230.47L426.5 231.06L426.86 231.61L427.23 232.13L427.6 232.6L427.96 233.05L428.31 233.47L428.64 233.88L428.94 234.27L429.21 234.64L429.45 235.01L429.66 235.38L429.86 235.75L430.04 236.12L430.2 236.49L430.36 236.85L430.49 237.21L430.62 237.57L430.73 237.93L430.86 238.31L430.99 238.7L431.15 239.1L431.33 239.52L431.55 239.94L431.81 240.35L432.13 240.76L432.49 241.14L432.89 241.47L433.31 241.75L433.73 241.98L434.16 242.17L434.58 242.31L434.99 242.41L435.39 242.48L435.78 242.53L436.16 242.56L436.53 242.59L436.9 242.62L437.29 242.66L437.69 242.72L438.15 242.79L438.68 242.9L439.28 243.05L439.92 243.25L440.62 243.49L441.36 243.74L442.12 243.98L442.88 244.19L443.61 244.34L444.27 244.43L444.81 244.48L445.23 244.51" fill="none" stroke="#555" stroke-width="0.85"/>
<g fill="#5a5a5a"><circle cx="361.96" cy="242.26" r="0.6"/><circle cx="365.78" cy="239.37" r="0.6"/><circle cx="368.62" cy="235.53" r="0.6"/><circle cx="371.76" cy="231.94" r="0.6"/><circle cx="374.56" cy="228.07" r="0.6"/><circle cx="376.53" cy="223.7" r="0.6"/><circle cx="379.3" cy="219.8" r="0.6"/><circle cx="381.78" cy="215.81" r="0.6"/><circle cx="386.38" cy="214.44" r="0.6"/><circle cx="390.48" cy="211.97" r="0.6"/><circle cx="395.14" cy="210.87" r="0.6"/><circle cx="399.53" cy="212.67" r="0.6"/><circle cx="404" cy="214.31" r="0.6"/><circle cx="408.48" cy="215.65" r="0.6"/><circle cx="412.14" cy="218.74" r="0.6"/><circle cx="416.27" cy="221.19" r="0.6"/><circle cx="419.44" cy="224.77" r="0.6"/><circle cx="422.36" cy="228.55" r="0.6"/><circle cx="424.45" cy="232.86" r="0.6"/><circle cx="427.31" cy="236.7" r="0.6"/><circle cx="429.13" cy="241.14" r="0.6"/></g>
<path d="M359.2 242.2V302.9H431.3" fill="none" stroke="#808080" stroke-width="0.8" stroke-dasharray="0.9 1.1"/>
<rect x="428.5" y="242.8" width="1" height="1" fill="#777"/>
<rect x="428.5" y="248.4" width="1" height="1" fill="#777"/>
<rect x="428.5" y="254" width="1" height="1" fill="#777"/>
<rect x="428.5" y="259.6" width="1" height="1" fill="#777"/>
<rect x="428.5" y="265.2" width="1" height="1" fill="#777"/>
<rect x="428.5" y="270.8" width="1" height="1" fill="#777"/>
<rect x="428.5" y="276.4" width="1" height="1" fill="#777"/>
<rect x="428.5" y="282" width="1" height="1" fill="#777"/>
<rect x="428.5" y="287.6" width="1" height="1" fill="#777"/>
<rect x="428.5" y="293.2" width="1" height="1" fill="#777"/>
<rect x="428.5" y="298.8" width="1" height="1" fill="#777"/>
<text x="359.8" y="252.4">(i) CFMR, 3400 mL</text>
<text x="424.6" y="286.3" text-anchor="end">AB horizon</text>
<line x1="432.8" y1="283.5" x2="519.6" y2="283.5" stroke="#333" stroke-width="1.25" stroke-dasharray="4.5 3.8"/>
<line x1="444.4" y1="224.3" x2="434.9" y2="232.2" stroke="#222" stroke-width="1.1"/>
<path d="M433.3 233.5l1.1 -3.4l2.3 2.5z" fill="#222"/>
<text x="427.8" y="220.7">Film-mulched rock outcrop</text>
<text x="530.4" y="244" text-anchor="middle">0</text>
<text x="530.4" y="275.45" text-anchor="middle">10</text>
<text x="530.4" y="303.6" text-anchor="middle">20</text>
<text transform="translate(546.3,270.05) rotate(-90)" text-anchor="middle">Depth (cm)</text>
</svg>
</body></html>
